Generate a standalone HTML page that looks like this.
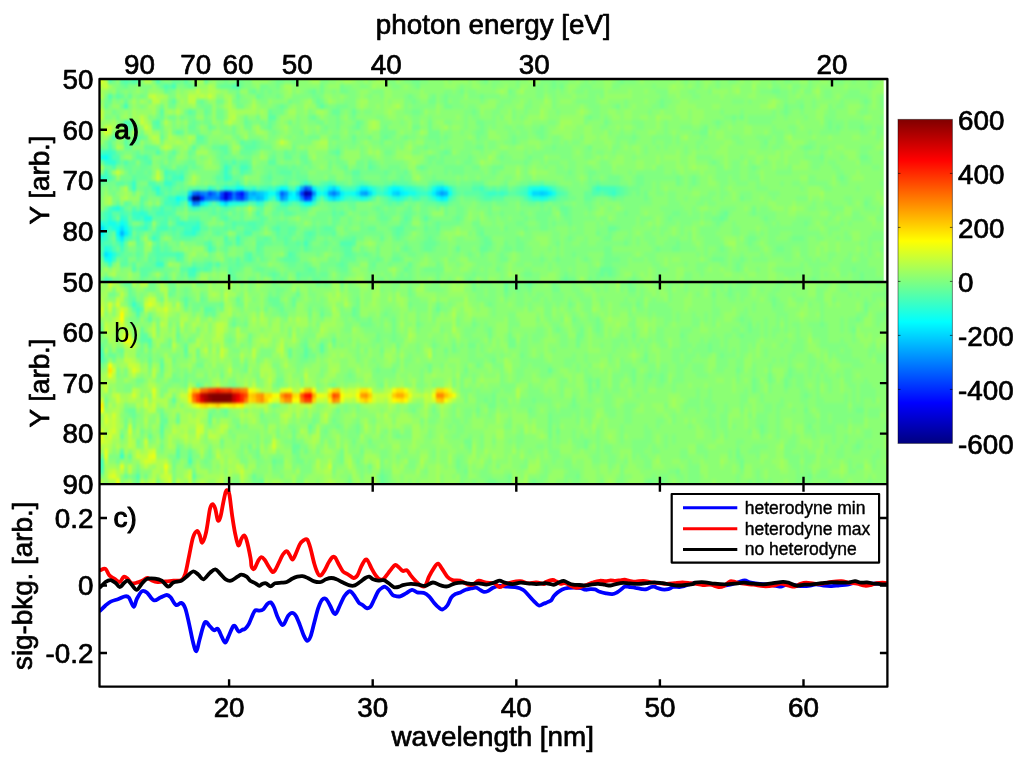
<!DOCTYPE html>
<html lang="en"><head><meta charset="utf-8"><title>figure</title>
<style>html,body{margin:0;padding:0;background:#fff}body{width:1024px;height:765px;overflow:hidden}svg{display:block;filter:blur(.45px)}</style></head>
<body>
<svg width="1024" height="765" viewBox="0 0 1024 765" font-family='"Liberation Sans", sans-serif' font-size="27.8" fill="#000">
<style>text{stroke:#000;stroke-width:.7px;stroke-linejoin:round}</style>
<defs>
<filter id="bl" x="-5%" y="-10%" width="110%" height="120%" color-interpolation-filters="sRGB"><feGaussianBlur stdDeviation="1.25 1.4"/></filter>
<clipPath id="cA"><rect x="99.5" y="79.0" width="787.9" height="203.0"/></clipPath>
<clipPath id="cB"><rect x="99.5" y="282.0" width="787.9" height="202.2"/></clipPath>
<clipPath id="cC"><rect x="99.5" y="484.2" width="787.9" height="202.5"/></clipPath>
<linearGradient id="jet" x1="0" y1="0" x2="0" y2="1"><stop offset="0" stop-color="#800000"/><stop offset="0.125" stop-color="#ff0000"/><stop offset="0.375" stop-color="#ffff00"/><stop offset="0.625" stop-color="#00ffff"/><stop offset="0.875" stop-color="#0000ff"/><stop offset="1" stop-color="#000080"/></linearGradient>
</defs>
<rect width="1024" height="765" fill="#fff" stroke="none"/>
<g clip-path="url(#cA)" stroke="none"><g filter="url(#bl)">
<rect x="87.5" y="67.0" width="811.9" height="227.0" fill="#8bff74"/>
<g transform="translate(95.50 73.925) scale(4.000 5.0750)" shape-rendering="crispEdges">
<path fill="#000080" d="M24 24h2v1h-2z"/>
<path fill="#0000a2" d="M52 23h1v1h-1z"/>
<path fill="#0000c5" d="M53 23h1v1h-1z"/>
<path fill="#0000dd" d="M32 23h1v1h-1zM32 24h1v1h-1z"/>
<path fill="#000eff" d="M36 23h1v1h-1z"/>
<path fill="#001aff" d="M33 23h1v1h-1zM26 24h1v1h-1z"/>
<path fill="#0025ff" d="M52 24h1v1h-1z"/>
<path fill="#0031ff" d="M35 23h1v1h-1zM51 23h1v1h-1zM31 24h1v1h-1zM33 24h1v1h-1zM36 24h1v1h-1z"/>
<path fill="#003dff" d="M31 23h1v1h-1zM53 24h1v1h-1z"/>
<path fill="#0049ff" d="M28 23h1v1h-1zM35 24h1v1h-1z"/>
<path fill="#0055ff" d="M52 22h1v1h-1zM25 23h1v1h-1z"/>
<path fill="#0061ff" d="M46 23h1v1h-1z"/>
<path fill="#006dff" d="M24 23h1v1h-1zM29 23h1v1h-1zM34 23h1v1h-1zM37 23h1v1h-1zM27 24h1v1h-1z"/>
<path fill="#0079ff" d="M53 22h1v1h-1zM26 23h1v1h-1zM59 23h1v1h-1zM23 24h1v1h-1zM28 24h1v1h-1zM30 24h1v1h-1zM34 24h1v1h-1zM37 24h1v1h-1zM24 25h1v1h-1z"/>
<path fill="#0085ff" d="M27 23h1v1h-1zM54 23h1v1h-1zM29 24h1v1h-1zM51 24h1v1h-1zM25 25h1v1h-1z"/>
<path fill="#0090ff" d="M47 23h1v1h-1zM46 24h1v1h-1z"/>
<path fill="#009cff" d="M30 23h1v1h-1zM58 23h1v1h-1zM67 23h1v1h-1zM86 23h1v1h-1z"/>
<path fill="#00a8ff" d="M51 22h1v1h-1zM39 23h1v1h-1zM60 23h1v1h-1zM66 23h1v1h-1z"/>
<path fill="#00b4ff" d="M38 23h1v1h-1zM50 23h1v1h-1zM87 23h1v1h-1zM40 24h1v1h-1zM47 24h1v1h-1zM6 31h1v1h-1z"/>
<path fill="#00c0ff" d="M40 23h1v1h-1zM85 23h1v1h-1zM38 24h1v1h-1zM41 24h1v1h-1z"/>
<path fill="#00ccff" d="M41 23h1v1h-1zM45 23h1v1h-1zM75 23h1v1h-1zM111 23h1v1h-1zM39 24h1v1h-1z"/>
<path fill="#00d8ff" d="M59 22h1v1h-1zM23 23h1v1h-1zM68 23h1v1h-1zM74 23h1v1h-1zM109 23h2v1h-2zM112 23h1v1h-1zM54 24h1v1h-1zM59 24h1v1h-1zM32 25h1v1h-1zM0 30h1v1h-1z"/>
<path fill="#00e4ff" d="M86 22h1v1h-1zM42 23h1v1h-1zM48 23h1v1h-1zM65 23h1v1h-1zM50 24h1v1h-1zM26 25h1v1h-1zM1 30h1v1h-1zM6 30h1v1h-1zM2 35h1v1h-1z"/>
<path fill="#00f0ff" d="M54 22h1v1h-1zM58 22h1v1h-1zM66 22h2v1h-2zM85 22h1v1h-1zM57 23h1v1h-1zM61 23h1v1h-1zM76 23h1v1h-1zM84 23h1v1h-1zM113 23h1v1h-1zM42 24h1v1h-1zM45 24h1v1h-1zM58 24h1v1h-1zM60 24h1v1h-1zM86 24h1v1h-1zM0 29h1v1h-1zM0 31h1v1h-1zM7 31h1v1h-1zM6 32h1v1h-1z"/>
<path fill="#00fcff" d="M46 22h1v1h-1zM60 22h1v1h-1zM74 22h2v1h-2zM87 22h1v1h-1zM49 23h1v1h-1zM55 23h1v1h-1zM77 23h1v1h-1zM48 24h2v1h-2zM87 24h1v1h-1zM23 25h1v1h-1zM31 25h1v1h-1zM1 31h1v1h-1zM5 31h1v1h-1zM3 35h1v1h-1z"/>
<path fill="#09fff6" d="M2 16h1v1h-1zM35 22h2v1h-2zM47 22h1v1h-1zM50 22h1v1h-1zM111 22h1v1h-1zM43 23h2v1h-2zM64 23h1v1h-1zM73 23h1v1h-1zM88 23h1v1h-1zM108 23h1v1h-1zM20 24h1v1h-1zM85 24h1v1h-1zM52 25h2v1h-2zM6 29h1v1h-1zM5 30h1v1h-1zM7 30h1v1h-1zM3 36h1v1h-1z"/>
<path fill="#14ffeb" d="M3 0h1v1h-1zM1 16h1v1h-1zM68 22h1v1h-1zM73 22h1v1h-1zM76 22h1v1h-1zM84 22h1v1h-1zM109 22h2v1h-2zM112 22h1v1h-1zM56 23h1v1h-1zM62 23h2v1h-2zM69 23h1v1h-1zM78 23h2v1h-2zM114 23h1v1h-1zM61 24h1v1h-1zM66 24h1v1h-1zM111 24h1v1h-1zM27 25h1v1h-1zM33 25h1v1h-1zM3 29h2v1h-2zM2 30h1v1h-1zM2 36h1v1h-1zM3 41h1v1h-1z"/>
<path fill="#20ffdf" d="M0 20h1v1h-1zM32 22h1v1h-1zM45 22h1v1h-1zM57 22h1v1h-1zM65 22h1v1h-1zM108 22h1v1h-1zM72 23h1v1h-1zM83 23h1v1h-1zM21 24h1v1h-1zM67 24h1v1h-1zM75 24h1v1h-1zM109 24h2v1h-2zM112 24h1v1h-1zM34 25h2v1h-2zM5 26h1v1h-1zM12 28h2v1h-2zM1 29h1v1h-1zM7 29h1v1h-1zM4 30h1v1h-1zM5 32h1v1h-1zM2 34h1v1h-1zM4 35h1v1h-1zM2 41h1v1h-1z"/>
<path fill="#2cffd3" d="M3 16h1v1h-1zM3 17h2v1h-2zM1 20h1v1h-1zM15 22h1v1h-1zM28 22h1v1h-1zM33 22h2v1h-2zM39 22h1v1h-1zM55 22h1v1h-1zM69 22h1v1h-1zM77 22h2v1h-2zM88 22h1v1h-1zM113 22h1v1h-1zM80 23h1v1h-1zM22 24h1v1h-1zM43 24h1v1h-1zM57 24h1v1h-1zM65 24h1v1h-1zM74 24h1v1h-1zM76 24h1v1h-1zM84 24h1v1h-1zM20 25h1v1h-1zM36 25h1v1h-1zM40 25h1v1h-1zM47 25h1v1h-1zM51 25h1v1h-1zM4 26h1v1h-1zM11 27h1v1h-1zM3 28h1v1h-1zM6 28h1v1h-1zM2 29h1v1h-1zM5 29h1v1h-1zM24 30h2v1h-2zM8 31h1v1h-1zM24 31h1v1h-1zM1 32h1v1h-1zM6 33h1v1h-1zM3 34h1v1h-1z"/>
<path fill="#38ffc7" d="M2 15h2v1h-2zM2 17h1v1h-1zM32 18h1v1h-1zM32 19h1v1h-1zM2 20h1v1h-1zM21 20h1v1h-1zM32 20h1v1h-1zM9 21h1v1h-1zM17 21h2v1h-2zM52 21h1v1h-1zM9 22h1v1h-1zM37 22h1v1h-1zM43 22h1v1h-1zM56 22h1v1h-1zM61 22h1v1h-1zM72 22h1v1h-1zM79 22h1v1h-1zM125 22h1v1h-1zM15 23h1v1h-1zM70 23h2v1h-2zM81 23h2v1h-2zM98 23h2v1h-2zM101 23h1v1h-1zM107 23h1v1h-1zM129 23h1v1h-1zM18 24h2v1h-2zM55 24h1v1h-1zM62 24h1v1h-1zM64 24h1v1h-1zM68 24h1v1h-1zM108 24h1v1h-1zM113 24h1v1h-1zM19 25h1v1h-1zM28 25h1v1h-1zM30 25h1v1h-1zM37 25h1v1h-1zM41 25h1v1h-1zM46 25h1v1h-1zM54 25h1v1h-1zM24 26h1v1h-1zM3 27h1v1h-1zM9 27h2v1h-2zM12 27h1v1h-1zM7 28h1v1h-1zM10 28h1v1h-1zM21 29h1v1h-1zM25 29h1v1h-1zM3 30h1v1h-1zM8 30h1v1h-1zM12 30h1v1h-1zM2 31h1v1h-1zM22 31h2v1h-2zM2 32h1v1h-1zM7 32h1v1h-1zM14 32h1v1h-1zM4 36h1v1h-1zM3 37h1v1h-1zM15 37h2v1h-2zM24 38h1v1h-1z"/>
<path fill="#44ffbb" d="M19 2h1v1h-1zM7 6h1v1h-1zM7 9h1v1h-1zM1 15h1v1h-1zM4 15h1v1h-1zM36 18h2v1h-2zM2 19h1v1h-1zM17 19h1v1h-1zM19 20h2v1h-2zM33 20h1v1h-1zM35 21h1v1h-1zM58 21h1v1h-1zM14 22h1v1h-1zM29 22h1v1h-1zM31 22h1v1h-1zM38 22h1v1h-1zM41 22h2v1h-2zM44 22h1v1h-1zM48 22h1v1h-1zM62 22h3v1h-3zM70 22h1v1h-1zM80 22h1v1h-1zM83 22h1v1h-1zM96 22h1v1h-1zM107 22h1v1h-1zM114 22h1v1h-1zM126 22h4v1h-4zM89 23h1v1h-1zM97 23h1v1h-1zM100 23h1v1h-1zM102 23h1v1h-1zM106 23h1v1h-1zM115 23h1v1h-1zM128 23h1v1h-1zM44 24h1v1h-1zM63 24h1v1h-1zM73 24h1v1h-1zM77 24h1v1h-1zM79 24h2v1h-2zM83 24h1v1h-1zM88 24h1v1h-1zM114 24h1v1h-1zM17 25h2v1h-2zM48 25h1v1h-1zM3 26h1v1h-1zM6 26h1v1h-1zM16 26h1v1h-1zM25 26h1v1h-1zM2 27h1v1h-1zM6 27h1v1h-1zM15 27h2v1h-2zM2 28h1v1h-1zM9 28h1v1h-1zM11 28h1v1h-1zM12 29h1v1h-1zM20 29h1v1h-1zM22 29h3v1h-3zM11 30h1v1h-1zM16 30h2v1h-2zM22 30h2v1h-2zM0 32h1v1h-1zM35 32h1v1h-1zM0 33h2v1h-2zM52 33h1v1h-1zM6 34h1v1h-1zM28 34h1v1h-1zM1 35h1v1h-1zM5 35h1v1h-1zM20 35h1v1h-1zM0 38h1v1h-1zM23 38h1v1h-1zM23 39h2v1h-2zM2 40h1v1h-1z"/>
<path fill="#50ffaf" d="M9 0h2v1h-2zM15 0h1v1h-1zM7 1h1v1h-1zM9 1h1v1h-1zM15 1h1v1h-1zM17 2h1v1h-1zM34 2h2v1h-2zM3 4h1v1h-1zM8 9h1v1h-1zM15 9h1v1h-1zM8 10h1v1h-1zM4 12h1v1h-1zM3 14h1v1h-1zM15 15h1v1h-1zM0 16h1v1h-1zM4 16h2v1h-2zM12 16h1v1h-1zM5 17h1v1h-1zM7 17h1v1h-1zM13 17h1v1h-1zM34 17h1v1h-1zM4 18h1v1h-1zM33 18h1v1h-1zM18 19h2v1h-2zM21 19h1v1h-1zM36 19h1v1h-1zM3 20h1v1h-1zM17 20h1v1h-1zM13 21h2v1h-2zM19 21h1v1h-1zM51 21h1v1h-1zM53 21h1v1h-1zM57 21h1v1h-1zM59 21h1v1h-1zM66 21h1v1h-1zM74 21h1v1h-1zM85 21h2v1h-2zM18 22h1v1h-1zM25 22h1v1h-1zM40 22h1v1h-1zM49 22h1v1h-1zM71 22h1v1h-1zM81 22h1v1h-1zM89 22h1v1h-1zM94 22h2v1h-2zM106 22h1v1h-1zM124 22h1v1h-1zM130 22h1v1h-1zM16 23h1v1h-1zM21 23h2v1h-2zM96 23h1v1h-1zM105 23h1v1h-1zM116 23h1v1h-1zM124 23h2v1h-2zM127 23h1v1h-1zM130 23h1v1h-1zM17 24h1v1h-1zM97 24h2v1h-2zM107 24h1v1h-1zM21 25h1v1h-1zM39 25h1v1h-1zM50 25h1v1h-1zM86 25h2v1h-2zM9 26h1v1h-1zM11 26h1v1h-1zM19 26h1v1h-1zM23 26h1v1h-1zM32 26h1v1h-1zM7 27h1v1h-1zM17 27h2v1h-2zM40 27h1v1h-1zM0 28h1v1h-1zM4 28h1v1h-1zM17 28h1v1h-1zM20 28h1v1h-1zM32 28h1v1h-1zM13 29h1v1h-1zM16 29h2v1h-2zM34 29h1v1h-1zM38 29h2v1h-2zM10 30h1v1h-1zM15 30h1v1h-1zM19 30h1v1h-1zM39 30h1v1h-1zM45 30h1v1h-1zM3 31h1v1h-1zM15 31h1v1h-1zM21 31h1v1h-1zM25 31h1v1h-1zM37 31h2v1h-2zM53 31h1v1h-1zM8 32h1v1h-1zM10 32h1v1h-1zM15 32h1v1h-1zM32 32h1v1h-1zM2 33h2v1h-2zM5 33h1v1h-1zM28 33h1v1h-1zM35 33h1v1h-1zM61 33h3v1h-3zM1 34h1v1h-1zM4 34h1v1h-1zM15 34h1v1h-1zM15 35h5v1h-5zM21 35h1v1h-1zM38 35h1v1h-1zM48 35h1v1h-1zM15 36h1v1h-1zM20 36h1v1h-1zM38 36h1v1h-1zM0 37h1v1h-1zM28 37h1v1h-1zM30 37h1v1h-1zM9 38h1v1h-1zM25 38h1v1h-1zM27 38h1v1h-1zM3 40h1v1h-1zM54 41h2v1h-2z"/>
<path fill="#5cffa3" d="M2 0h1v1h-1zM4 0h1v1h-1zM14 0h1v1h-1zM3 1h1v1h-1zM6 1h1v1h-1zM8 1h1v1h-1zM10 1h1v1h-1zM22 1h1v1h-1zM18 2h1v1h-1zM5 4h1v1h-1zM0 5h1v1h-1zM19 5h1v1h-1zM56 6h1v1h-1zM16 7h1v1h-1zM23 7h1v1h-1zM43 8h2v1h-2zM14 9h1v1h-1zM15 10h1v1h-1zM20 11h1v1h-1zM10 12h1v1h-1zM25 12h2v1h-2zM3 13h1v1h-1zM7 13h1v1h-1zM36 13h1v1h-1zM39 13h1v1h-1zM24 14h1v1h-1zM31 14h2v1h-2zM37 14h3v1h-3zM0 15h1v1h-1zM19 15h1v1h-1zM32 15h1v1h-1zM60 15h1v1h-1zM10 16h2v1h-2zM12 17h1v1h-1zM32 17h1v1h-1zM36 17h2v1h-2zM43 17h2v1h-2zM22 18h1v1h-1zM38 18h1v1h-1zM68 18h1v1h-1zM20 19h1v1h-1zM31 19h1v1h-1zM33 19h1v1h-1zM37 19h1v1h-1zM46 19h3v1h-3zM64 19h2v1h-2zM9 20h1v1h-1zM18 20h1v1h-1zM30 20h2v1h-2zM43 20h1v1h-1zM0 21h1v1h-1zM5 21h2v1h-2zM8 21h1v1h-1zM32 21h1v1h-1zM34 21h1v1h-1zM47 21h1v1h-1zM56 21h1v1h-1zM65 21h1v1h-1zM67 21h1v1h-1zM75 21h3v1h-3zM84 21h1v1h-1zM111 21h1v1h-1zM0 22h1v1h-1zM16 22h2v1h-2zM23 22h2v1h-2zM26 22h2v1h-2zM82 22h1v1h-1zM97 22h1v1h-1zM99 22h1v1h-1zM101 22h2v1h-2zM105 22h1v1h-1zM115 22h1v1h-1zM131 22h1v1h-1zM0 23h1v1h-1zM18 23h1v1h-1zM20 23h1v1h-1zM90 23h1v1h-1zM92 23h4v1h-4zM103 23h2v1h-2zM117 23h1v1h-1zM126 23h1v1h-1zM131 23h1v1h-1zM11 24h1v1h-1zM56 24h1v1h-1zM69 24h1v1h-1zM72 24h1v1h-1zM78 24h1v1h-1zM81 24h2v1h-2zM89 24h1v1h-1zM96 24h1v1h-1zM99 24h3v1h-3zM115 24h1v1h-1zM7 25h1v1h-1zM11 25h1v1h-1zM29 25h1v1h-1zM38 25h1v1h-1zM49 25h1v1h-1zM73 25h1v1h-1zM75 25h1v1h-1zM85 25h1v1h-1zM14 26h2v1h-2zM17 26h2v1h-2zM26 26h2v1h-2zM29 26h1v1h-1zM31 26h1v1h-1zM33 26h1v1h-1zM41 26h1v1h-1zM45 26h3v1h-3zM51 26h2v1h-2zM1 27h1v1h-1zM4 27h2v1h-2zM8 27h1v1h-1zM13 27h2v1h-2zM19 27h1v1h-1zM29 27h1v1h-1zM31 27h1v1h-1zM47 27h2v1h-2zM59 27h1v1h-1zM61 27h1v1h-1zM1 28h1v1h-1zM14 28h3v1h-3zM19 28h1v1h-1zM23 28h3v1h-3zM31 28h1v1h-1zM41 28h1v1h-1zM77 28h1v1h-1zM82 28h1v1h-1zM8 29h1v1h-1zM26 29h1v1h-1zM35 29h3v1h-3zM40 29h2v1h-2zM9 30h1v1h-1zM13 30h1v1h-1zM18 30h1v1h-1zM20 30h2v1h-2zM26 30h2v1h-2zM32 30h1v1h-1zM34 30h1v1h-1zM37 30h2v1h-2zM40 30h1v1h-1zM44 30h1v1h-1zM48 30h2v1h-2zM57 30h2v1h-2zM75 30h2v1h-2zM10 31h1v1h-1zM14 31h1v1h-1zM19 31h1v1h-1zM30 31h1v1h-1zM45 31h1v1h-1zM48 31h1v1h-1zM52 31h1v1h-1zM54 31h1v1h-1zM59 31h1v1h-1zM75 31h1v1h-1zM3 32h1v1h-1zM21 32h3v1h-3zM42 32h1v1h-1zM47 32h1v1h-1zM52 32h2v1h-2zM64 32h1v1h-1zM10 33h1v1h-1zM15 33h1v1h-1zM27 33h1v1h-1zM32 33h2v1h-2zM40 33h2v1h-2zM47 33h1v1h-1zM50 33h1v1h-1zM64 33h1v1h-1zM14 34h1v1h-1zM17 34h1v1h-1zM29 34h1v1h-1zM40 34h1v1h-1zM52 34h1v1h-1zM62 34h2v1h-2zM6 35h1v1h-1zM10 35h1v1h-1zM14 35h1v1h-1zM37 35h1v1h-1zM49 35h1v1h-1zM62 35h2v1h-2zM7 36h1v1h-1zM13 36h1v1h-1zM16 36h1v1h-1zM21 36h1v1h-1zM35 36h1v1h-1zM37 36h1v1h-1zM47 36h3v1h-3zM6 37h2v1h-2zM9 37h1v1h-1zM14 37h1v1h-1zM24 37h1v1h-1zM27 37h1v1h-1zM35 37h1v1h-1zM61 37h1v1h-1zM11 38h3v1h-3zM21 38h2v1h-2zM26 38h1v1h-1zM28 38h1v1h-1zM33 38h1v1h-1zM53 38h1v1h-1zM11 39h2v1h-2zM33 39h1v1h-1zM44 39h1v1h-1zM50 39h1v1h-1zM17 40h1v1h-1zM34 40h1v1h-1zM1 41h1v1h-1zM4 41h1v1h-1zM19 41h1v1h-1zM25 41h2v1h-2zM28 41h1v1h-1zM44 41h1v1h-1z"/>
<path fill="#68ff97" d="M6 0h1v1h-1zM48 0h2v1h-2zM79 0h1v1h-1zM19 1h2v1h-2zM27 1h1v1h-1zM35 1h1v1h-1zM7 2h1v1h-1zM16 2h1v1h-1zM23 2h1v1h-1zM31 2h3v1h-3zM17 3h1v1h-1zM39 3h1v1h-1zM54 3h1v1h-1zM6 4h1v1h-1zM8 4h1v1h-1zM35 4h1v1h-1zM40 4h1v1h-1zM3 5h1v1h-1zM7 5h1v1h-1zM26 5h1v1h-1zM55 5h1v1h-1zM2 6h1v1h-1zM46 6h1v1h-1zM24 7h1v1h-1zM27 7h1v1h-1zM43 7h1v1h-1zM59 7h2v1h-2zM64 7h1v1h-1zM16 8h1v1h-1zM54 8h1v1h-1zM24 9h1v1h-1zM37 9h1v1h-1zM43 9h1v1h-1zM65 9h1v1h-1zM14 10h1v1h-1zM23 10h2v1h-2zM28 10h1v1h-1zM43 10h1v1h-1zM65 10h1v1h-1zM21 11h1v1h-1zM7 12h1v1h-1zM11 12h1v1h-1zM16 12h1v1h-1zM64 12h1v1h-1zM72 12h1v1h-1zM9 13h2v1h-2zM25 13h2v1h-2zM37 13h2v1h-2zM40 13h1v1h-1zM7 14h2v1h-2zM12 14h3v1h-3zM29 14h2v1h-2zM40 14h1v1h-1zM5 15h1v1h-1zM10 15h1v1h-1zM23 15h1v1h-1zM31 15h1v1h-1zM36 15h3v1h-3zM47 15h1v1h-1zM59 15h1v1h-1zM87 15h1v1h-1zM198 15h1v1h-1zM13 16h1v1h-1zM18 16h1v1h-1zM31 16h1v1h-1zM44 16h1v1h-1zM47 16h2v1h-2zM51 16h2v1h-2zM198 16h1v1h-1zM1 17h1v1h-1zM6 17h1v1h-1zM8 17h2v1h-2zM11 17h1v1h-1zM23 17h2v1h-2zM31 17h1v1h-1zM33 17h1v1h-1zM35 17h1v1h-1zM38 17h1v1h-1zM52 17h1v1h-1zM68 17h1v1h-1zM2 18h2v1h-2zM7 18h2v1h-2zM11 18h2v1h-2zM16 18h2v1h-2zM20 18h2v1h-2zM24 18h1v1h-1zM31 18h1v1h-1zM35 18h1v1h-1zM45 18h3v1h-3zM49 18h1v1h-1zM62 18h1v1h-1zM69 18h1v1h-1zM81 18h1v1h-1zM3 19h1v1h-1zM8 19h1v1h-1zM10 19h2v1h-2zM13 19h1v1h-1zM22 19h1v1h-1zM38 19h1v1h-1zM43 19h1v1h-1zM45 19h1v1h-1zM50 19h1v1h-1zM72 19h1v1h-1zM77 19h1v1h-1zM4 20h1v1h-1zM10 20h3v1h-3zM34 20h2v1h-2zM42 20h1v1h-1zM47 20h2v1h-2zM50 20h3v1h-3zM64 20h2v1h-2zM76 20h1v1h-1zM1 21h1v1h-1zM7 21h1v1h-1zM15 21h2v1h-2zM20 21h2v1h-2zM30 21h2v1h-2zM33 21h1v1h-1zM36 21h1v1h-1zM42 21h2v1h-2zM46 21h1v1h-1zM60 21h2v1h-2zM64 21h1v1h-1zM68 21h1v1h-1zM72 21h2v1h-2zM78 21h1v1h-1zM83 21h1v1h-1zM87 21h1v1h-1zM94 21h3v1h-3zM108 21h3v1h-3zM125 21h1v1h-1zM8 22h1v1h-1zM12 22h2v1h-2zM19 22h1v1h-1zM21 22h1v1h-1zM30 22h1v1h-1zM90 22h4v1h-4zM98 22h1v1h-1zM100 22h1v1h-1zM104 22h1v1h-1zM116 22h1v1h-1zM132 22h1v1h-1zM12 23h1v1h-1zM14 23h1v1h-1zM17 23h1v1h-1zM19 23h1v1h-1zM91 23h1v1h-1zM122 23h2v1h-2zM132 23h1v1h-1zM0 24h1v1h-1zM12 24h1v1h-1zM16 24h1v1h-1zM71 24h1v1h-1zM95 24h1v1h-1zM106 24h1v1h-1zM116 24h2v1h-2zM122 24h2v1h-2zM129 24h1v1h-1zM0 25h1v1h-1zM5 25h1v1h-1zM8 25h1v1h-1zM16 25h1v1h-1zM22 25h1v1h-1zM42 25h1v1h-1zM45 25h1v1h-1zM55 25h1v1h-1zM58 25h3v1h-3zM63 25h2v1h-2zM72 25h1v1h-1zM74 25h1v1h-1zM76 25h1v1h-1zM82 25h3v1h-3zM88 25h1v1h-1zM108 25h2v1h-2zM111 25h1v1h-1zM2 26h1v1h-1zM7 26h1v1h-1zM10 26h1v1h-1zM12 26h1v1h-1zM20 26h2v1h-2zM28 26h1v1h-1zM34 26h1v1h-1zM40 26h1v1h-1zM59 26h1v1h-1zM64 26h1v1h-1zM70 26h1v1h-1zM78 26h1v1h-1zM116 26h2v1h-2zM0 27h1v1h-1zM28 27h1v1h-1zM30 27h1v1h-1zM32 27h1v1h-1zM34 27h1v1h-1zM36 27h1v1h-1zM41 27h1v1h-1zM44 27h2v1h-2zM49 27h1v1h-1zM60 27h1v1h-1zM71 27h1v1h-1zM77 27h2v1h-2zM117 27h1v1h-1zM157 27h1v1h-1zM8 28h1v1h-1zM18 28h1v1h-1zM33 28h1v1h-1zM36 28h1v1h-1zM40 28h1v1h-1zM42 28h1v1h-1zM59 28h2v1h-2zM71 28h2v1h-2zM78 28h1v1h-1zM90 28h1v1h-1zM156 28h1v1h-1zM11 29h1v1h-1zM15 29h1v1h-1zM19 29h1v1h-1zM32 29h2v1h-2zM45 29h3v1h-3zM59 29h1v1h-1zM76 29h2v1h-2zM85 29h1v1h-1zM29 30h3v1h-3zM33 30h1v1h-1zM46 30h2v1h-2zM54 30h1v1h-1zM56 30h1v1h-1zM59 30h1v1h-1zM68 30h2v1h-2zM74 30h1v1h-1zM82 30h1v1h-1zM85 30h1v1h-1zM128 30h2v1h-2zM4 31h1v1h-1zM11 31h1v1h-1zM16 31h1v1h-1zM18 31h1v1h-1zM20 31h1v1h-1zM26 31h1v1h-1zM29 31h1v1h-1zM31 31h1v1h-1zM35 31h2v1h-2zM46 31h2v1h-2zM49 31h1v1h-1zM56 31h3v1h-3zM74 31h1v1h-1zM76 31h1v1h-1zM96 31h1v1h-1zM9 32h1v1h-1zM13 32h1v1h-1zM19 32h2v1h-2zM24 32h1v1h-1zM36 32h1v1h-1zM40 32h2v1h-2zM43 32h1v1h-1zM45 32h2v1h-2zM48 32h1v1h-1zM54 32h1v1h-1zM62 32h2v1h-2zM71 32h1v1h-1zM75 32h1v1h-1zM83 32h1v1h-1zM97 32h1v1h-1zM4 33h1v1h-1zM7 33h1v1h-1zM11 33h1v1h-1zM17 33h1v1h-1zM36 33h1v1h-1zM42 33h2v1h-2zM48 33h2v1h-2zM51 33h1v1h-1zM53 33h1v1h-1zM57 33h1v1h-1zM82 33h3v1h-3zM97 33h2v1h-2zM5 34h1v1h-1zM7 34h1v1h-1zM10 34h2v1h-2zM16 34h1v1h-1zM18 34h1v1h-1zM32 34h1v1h-1zM41 34h1v1h-1zM48 34h3v1h-3zM53 34h1v1h-1zM61 34h1v1h-1zM77 34h1v1h-1zM82 34h2v1h-2zM90 34h1v1h-1zM96 34h2v1h-2zM7 35h2v1h-2zM11 35h1v1h-1zM13 35h1v1h-1zM40 35h2v1h-2zM64 35h1v1h-1zM67 35h1v1h-1zM1 36h1v1h-1zM6 36h1v1h-1zM10 36h1v1h-1zM14 36h1v1h-1zM17 36h1v1h-1zM33 36h1v1h-1zM39 36h1v1h-1zM41 36h1v1h-1zM46 36h1v1h-1zM50 36h1v1h-1zM61 36h4v1h-4zM70 36h1v1h-1zM74 36h2v1h-2zM2 37h1v1h-1zM12 37h2v1h-2zM25 37h2v1h-2zM29 37h1v1h-1zM33 37h2v1h-2zM36 37h1v1h-1zM48 37h2v1h-2zM52 37h1v1h-1zM60 37h1v1h-1zM62 37h1v1h-1zM69 37h1v1h-1zM78 37h1v1h-1zM14 38h3v1h-3zM34 38h2v1h-2zM40 38h2v1h-2zM52 38h1v1h-1zM54 38h1v1h-1zM61 38h2v1h-2zM77 38h1v1h-1zM126 38h3v1h-3zM17 39h1v1h-1zM21 39h1v1h-1zM34 39h1v1h-1zM43 39h1v1h-1zM45 39h1v1h-1zM51 39h4v1h-4zM56 39h2v1h-2zM126 39h1v1h-1zM128 39h1v1h-1zM11 40h1v1h-1zM16 40h1v1h-1zM23 40h2v1h-2zM44 40h1v1h-1zM46 40h1v1h-1zM50 40h1v1h-1zM54 40h2v1h-2zM117 40h1v1h-1zM5 41h1v1h-1zM8 41h1v1h-1zM11 41h1v1h-1zM24 41h1v1h-1zM27 41h1v1h-1zM34 41h1v1h-1zM43 41h1v1h-1zM56 41h1v1h-1zM93 41h1v1h-1zM117 41h1v1h-1z"/>
<path fill="#74ff8b" d="M27 0h1v1h-1zM41 0h1v1h-1zM45 0h1v1h-1zM78 0h1v1h-1zM81 0h1v1h-1zM102 0h1v1h-1zM111 0h2v1h-2zM185 0h2v1h-2zM192 0h2v1h-2zM4 1h1v1h-1zM16 1h1v1h-1zM21 1h1v1h-1zM23 1h1v1h-1zM32 1h1v1h-1zM36 1h1v1h-1zM45 1h2v1h-2zM49 1h1v1h-1zM79 1h2v1h-2zM97 1h1v1h-1zM114 1h1v1h-1zM131 1h1v1h-1zM6 2h1v1h-1zM22 2h1v1h-1zM24 2h1v1h-1zM30 2h1v1h-1zM36 2h1v1h-1zM41 2h2v1h-2zM45 2h1v1h-1zM56 2h1v1h-1zM61 2h1v1h-1zM80 2h1v1h-1zM114 2h1v1h-1zM116 2h1v1h-1zM5 3h1v1h-1zM18 3h1v1h-1zM35 3h1v1h-1zM38 3h1v1h-1zM41 3h1v1h-1zM43 3h1v1h-1zM53 3h1v1h-1zM56 3h1v1h-1zM61 3h2v1h-2zM91 3h1v1h-1zM103 3h1v1h-1zM169 3h2v1h-2zM4 4h1v1h-1zM11 4h1v1h-1zM41 4h1v1h-1zM45 4h1v1h-1zM54 4h2v1h-2zM78 4h1v1h-1zM84 4h1v1h-1zM87 4h1v1h-1zM96 4h1v1h-1zM2 5h1v1h-1zM18 5h1v1h-1zM25 5h1v1h-1zM30 5h2v1h-2zM35 5h1v1h-1zM48 5h1v1h-1zM56 5h1v1h-1zM79 5h1v1h-1zM83 5h2v1h-2zM87 5h1v1h-1zM141 5h1v1h-1zM192 5h1v1h-1zM197 5h1v1h-1zM6 6h1v1h-1zM16 6h1v1h-1zM18 6h2v1h-2zM26 6h3v1h-3zM35 6h2v1h-2zM45 6h1v1h-1zM47 6h1v1h-1zM55 6h1v1h-1zM57 6h1v1h-1zM60 6h3v1h-3zM87 6h2v1h-2zM130 6h1v1h-1zM141 6h1v1h-1zM172 6h1v1h-1zM176 6h1v1h-1zM197 6h1v1h-1zM4 7h1v1h-1zM22 7h1v1h-1zM28 7h1v1h-1zM30 7h2v1h-2zM44 7h3v1h-3zM79 7h2v1h-2zM94 7h1v1h-1zM172 7h1v1h-1zM5 8h1v1h-1zM15 8h1v1h-1zM18 8h2v1h-2zM21 8h1v1h-1zM23 8h2v1h-2zM27 8h1v1h-1zM30 8h2v1h-2zM37 8h1v1h-1zM40 8h1v1h-1zM53 8h1v1h-1zM60 8h1v1h-1zM64 8h1v1h-1zM123 8h1v1h-1zM159 8h1v1h-1zM161 8h1v1h-1zM6 9h1v1h-1zM23 9h1v1h-1zM25 9h1v1h-1zM27 9h2v1h-2zM38 9h1v1h-1zM41 9h1v1h-1zM44 9h1v1h-1zM48 9h1v1h-1zM55 9h2v1h-2zM60 9h1v1h-1zM66 9h1v1h-1zM83 9h1v1h-1zM95 9h2v1h-2zM127 9h1v1h-1zM155 9h1v1h-1zM183 9h1v1h-1zM7 10h1v1h-1zM9 10h2v1h-2zM16 10h1v1h-1zM29 10h1v1h-1zM34 10h1v1h-1zM37 10h2v1h-2zM42 10h1v1h-1zM57 10h1v1h-1zM60 10h1v1h-1zM64 10h1v1h-1zM72 10h1v1h-1zM79 10h2v1h-2zM83 10h1v1h-1zM96 10h1v1h-1zM111 10h1v1h-1zM152 10h1v1h-1zM183 10h1v1h-1zM185 10h1v1h-1zM191 10h1v1h-1zM7 11h2v1h-2zM11 11h1v1h-1zM16 11h1v1h-1zM19 11h1v1h-1zM23 11h3v1h-3zM34 11h1v1h-1zM44 11h1v1h-1zM51 11h1v1h-1zM71 11h4v1h-4zM83 11h3v1h-3zM95 11h2v1h-2zM110 11h2v1h-2zM151 11h2v1h-2zM12 12h1v1h-1zM27 12h1v1h-1zM35 12h1v1h-1zM53 12h3v1h-3zM59 12h2v1h-2zM68 12h1v1h-1zM71 12h1v1h-1zM73 12h1v1h-1zM77 12h1v1h-1zM83 12h3v1h-3zM87 12h1v1h-1zM95 12h1v1h-1zM104 12h1v1h-1zM111 12h1v1h-1zM134 12h1v1h-1zM2 13h1v1h-1zM8 13h1v1h-1zM27 13h1v1h-1zM41 13h1v1h-1zM64 13h1v1h-1zM71 13h1v1h-1zM85 13h1v1h-1zM104 13h1v1h-1zM167 13h1v1h-1zM0 14h3v1h-3zM4 14h1v1h-1zM15 14h1v1h-1zM36 14h1v1h-1zM41 14h3v1h-3zM49 14h1v1h-1zM60 14h1v1h-1zM82 14h1v1h-1zM95 14h2v1h-2zM114 14h1v1h-1zM123 14h1v1h-1zM177 14h2v1h-2zM6 15h1v1h-1zM9 15h1v1h-1zM12 15h3v1h-3zM16 15h1v1h-1zM18 15h1v1h-1zM24 15h1v1h-1zM30 15h1v1h-1zM33 15h1v1h-1zM39 15h1v1h-1zM44 15h1v1h-1zM48 15h2v1h-2zM51 15h2v1h-2zM58 15h1v1h-1zM72 15h2v1h-2zM86 15h1v1h-1zM88 15h1v1h-1zM9 16h1v1h-1zM19 16h1v1h-1zM23 16h1v1h-1zM30 16h1v1h-1zM32 16h3v1h-3zM37 16h2v1h-2zM43 16h1v1h-1zM60 16h1v1h-1zM83 16h2v1h-2zM86 16h1v1h-1zM93 16h1v1h-1zM101 16h1v1h-1zM108 16h1v1h-1zM181 16h1v1h-1zM191 16h2v1h-2zM0 17h1v1h-1zM16 17h1v1h-1zM18 17h1v1h-1zM22 17h1v1h-1zM51 17h1v1h-1zM53 17h1v1h-1zM58 17h1v1h-1zM60 17h2v1h-2zM65 17h2v1h-2zM69 17h1v1h-1zM83 17h1v1h-1zM85 17h2v1h-2zM92 17h2v1h-2zM107 17h1v1h-1zM154 17h1v1h-1zM198 17h1v1h-1zM9 18h2v1h-2zM13 18h1v1h-1zM18 18h1v1h-1zM23 18h1v1h-1zM25 18h1v1h-1zM34 18h1v1h-1zM42 18h3v1h-3zM48 18h1v1h-1zM50 18h2v1h-2zM53 18h1v1h-1zM58 18h1v1h-1zM61 18h1v1h-1zM65 18h2v1h-2zM70 18h1v1h-1zM73 18h3v1h-3zM80 18h1v1h-1zM82 18h1v1h-1zM87 18h5v1h-5zM94 18h2v1h-2zM99 18h3v1h-3zM164 18h1v1h-1zM9 19h1v1h-1zM12 19h1v1h-1zM30 19h1v1h-1zM35 19h1v1h-1zM42 19h1v1h-1zM44 19h1v1h-1zM49 19h1v1h-1zM51 19h2v1h-2zM62 19h2v1h-2zM66 19h6v1h-6zM73 19h1v1h-1zM75 19h2v1h-2zM87 19h1v1h-1zM89 19h3v1h-3zM99 19h1v1h-1zM118 19h1v1h-1zM123 19h2v1h-2zM6 20h3v1h-3zM13 20h1v1h-1zM22 20h1v1h-1zM29 20h1v1h-1zM36 20h1v1h-1zM41 20h1v1h-1zM44 20h3v1h-3zM49 20h1v1h-1zM58 20h2v1h-2zM66 20h1v1h-1zM71 20h2v1h-2zM75 20h1v1h-1zM77 20h2v1h-2zM84 20h1v1h-1zM123 20h1v1h-1zM128 20h3v1h-3zM135 20h2v1h-2zM145 20h1v1h-1zM149 20h1v1h-1zM186 20h1v1h-1zM2 21h3v1h-3zM10 21h1v1h-1zM38 21h1v1h-1zM41 21h1v1h-1zM45 21h1v1h-1zM48 21h1v1h-1zM50 21h1v1h-1zM54 21h2v1h-2zM62 21h1v1h-1zM69 21h3v1h-3zM79 21h1v1h-1zM88 21h2v1h-2zM91 21h3v1h-3zM102 21h1v1h-1zM106 21h2v1h-2zM112 21h3v1h-3zM123 21h2v1h-2zM126 21h5v1h-5zM135 21h2v1h-2zM145 21h1v1h-1zM149 21h1v1h-1zM3 22h1v1h-1zM5 22h1v1h-1zM10 22h2v1h-2zM20 22h1v1h-1zM22 22h1v1h-1zM103 22h1v1h-1zM117 22h1v1h-1zM123 22h1v1h-1zM133 22h3v1h-3zM4 23h1v1h-1zM9 23h1v1h-1zM13 23h1v1h-1zM118 23h1v1h-1zM133 23h1v1h-1zM135 23h1v1h-1zM137 23h1v1h-1zM90 24h1v1h-1zM92 24h3v1h-3zM102 24h4v1h-4zM118 24h2v1h-2zM124 24h1v1h-1zM128 24h1v1h-1zM130 24h2v1h-2zM137 24h1v1h-1zM161 24h1v1h-1zM44 25h1v1h-1zM57 25h1v1h-1zM61 25h2v1h-2zM71 25h1v1h-1zM78 25h2v1h-2zM81 25h1v1h-1zM89 25h2v1h-2zM96 25h3v1h-3zM100 25h3v1h-3zM106 25h2v1h-2zM110 25h1v1h-1zM112 25h1v1h-1zM114 25h3v1h-3zM122 25h2v1h-2zM192 25h1v1h-1zM8 26h1v1h-1zM13 26h1v1h-1zM30 26h1v1h-1zM36 26h1v1h-1zM44 26h1v1h-1zM48 26h3v1h-3zM53 26h1v1h-1zM58 26h1v1h-1zM60 26h2v1h-2zM63 26h1v1h-1zM69 26h1v1h-1zM71 26h1v1h-1zM73 26h2v1h-2zM77 26h1v1h-1zM81 26h2v1h-2zM85 26h1v1h-1zM87 26h1v1h-1zM90 26h2v1h-2zM98 26h1v1h-1zM111 26h1v1h-1zM113 26h1v1h-1zM118 26h1v1h-1zM123 26h1v1h-1zM164 26h1v1h-1zM23 27h5v1h-5zM35 27h1v1h-1zM39 27h1v1h-1zM46 27h1v1h-1zM50 27h3v1h-3zM55 27h4v1h-4zM62 27h1v1h-1zM66 27h2v1h-2zM70 27h1v1h-1zM72 27h3v1h-3zM76 27h1v1h-1zM79 27h1v1h-1zM81 27h2v1h-2zM87 27h1v1h-1zM90 27h2v1h-2zM98 27h1v1h-1zM101 27h1v1h-1zM106 27h1v1h-1zM110 27h4v1h-4zM116 27h1v1h-1zM118 27h1v1h-1zM132 27h1v1h-1zM144 27h2v1h-2zM156 27h1v1h-1zM164 27h1v1h-1zM5 28h1v1h-1zM21 28h1v1h-1zM26 28h3v1h-3zM30 28h1v1h-1zM34 28h2v1h-2zM39 28h1v1h-1zM44 28h2v1h-2zM47 28h1v1h-1zM54 28h4v1h-4zM63 28h1v1h-1zM70 28h1v1h-1zM73 28h1v1h-1zM76 28h1v1h-1zM81 28h1v1h-1zM83 28h1v1h-1zM89 28h1v1h-1zM91 28h1v1h-1zM107 28h1v1h-1zM110 28h3v1h-3zM117 28h2v1h-2zM143 28h1v1h-1zM154 28h2v1h-2zM157 28h1v1h-1zM167 28h1v1h-1zM198 28h1v1h-1zM27 29h1v1h-1zM42 29h3v1h-3zM48 29h2v1h-2zM54 29h1v1h-1zM56 29h2v1h-2zM60 29h1v1h-1zM63 29h1v1h-1zM66 29h1v1h-1zM71 29h2v1h-2zM78 29h1v1h-1zM82 29h1v1h-1zM84 29h1v1h-1zM86 29h5v1h-5zM94 29h2v1h-2zM105 29h2v1h-2zM111 29h2v1h-2zM114 29h1v1h-1zM118 29h1v1h-1zM155 29h1v1h-1zM177 29h1v1h-1zM28 30h1v1h-1zM35 30h2v1h-2zM41 30h1v1h-1zM43 30h1v1h-1zM50 30h1v1h-1zM52 30h2v1h-2zM55 30h1v1h-1zM62 30h1v1h-1zM66 30h2v1h-2zM73 30h1v1h-1zM77 30h3v1h-3zM83 30h2v1h-2zM95 30h2v1h-2zM102 30h1v1h-1zM107 30h1v1h-1zM111 30h2v1h-2zM130 30h1v1h-1zM9 31h1v1h-1zM13 31h1v1h-1zM17 31h1v1h-1zM27 31h1v1h-1zM32 31h1v1h-1zM39 31h2v1h-2zM44 31h1v1h-1zM51 31h1v1h-1zM55 31h1v1h-1zM63 31h9v1h-9zM77 31h1v1h-1zM82 31h4v1h-4zM95 31h1v1h-1zM125 31h1v1h-1zM128 31h1v1h-1zM4 32h1v1h-1zM25 32h2v1h-2zM28 32h1v1h-1zM33 32h2v1h-2zM37 32h1v1h-1zM50 32h2v1h-2zM57 32h1v1h-1zM59 32h3v1h-3zM65 32h2v1h-2zM74 32h1v1h-1zM76 32h1v1h-1zM82 32h1v1h-1zM84 32h1v1h-1zM96 32h1v1h-1zM98 32h1v1h-1zM105 32h1v1h-1zM118 32h1v1h-1zM127 32h2v1h-2zM163 32h2v1h-2zM174 32h3v1h-3zM14 33h1v1h-1zM16 33h1v1h-1zM20 33h1v1h-1zM25 33h2v1h-2zM29 33h1v1h-1zM34 33h1v1h-1zM44 33h3v1h-3zM56 33h1v1h-1zM58 33h1v1h-1zM60 33h1v1h-1zM77 33h1v1h-1zM81 33h1v1h-1zM85 33h1v1h-1zM96 33h1v1h-1zM102 33h1v1h-1zM105 33h2v1h-2zM115 33h1v1h-1zM132 33h1v1h-1zM145 33h1v1h-1zM163 33h1v1h-1zM27 34h1v1h-1zM31 34h1v1h-1zM37 34h1v1h-1zM47 34h1v1h-1zM51 34h1v1h-1zM54 34h4v1h-4zM59 34h2v1h-2zM66 34h1v1h-1zM70 34h1v1h-1zM76 34h1v1h-1zM78 34h1v1h-1zM81 34h1v1h-1zM84 34h1v1h-1zM98 34h1v1h-1zM102 34h2v1h-2zM105 34h2v1h-2zM127 34h2v1h-2zM140 34h1v1h-1zM144 34h2v1h-2zM156 34h1v1h-1zM170 34h2v1h-2zM197 34h1v1h-1zM9 35h1v1h-1zM28 35h1v1h-1zM32 35h1v1h-1zM39 35h1v1h-1zM47 35h1v1h-1zM50 35h1v1h-1zM55 35h1v1h-1zM61 35h1v1h-1zM65 35h2v1h-2zM68 35h1v1h-1zM70 35h1v1h-1zM74 35h2v1h-2zM78 35h2v1h-2zM93 35h1v1h-1zM96 35h1v1h-1zM101 35h1v1h-1zM119 35h1v1h-1zM127 35h2v1h-2zM5 36h1v1h-1zM11 36h1v1h-1zM18 36h2v1h-2zM27 36h2v1h-2zM32 36h1v1h-1zM34 36h1v1h-1zM36 36h1v1h-1zM42 36h1v1h-1zM45 36h1v1h-1zM58 36h2v1h-2zM68 36h2v1h-2zM71 36h1v1h-1zM76 36h1v1h-1zM101 36h2v1h-2zM111 36h1v1h-1zM115 36h1v1h-1zM122 36h1v1h-1zM127 36h4v1h-4zM154 36h3v1h-3zM161 36h1v1h-1zM8 37h1v1h-1zM11 37h1v1h-1zM17 37h1v1h-1zM21 37h2v1h-2zM31 37h2v1h-2zM37 37h4v1h-4zM47 37h1v1h-1zM50 37h2v1h-2zM53 37h1v1h-1zM56 37h4v1h-4zM68 37h1v1h-1zM73 37h1v1h-1zM85 37h1v1h-1zM127 37h2v1h-2zM160 37h1v1h-1zM10 38h1v1h-1zM17 38h2v1h-2zM30 38h1v1h-1zM36 38h1v1h-1zM39 38h1v1h-1zM42 38h3v1h-3zM48 38h4v1h-4zM56 38h2v1h-2zM60 38h1v1h-1zM68 38h2v1h-2zM78 38h1v1h-1zM82 38h5v1h-5zM100 38h1v1h-1zM129 38h1v1h-1zM160 38h1v1h-1zM189 38h1v1h-1zM198 38h1v1h-1zM13 39h1v1h-1zM22 39h1v1h-1zM25 39h1v1h-1zM41 39h2v1h-2zM47 39h1v1h-1zM55 39h1v1h-1zM61 39h2v1h-2zM76 39h1v1h-1zM78 39h1v1h-1zM85 39h1v1h-1zM94 39h1v1h-1zM107 39h2v1h-2zM117 39h1v1h-1zM125 39h1v1h-1zM127 39h1v1h-1zM129 39h1v1h-1zM191 39h1v1h-1zM0 40h2v1h-2zM4 40h2v1h-2zM12 40h1v1h-1zM14 40h1v1h-1zM18 40h1v1h-1zM20 40h2v1h-2zM35 40h1v1h-1zM38 40h2v1h-2zM45 40h1v1h-1zM47 40h1v1h-1zM51 40h2v1h-2zM56 40h2v1h-2zM61 40h1v1h-1zM71 40h1v1h-1zM75 40h4v1h-4zM85 40h1v1h-1zM93 40h1v1h-1zM116 40h1v1h-1zM118 40h2v1h-2zM123 40h1v1h-1zM125 40h1v1h-1zM134 40h1v1h-1zM179 40h1v1h-1zM191 40h1v1h-1zM0 41h1v1h-1zM7 41h1v1h-1zM9 41h1v1h-1zM13 41h2v1h-2zM16 41h1v1h-1zM18 41h1v1h-1zM30 41h1v1h-1zM38 41h1v1h-1zM47 41h1v1h-1zM53 41h1v1h-1zM74 41h2v1h-2zM84 41h1v1h-1zM88 41h1v1h-1zM116 41h1v1h-1zM118 41h2v1h-2zM132 41h3v1h-3zM190 41h2v1h-2z"/>
<path fill="#80ff80" d="M5 0h1v1h-1zM7 0h2v1h-2zM11 0h1v1h-1zM19 0h1v1h-1zM28 0h6v1h-6zM38 0h1v1h-1zM46 0h2v1h-2zM57 0h2v1h-2zM60 0h1v1h-1zM68 0h2v1h-2zM77 0h1v1h-1zM80 0h1v1h-1zM84 0h2v1h-2zM88 0h2v1h-2zM93 0h1v1h-1zM97 0h1v1h-1zM103 0h1v1h-1zM120 0h1v1h-1zM124 0h1v1h-1zM133 0h1v1h-1zM139 0h2v1h-2zM144 0h2v1h-2zM152 0h3v1h-3zM158 0h2v1h-2zM172 0h3v1h-3zM178 0h3v1h-3zM184 0h1v1h-1zM189 0h3v1h-3zM194 0h1v1h-1zM14 1h1v1h-1zM17 1h2v1h-2zM30 1h2v1h-2zM33 1h2v1h-2zM37 1h2v1h-2zM44 1h1v1h-1zM47 1h2v1h-2zM56 1h2v1h-2zM73 1h2v1h-2zM77 1h2v1h-2zM81 1h2v1h-2zM96 1h1v1h-1zM99 1h2v1h-2zM105 1h1v1h-1zM111 1h3v1h-3zM115 1h3v1h-3zM122 1h1v1h-1zM124 1h1v1h-1zM130 1h1v1h-1zM132 1h3v1h-3zM147 1h1v1h-1zM150 1h1v1h-1zM155 1h1v1h-1zM158 1h2v1h-2zM169 1h1v1h-1zM172 1h2v1h-2zM178 1h1v1h-1zM184 1h3v1h-3zM189 1h1v1h-1zM193 1h1v1h-1zM5 2h1v1h-1zM8 2h2v1h-2zM11 2h3v1h-3zM15 2h1v1h-1zM20 2h2v1h-2zM37 2h2v1h-2zM43 2h2v1h-2zM62 2h2v1h-2zM66 2h2v1h-2zM74 2h2v1h-2zM79 2h1v1h-1zM91 2h1v1h-1zM99 2h1v1h-1zM105 2h1v1h-1zM110 2h2v1h-2zM113 2h1v1h-1zM115 2h1v1h-1zM121 2h3v1h-3zM129 2h2v1h-2zM139 2h1v1h-1zM150 2h1v1h-1zM155 2h1v1h-1zM169 2h2v1h-2zM174 2h2v1h-2zM178 2h1v1h-1zM193 2h1v1h-1zM6 3h1v1h-1zM8 3h1v1h-1zM12 3h1v1h-1zM19 3h1v1h-1zM33 3h2v1h-2zM40 3h1v1h-1zM42 3h1v1h-1zM44 3h2v1h-2zM52 3h1v1h-1zM55 3h1v1h-1zM59 3h1v1h-1zM63 3h2v1h-2zM69 3h3v1h-3zM87 3h2v1h-2zM90 3h1v1h-1zM93 3h2v1h-2zM104 3h1v1h-1zM110 3h2v1h-2zM113 3h2v1h-2zM116 3h1v1h-1zM120 3h2v1h-2zM123 3h4v1h-4zM140 3h3v1h-3zM148 3h2v1h-2zM153 3h1v1h-1zM166 3h3v1h-3zM171 3h2v1h-2zM174 3h1v1h-1zM177 3h2v1h-2zM182 3h2v1h-2zM188 3h3v1h-3zM2 4h1v1h-1zM7 4h1v1h-1zM10 4h1v1h-1zM12 4h1v1h-1zM18 4h2v1h-2zM36 4h1v1h-1zM42 4h3v1h-3zM46 4h1v1h-1zM49 4h5v1h-5zM56 4h1v1h-1zM63 4h2v1h-2zM68 4h1v1h-1zM71 4h1v1h-1zM77 4h1v1h-1zM79 4h1v1h-1zM83 4h1v1h-1zM86 4h1v1h-1zM88 4h4v1h-4zM93 4h3v1h-3zM97 4h4v1h-4zM103 4h2v1h-2zM110 4h2v1h-2zM114 4h1v1h-1zM123 4h2v1h-2zM126 4h1v1h-1zM141 4h2v1h-2zM149 4h2v1h-2zM170 4h3v1h-3zM182 4h2v1h-2zM187 4h6v1h-6zM196 4h2v1h-2zM5 5h1v1h-1zM13 5h1v1h-1zM27 5h1v1h-1zM34 5h1v1h-1zM36 5h2v1h-2zM41 5h2v1h-2zM49 5h2v1h-2zM54 5h1v1h-1zM62 5h3v1h-3zM77 5h2v1h-2zM80 5h1v1h-1zM86 5h1v1h-1zM89 5h2v1h-2zM96 5h1v1h-1zM101 5h3v1h-3zM108 5h1v1h-1zM114 5h1v1h-1zM120 5h5v1h-5zM132 5h1v1h-1zM140 5h1v1h-1zM142 5h2v1h-2zM159 5h3v1h-3zM163 5h1v1h-1zM172 5h1v1h-1zM175 5h2v1h-2zM179 5h1v1h-1zM186 5h1v1h-1zM191 5h1v1h-1zM193 5h1v1h-1zM196 5h1v1h-1zM198 5h1v1h-1zM3 6h1v1h-1zM8 6h1v1h-1zM11 6h1v1h-1zM25 6h1v1h-1zM30 6h1v1h-1zM44 6h1v1h-1zM58 6h2v1h-2zM63 6h2v1h-2zM77 6h1v1h-1zM79 6h6v1h-6zM89 6h3v1h-3zM93 6h2v1h-2zM100 6h2v1h-2zM107 6h2v1h-2zM114 6h1v1h-1zM123 6h3v1h-3zM129 6h1v1h-1zM132 6h1v1h-1zM139 6h2v1h-2zM142 6h1v1h-1zM173 6h3v1h-3zM179 6h1v1h-1zM183 6h1v1h-1zM185 6h2v1h-2zM192 6h1v1h-1zM196 6h1v1h-1zM198 6h1v1h-1zM5 7h1v1h-1zM15 7h1v1h-1zM53 7h1v1h-1zM58 7h1v1h-1zM61 7h1v1h-1zM63 7h1v1h-1zM65 7h1v1h-1zM67 7h2v1h-2zM77 7h2v1h-2zM81 7h1v1h-1zM92 7h2v1h-2zM95 7h1v1h-1zM99 7h2v1h-2zM104 7h1v1h-1zM107 7h1v1h-1zM115 7h1v1h-1zM124 7h2v1h-2zM138 7h1v1h-1zM156 7h1v1h-1zM161 7h1v1h-1zM169 7h1v1h-1zM171 7h1v1h-1zM173 7h1v1h-1zM176 7h1v1h-1zM183 7h2v1h-2zM191 7h2v1h-2zM2 8h2v1h-2zM13 8h1v1h-1zM22 8h1v1h-1zM28 8h1v1h-1zM45 8h1v1h-1zM50 8h1v1h-1zM55 8h1v1h-1zM58 8h2v1h-2zM63 8h1v1h-1zM70 8h2v1h-2zM79 8h2v1h-2zM83 8h1v1h-1zM92 8h1v1h-1zM94 8h2v1h-2zM99 8h1v1h-1zM101 8h1v1h-1zM104 8h1v1h-1zM106 8h1v1h-1zM122 8h1v1h-1zM124 8h2v1h-2zM127 8h1v1h-1zM157 8h2v1h-2zM160 8h1v1h-1zM163 8h7v1h-7zM172 8h1v1h-1zM177 8h1v1h-1zM182 8h3v1h-3zM196 8h1v1h-1zM9 9h1v1h-1zM16 9h1v1h-1zM19 9h1v1h-1zM26 9h1v1h-1zM31 9h1v1h-1zM39 9h2v1h-2zM42 9h1v1h-1zM50 9h1v1h-1zM53 9h2v1h-2zM58 9h2v1h-2zM61 9h1v1h-1zM64 9h1v1h-1zM71 9h3v1h-3zM76 9h1v1h-1zM79 9h2v1h-2zM87 9h2v1h-2zM92 9h1v1h-1zM97 9h3v1h-3zM113 9h2v1h-2zM122 9h1v1h-1zM128 9h1v1h-1zM134 9h3v1h-3zM142 9h1v1h-1zM154 9h1v1h-1zM156 9h1v1h-1zM159 9h1v1h-1zM163 9h6v1h-6zM182 9h1v1h-1zM184 9h3v1h-3zM188 9h4v1h-4zM19 10h1v1h-1zM21 10h1v1h-1zM25 10h1v1h-1zM31 10h2v1h-2zM41 10h1v1h-1zM44 10h1v1h-1zM49 10h2v1h-2zM56 10h1v1h-1zM58 10h2v1h-2zM63 10h1v1h-1zM66 10h1v1h-1zM71 10h1v1h-1zM92 10h1v1h-1zM95 10h1v1h-1zM97 10h1v1h-1zM99 10h1v1h-1zM102 10h2v1h-2zM105 10h2v1h-2zM109 10h2v1h-2zM112 10h1v1h-1zM126 10h2v1h-2zM135 10h2v1h-2zM142 10h1v1h-1zM146 10h3v1h-3zM151 10h1v1h-1zM155 10h1v1h-1zM169 10h1v1h-1zM173 10h2v1h-2zM182 10h1v1h-1zM184 10h1v1h-1zM186 10h1v1h-1zM188 10h3v1h-3zM192 10h2v1h-2zM195 10h2v1h-2zM4 11h1v1h-1zM28 11h1v1h-1zM32 11h2v1h-2zM38 11h1v1h-1zM43 11h1v1h-1zM45 11h1v1h-1zM49 11h2v1h-2zM54 11h1v1h-1zM56 11h2v1h-2zM59 11h2v1h-2zM63 11h2v1h-2zM66 11h1v1h-1zM79 11h1v1h-1zM87 11h2v1h-2zM91 11h1v1h-1zM94 11h1v1h-1zM97 11h1v1h-1zM103 11h2v1h-2zM106 11h2v1h-2zM109 11h1v1h-1zM112 11h1v1h-1zM128 11h1v1h-1zM131 11h1v1h-1zM134 11h1v1h-1zM142 11h1v1h-1zM149 11h2v1h-2zM169 11h3v1h-3zM174 11h1v1h-1zM178 11h1v1h-1zM181 11h5v1h-5zM191 11h2v1h-2zM195 11h2v1h-2zM0 12h1v1h-1zM3 12h1v1h-1zM9 12h1v1h-1zM34 12h1v1h-1zM38 12h3v1h-3zM43 12h2v1h-2zM48 12h1v1h-1zM50 12h3v1h-3zM58 12h1v1h-1zM63 12h1v1h-1zM65 12h3v1h-3zM74 12h1v1h-1zM76 12h1v1h-1zM78 12h2v1h-2zM82 12h1v1h-1zM86 12h1v1h-1zM88 12h1v1h-1zM96 12h2v1h-2zM103 12h1v1h-1zM105 12h3v1h-3zM110 12h1v1h-1zM112 12h1v1h-1zM114 12h2v1h-2zM121 12h1v1h-1zM130 12h4v1h-4zM135 12h1v1h-1zM139 12h5v1h-5zM145 12h1v1h-1zM151 12h2v1h-2zM159 12h2v1h-2zM165 12h4v1h-4zM170 12h2v1h-2zM195 12h1v1h-1zM4 13h1v1h-1zM12 13h1v1h-1zM16 13h1v1h-1zM29 13h2v1h-2zM32 13h1v1h-1zM35 13h1v1h-1zM42 13h2v1h-2zM49 13h5v1h-5zM58 13h1v1h-1zM60 13h4v1h-4zM65 13h1v1h-1zM69 13h2v1h-2zM74 13h3v1h-3zM82 13h3v1h-3zM86 13h2v1h-2zM92 13h2v1h-2zM95 13h2v1h-2zM98 13h2v1h-2zM102 13h2v1h-2zM105 13h1v1h-1zM114 13h2v1h-2zM117 13h1v1h-1zM119 13h2v1h-2zM130 13h1v1h-1zM133 13h2v1h-2zM139 13h1v1h-1zM142 13h2v1h-2zM145 13h1v1h-1zM150 13h2v1h-2zM160 13h2v1h-2zM166 13h1v1h-1zM170 13h2v1h-2zM178 13h2v1h-2zM23 14h1v1h-1zM25 14h1v1h-1zM28 14h1v1h-1zM33 14h1v1h-1zM58 14h2v1h-2zM61 14h1v1h-1zM63 14h2v1h-2zM66 14h1v1h-1zM71 14h4v1h-4zM76 14h1v1h-1zM80 14h2v1h-2zM83 14h3v1h-3zM87 14h2v1h-2zM92 14h3v1h-3zM98 14h2v1h-2zM112 14h2v1h-2zM115 14h4v1h-4zM122 14h1v1h-1zM129 14h2v1h-2zM137 14h1v1h-1zM140 14h1v1h-1zM142 14h1v1h-1zM147 14h1v1h-1zM150 14h1v1h-1zM152 14h1v1h-1zM166 14h2v1h-2zM169 14h2v1h-2zM176 14h1v1h-1zM179 14h1v1h-1zM181 14h2v1h-2zM191 14h3v1h-3zM198 14h1v1h-1zM7 15h2v1h-2zM11 15h1v1h-1zM20 15h1v1h-1zM29 15h1v1h-1zM40 15h1v1h-1zM43 15h1v1h-1zM45 15h2v1h-2zM50 15h1v1h-1zM61 15h1v1h-1zM66 15h1v1h-1zM74 15h1v1h-1zM79 15h2v1h-2zM85 15h1v1h-1zM91 15h3v1h-3zM96 15h1v1h-1zM101 15h2v1h-2zM107 15h1v1h-1zM109 15h10v1h-10zM122 15h2v1h-2zM125 15h2v1h-2zM129 15h1v1h-1zM137 15h1v1h-1zM147 15h1v1h-1zM177 15h1v1h-1zM181 15h1v1h-1zM191 15h2v1h-2zM196 15h2v1h-2zM6 16h1v1h-1zM16 16h2v1h-2zM24 16h1v1h-1zM26 16h1v1h-1zM35 16h2v1h-2zM45 16h2v1h-2zM49 16h2v1h-2zM57 16h3v1h-3zM66 16h3v1h-3zM72 16h2v1h-2zM82 16h1v1h-1zM85 16h1v1h-1zM87 16h6v1h-6zM94 16h1v1h-1zM100 16h1v1h-1zM102 16h2v1h-2zM107 16h1v1h-1zM109 16h3v1h-3zM116 16h3v1h-3zM122 16h2v1h-2zM134 16h1v1h-1zM150 16h4v1h-4zM161 16h1v1h-1zM177 16h4v1h-4zM186 16h1v1h-1zM193 16h1v1h-1zM197 16h1v1h-1zM15 17h1v1h-1zM19 17h1v1h-1zM21 17h1v1h-1zM30 17h1v1h-1zM41 17h2v1h-2zM45 17h1v1h-1zM47 17h3v1h-3zM59 17h1v1h-1zM62 17h1v1h-1zM67 17h1v1h-1zM70 17h1v1h-1zM72 17h5v1h-5zM82 17h1v1h-1zM84 17h1v1h-1zM87 17h3v1h-3zM91 17h1v1h-1zM94 17h1v1h-1zM101 17h6v1h-6zM108 17h1v1h-1zM111 17h1v1h-1zM113 17h3v1h-3zM118 17h2v1h-2zM126 17h2v1h-2zM153 17h1v1h-1zM155 17h1v1h-1zM159 17h2v1h-2zM163 17h1v1h-1zM167 17h1v1h-1zM179 17h3v1h-3zM183 17h2v1h-2zM191 17h3v1h-3zM197 17h1v1h-1zM5 18h2v1h-2zM26 18h1v1h-1zM40 18h2v1h-2zM52 18h1v1h-1zM54 18h1v1h-1zM60 18h1v1h-1zM64 18h1v1h-1zM67 18h1v1h-1zM71 18h2v1h-2zM76 18h2v1h-2zM83 18h4v1h-4zM92 18h2v1h-2zM98 18h1v1h-1zM107 18h1v1h-1zM112 18h1v1h-1zM115 18h2v1h-2zM118 18h2v1h-2zM122 18h2v1h-2zM126 18h3v1h-3zM140 18h2v1h-2zM155 18h2v1h-2zM159 18h2v1h-2zM163 18h1v1h-1zM165 18h1v1h-1zM173 18h1v1h-1zM179 18h2v1h-2zM184 18h2v1h-2zM194 18h2v1h-2zM197 18h2v1h-2zM1 19h1v1h-1zM7 19h1v1h-1zM23 19h1v1h-1zM25 19h5v1h-5zM34 19h1v1h-1zM39 19h1v1h-1zM41 19h1v1h-1zM55 19h4v1h-4zM74 19h1v1h-1zM78 19h1v1h-1zM81 19h2v1h-2zM84 19h3v1h-3zM88 19h1v1h-1zM92 19h5v1h-5zM98 19h1v1h-1zM100 19h1v1h-1zM107 19h1v1h-1zM115 19h3v1h-3zM119 19h1v1h-1zM122 19h1v1h-1zM125 19h4v1h-4zM133 19h1v1h-1zM135 19h7v1h-7zM144 19h1v1h-1zM155 19h6v1h-6zM163 19h2v1h-2zM170 19h4v1h-4zM185 19h2v1h-2zM198 19h1v1h-1zM26 20h3v1h-3zM53 20h4v1h-4zM62 20h2v1h-2zM67 20h4v1h-4zM73 20h2v1h-2zM82 20h2v1h-2zM85 20h5v1h-5zM91 20h1v1h-1zM93 20h2v1h-2zM96 20h4v1h-4zM102 20h2v1h-2zM107 20h2v1h-2zM117 20h3v1h-3zM124 20h2v1h-2zM127 20h1v1h-1zM131 20h1v1h-1zM134 20h1v1h-1zM137 20h8v1h-8zM146 20h1v1h-1zM148 20h1v1h-1zM150 20h1v1h-1zM155 20h3v1h-3zM159 20h2v1h-2zM163 20h3v1h-3zM178 20h2v1h-2zM185 20h1v1h-1zM187 20h1v1h-1zM198 20h1v1h-1zM11 21h2v1h-2zM22 21h1v1h-1zM26 21h1v1h-1zM28 21h2v1h-2zM39 21h2v1h-2zM44 21h1v1h-1zM49 21h1v1h-1zM63 21h1v1h-1zM80 21h3v1h-3zM90 21h1v1h-1zM97 21h1v1h-1zM101 21h1v1h-1zM105 21h1v1h-1zM115 21h1v1h-1zM119 21h2v1h-2zM122 21h1v1h-1zM131 21h2v1h-2zM134 21h1v1h-1zM137 21h2v1h-2zM140 21h1v1h-1zM146 21h1v1h-1zM148 21h1v1h-1zM150 21h1v1h-1zM156 21h2v1h-2zM160 21h3v1h-3zM165 21h1v1h-1zM171 21h1v1h-1zM174 21h2v1h-2zM178 21h5v1h-5zM186 21h2v1h-2zM196 21h2v1h-2zM1 22h1v1h-1zM4 22h1v1h-1zM118 22h5v1h-5zM136 22h3v1h-3zM140 22h1v1h-1zM148 22h1v1h-1zM156 22h1v1h-1zM165 22h3v1h-3zM176 22h1v1h-1zM182 22h2v1h-2zM190 22h1v1h-1zM197 22h1v1h-1zM1 23h1v1h-1zM3 23h1v1h-1zM11 23h1v1h-1zM119 23h3v1h-3zM134 23h1v1h-1zM136 23h1v1h-1zM140 23h2v1h-2zM143 23h2v1h-2zM153 23h2v1h-2zM156 23h2v1h-2zM161 23h3v1h-3zM168 23h3v1h-3zM4 24h2v1h-2zM13 24h3v1h-3zM70 24h1v1h-1zM91 24h1v1h-1zM120 24h2v1h-2zM125 24h3v1h-3zM132 24h5v1h-5zM138 24h1v1h-1zM143 24h2v1h-2zM147 24h1v1h-1zM151 24h3v1h-3zM156 24h1v1h-1zM162 24h2v1h-2zM169 24h1v1h-1zM175 24h3v1h-3zM187 24h2v1h-2zM192 24h2v1h-2zM4 25h1v1h-1zM10 25h1v1h-1zM12 25h1v1h-1zM14 25h1v1h-1zM43 25h1v1h-1zM56 25h1v1h-1zM65 25h3v1h-3zM69 25h2v1h-2zM77 25h1v1h-1zM80 25h1v1h-1zM91 25h3v1h-3zM95 25h1v1h-1zM99 25h1v1h-1zM103 25h2v1h-2zM113 25h1v1h-1zM117 25h2v1h-2zM120 25h2v1h-2zM124 25h1v1h-1zM126 25h1v1h-1zM131 25h8v1h-8zM143 25h3v1h-3zM150 25h2v1h-2zM153 25h2v1h-2zM179 25h1v1h-1zM182 25h2v1h-2zM188 25h1v1h-1zM193 25h1v1h-1zM0 26h1v1h-1zM22 26h1v1h-1zM35 26h1v1h-1zM56 26h2v1h-2zM62 26h1v1h-1zM65 26h4v1h-4zM72 26h1v1h-1zM75 26h2v1h-2zM79 26h1v1h-1zM83 26h2v1h-2zM88 26h2v1h-2zM92 26h1v1h-1zM95 26h3v1h-3zM101 26h4v1h-4zM106 26h5v1h-5zM112 26h1v1h-1zM115 26h1v1h-1zM119 26h4v1h-4zM124 26h1v1h-1zM128 26h1v1h-1zM132 26h4v1h-4zM141 26h6v1h-6zM149 26h1v1h-1zM156 26h4v1h-4zM166 26h2v1h-2zM178 26h2v1h-2zM183 26h4v1h-4zM192 26h3v1h-3zM196 26h1v1h-1zM20 27h2v1h-2zM33 27h1v1h-1zM37 27h1v1h-1zM43 27h1v1h-1zM64 27h2v1h-2zM68 27h2v1h-2zM75 27h1v1h-1zM80 27h1v1h-1zM83 27h1v1h-1zM88 27h2v1h-2zM92 27h1v1h-1zM97 27h1v1h-1zM99 27h2v1h-2zM102 27h4v1h-4zM107 27h1v1h-1zM109 27h1v1h-1zM119 27h3v1h-3zM123 27h1v1h-1zM130 27h2v1h-2zM133 27h3v1h-3zM142 27h2v1h-2zM146 27h2v1h-2zM149 27h2v1h-2zM152 27h2v1h-2zM155 27h1v1h-1zM158 27h1v1h-1zM163 27h1v1h-1zM165 27h5v1h-5zM184 27h1v1h-1zM189 27h2v1h-2zM196 27h1v1h-1zM198 27h1v1h-1zM22 28h1v1h-1zM37 28h2v1h-2zM43 28h1v1h-1zM46 28h1v1h-1zM48 28h1v1h-1zM51 28h3v1h-3zM58 28h1v1h-1zM61 28h2v1h-2zM64 28h1v1h-1zM66 28h2v1h-2zM84 28h5v1h-5zM95 28h1v1h-1zM98 28h2v1h-2zM101 28h2v1h-2zM104 28h3v1h-3zM108 28h2v1h-2zM113 28h2v1h-2zM116 28h1v1h-1zM119 28h6v1h-6zM126 28h2v1h-2zM130 28h5v1h-5zM136 28h3v1h-3zM142 28h1v1h-1zM144 28h7v1h-7zM152 28h2v1h-2zM166 28h1v1h-1zM168 28h2v1h-2zM175 28h4v1h-4zM183 28h1v1h-1zM189 28h3v1h-3zM195 28h2v1h-2zM9 29h2v1h-2zM18 29h1v1h-1zM30 29h1v1h-1zM50 29h2v1h-2zM55 29h1v1h-1zM58 29h1v1h-1zM61 29h2v1h-2zM64 29h2v1h-2zM67 29h4v1h-4zM73 29h3v1h-3zM81 29h1v1h-1zM83 29h1v1h-1zM91 29h1v1h-1zM99 29h1v1h-1zM102 29h3v1h-3zM107 29h1v1h-1zM110 29h1v1h-1zM113 29h1v1h-1zM115 29h3v1h-3zM119 29h3v1h-3zM125 29h1v1h-1zM127 29h8v1h-8zM136 29h1v1h-1zM142 29h3v1h-3zM146 29h3v1h-3zM154 29h1v1h-1zM156 29h1v1h-1zM159 29h1v1h-1zM167 29h2v1h-2zM170 29h1v1h-1zM174 29h3v1h-3zM178 29h1v1h-1zM182 29h1v1h-1zM186 29h1v1h-1zM188 29h1v1h-1zM14 30h1v1h-1zM51 30h1v1h-1zM63 30h1v1h-1zM70 30h3v1h-3zM80 30h2v1h-2zM86 30h3v1h-3zM94 30h1v1h-1zM97 30h4v1h-4zM103 30h4v1h-4zM108 30h3v1h-3zM113 30h2v1h-2zM118 30h1v1h-1zM120 30h2v1h-2zM125 30h3v1h-3zM131 30h3v1h-3zM139 30h1v1h-1zM141 30h2v1h-2zM146 30h1v1h-1zM151 30h5v1h-5zM159 30h2v1h-2zM168 30h10v1h-10zM183 30h3v1h-3zM12 31h1v1h-1zM28 31h1v1h-1zM41 31h1v1h-1zM50 31h1v1h-1zM60 31h1v1h-1zM62 31h1v1h-1zM72 31h2v1h-2zM78 31h1v1h-1zM81 31h1v1h-1zM93 31h1v1h-1zM97 31h8v1h-8zM107 31h2v1h-2zM114 31h2v1h-2zM118 31h4v1h-4zM126 31h2v1h-2zM129 31h1v1h-1zM133 31h1v1h-1zM137 31h2v1h-2zM141 31h1v1h-1zM146 31h1v1h-1zM148 31h1v1h-1zM151 31h4v1h-4zM159 31h2v1h-2zM163 31h2v1h-2zM166 31h1v1h-1zM168 31h3v1h-3zM174 31h7v1h-7zM183 31h1v1h-1zM187 31h1v1h-1zM194 31h3v1h-3zM11 32h1v1h-1zM16 32h1v1h-1zM27 32h1v1h-1zM29 32h3v1h-3zM38 32h2v1h-2zM44 32h1v1h-1zM49 32h1v1h-1zM55 32h2v1h-2zM58 32h1v1h-1zM69 32h2v1h-2zM72 32h1v1h-1zM77 32h1v1h-1zM80 32h2v1h-2zM85 32h1v1h-1zM90 32h2v1h-2zM95 32h1v1h-1zM102 32h3v1h-3zM106 32h3v1h-3zM114 32h2v1h-2zM117 32h1v1h-1zM119 32h1v1h-1zM122 32h1v1h-1zM126 32h1v1h-1zM132 32h2v1h-2zM135 32h1v1h-1zM137 32h3v1h-3zM143 32h3v1h-3zM148 32h1v1h-1zM152 32h4v1h-4zM162 32h1v1h-1zM165 32h1v1h-1zM168 32h2v1h-2zM173 32h1v1h-1zM177 32h1v1h-1zM180 32h2v1h-2zM185 32h1v1h-1zM187 32h2v1h-2zM193 32h6v1h-6zM18 33h2v1h-2zM22 33h3v1h-3zM31 33h1v1h-1zM37 33h2v1h-2zM54 33h2v1h-2zM59 33h1v1h-1zM70 33h2v1h-2zM74 33h3v1h-3zM78 33h3v1h-3zM86 33h2v1h-2zM90 33h6v1h-6zM99 33h1v1h-1zM103 33h2v1h-2zM107 33h1v1h-1zM114 33h1v1h-1zM117 33h2v1h-2zM121 33h2v1h-2zM125 33h7v1h-7zM133 33h1v1h-1zM135 33h1v1h-1zM138 33h2v1h-2zM142 33h3v1h-3zM146 33h3v1h-3zM152 33h5v1h-5zM162 33h1v1h-1zM164 33h1v1h-1zM168 33h10v1h-10zM191 33h1v1h-1zM193 33h1v1h-1zM197 33h2v1h-2zM0 34h1v1h-1zM8 34h2v1h-2zM19 34h2v1h-2zM30 34h1v1h-1zM33 34h1v1h-1zM35 34h2v1h-2zM38 34h2v1h-2zM42 34h5v1h-5zM58 34h1v1h-1zM64 34h1v1h-1zM67 34h1v1h-1zM74 34h1v1h-1zM79 34h2v1h-2zM85 34h3v1h-3zM89 34h1v1h-1zM91 34h3v1h-3zM95 34h1v1h-1zM99 34h1v1h-1zM101 34h1v1h-1zM104 34h1v1h-1zM107 34h2v1h-2zM113 34h1v1h-1zM115 34h1v1h-1zM117 34h10v1h-10zM139 34h1v1h-1zM141 34h3v1h-3zM146 34h4v1h-4zM152 34h1v1h-1zM155 34h1v1h-1zM157 34h1v1h-1zM163 34h3v1h-3zM169 34h1v1h-1zM172 34h2v1h-2zM176 34h2v1h-2zM193 34h1v1h-1zM196 34h1v1h-1zM198 34h1v1h-1zM22 35h1v1h-1zM29 35h1v1h-1zM35 35h2v1h-2zM42 35h2v1h-2zM51 35h4v1h-4zM56 35h1v1h-1zM59 35h2v1h-2zM69 35h1v1h-1zM76 35h2v1h-2zM80 35h2v1h-2zM83 35h5v1h-5zM89 35h2v1h-2zM92 35h1v1h-1zM94 35h1v1h-1zM97 35h1v1h-1zM100 35h1v1h-1zM102 35h1v1h-1zM106 35h3v1h-3zM111 35h1v1h-1zM115 35h1v1h-1zM117 35h2v1h-2zM120 35h3v1h-3zM129 35h5v1h-5zM137 35h3v1h-3zM150 35h1v1h-1zM152 35h1v1h-1zM154 35h4v1h-4zM161 35h1v1h-1zM166 35h1v1h-1zM169 35h5v1h-5zM176 35h2v1h-2zM183 35h2v1h-2zM188 35h1v1h-1zM191 35h1v1h-1zM193 35h1v1h-1zM197 35h2v1h-2zM0 36h1v1h-1zM8 36h2v1h-2zM12 36h1v1h-1zM22 36h1v1h-1zM24 36h3v1h-3zM29 36h1v1h-1zM40 36h1v1h-1zM43 36h1v1h-1zM51 36h2v1h-2zM60 36h1v1h-1zM65 36h3v1h-3zM73 36h1v1h-1zM79 36h2v1h-2zM84 36h2v1h-2zM88 36h2v1h-2zM93 36h5v1h-5zM100 36h1v1h-1zM106 36h5v1h-5zM112 36h1v1h-1zM114 36h1v1h-1zM116 36h4v1h-4zM121 36h1v1h-1zM123 36h1v1h-1zM126 36h1v1h-1zM131 36h2v1h-2zM134 36h3v1h-3zM138 36h2v1h-2zM153 36h1v1h-1zM157 36h1v1h-1zM159 36h2v1h-2zM162 36h1v1h-1zM164 36h4v1h-4zM172 36h2v1h-2zM177 36h2v1h-2zM180 36h1v1h-1zM183 36h1v1h-1zM187 36h2v1h-2zM191 36h2v1h-2zM197 36h2v1h-2zM1 37h1v1h-1zM4 37h1v1h-1zM10 37h1v1h-1zM23 37h1v1h-1zM41 37h2v1h-2zM46 37h1v1h-1zM63 37h3v1h-3zM70 37h3v1h-3zM74 37h4v1h-4zM79 37h1v1h-1zM86 37h1v1h-1zM90 37h1v1h-1zM95 37h4v1h-4zM100 37h2v1h-2zM105 37h2v1h-2zM109 37h3v1h-3zM113 37h1v1h-1zM115 37h5v1h-5zM123 37h1v1h-1zM126 37h1v1h-1zM129 37h4v1h-4zM139 37h2v1h-2zM147 37h1v1h-1zM150 37h3v1h-3zM156 37h2v1h-2zM159 37h1v1h-1zM161 37h1v1h-1zM176 37h1v1h-1zM178 37h5v1h-5zM186 37h7v1h-7zM197 37h2v1h-2zM6 38h1v1h-1zM19 38h1v1h-1zM29 38h1v1h-1zM31 38h2v1h-2zM45 38h1v1h-1zM47 38h1v1h-1zM55 38h1v1h-1zM58 38h2v1h-2zM63 38h1v1h-1zM70 38h3v1h-3zM76 38h1v1h-1zM79 38h1v1h-1zM81 38h1v1h-1zM94 38h2v1h-2zM97 38h1v1h-1zM101 38h1v1h-1zM107 38h2v1h-2zM113 38h1v1h-1zM116 38h2v1h-2zM119 38h1v1h-1zM123 38h3v1h-3zM130 38h1v1h-1zM140 38h3v1h-3zM150 38h2v1h-2zM159 38h1v1h-1zM161 38h1v1h-1zM165 38h1v1h-1zM170 38h7v1h-7zM179 38h2v1h-2zM186 38h3v1h-3zM190 38h5v1h-5zM197 38h1v1h-1zM2 39h1v1h-1zM16 39h1v1h-1zM18 39h1v1h-1zM20 39h1v1h-1zM35 39h2v1h-2zM39 39h1v1h-1zM46 39h1v1h-1zM49 39h1v1h-1zM58 39h1v1h-1zM60 39h1v1h-1zM63 39h1v1h-1zM68 39h1v1h-1zM70 39h1v1h-1zM72 39h2v1h-2zM75 39h1v1h-1zM77 39h1v1h-1zM79 39h1v1h-1zM81 39h4v1h-4zM86 39h1v1h-1zM92 39h2v1h-2zM95 39h3v1h-3zM101 39h1v1h-1zM106 39h1v1h-1zM109 39h2v1h-2zM116 39h1v1h-1zM118 39h2v1h-2zM123 39h2v1h-2zM130 39h1v1h-1zM134 39h1v1h-1zM140 39h1v1h-1zM147 39h2v1h-2zM151 39h1v1h-1zM172 39h3v1h-3zM176 39h1v1h-1zM179 39h2v1h-2zM182 39h1v1h-1zM186 39h2v1h-2zM189 39h2v1h-2zM192 39h3v1h-3zM197 39h2v1h-2zM6 40h1v1h-1zM10 40h1v1h-1zM13 40h1v1h-1zM15 40h1v1h-1zM22 40h1v1h-1zM28 40h1v1h-1zM33 40h1v1h-1zM36 40h1v1h-1zM41 40h1v1h-1zM53 40h1v1h-1zM58 40h1v1h-1zM60 40h1v1h-1zM68 40h1v1h-1zM70 40h1v1h-1zM73 40h2v1h-2zM79 40h1v1h-1zM88 40h1v1h-1zM92 40h1v1h-1zM94 40h1v1h-1zM97 40h1v1h-1zM101 40h1v1h-1zM107 40h4v1h-4zM124 40h1v1h-1zM126 40h4v1h-4zM133 40h1v1h-1zM135 40h1v1h-1zM140 40h1v1h-1zM147 40h2v1h-2zM178 40h1v1h-1zM180 40h1v1h-1zM189 40h2v1h-2zM192 40h7v1h-7zM10 41h1v1h-1zM12 41h1v1h-1zM15 41h1v1h-1zM17 41h1v1h-1zM20 41h2v1h-2zM23 41h1v1h-1zM29 41h1v1h-1zM31 41h1v1h-1zM33 41h1v1h-1zM35 41h1v1h-1zM39 41h1v1h-1zM45 41h1v1h-1zM50 41h1v1h-1zM52 41h1v1h-1zM57 41h1v1h-1zM60 41h2v1h-2zM68 41h4v1h-4zM73 41h1v1h-1zM76 41h1v1h-1zM83 41h1v1h-1zM85 41h1v1h-1zM87 41h1v1h-1zM94 41h1v1h-1zM96 41h2v1h-2zM103 41h3v1h-3zM108 41h1v1h-1zM115 41h1v1h-1zM126 41h1v1h-1zM128 41h2v1h-2zM131 41h1v1h-1zM135 41h2v1h-2zM139 41h3v1h-3zM146 41h2v1h-2zM157 41h1v1h-1zM160 41h1v1h-1zM163 41h1v1h-1zM174 41h2v1h-2zM179 41h2v1h-2zM184 41h1v1h-1zM186 41h4v1h-4zM192 41h4v1h-4z"/>
<path fill="#97ff68" d="M18 0h1v1h-1zM20 0h1v1h-1zM22 0h1v1h-1zM26 0h1v1h-1zM36 0h2v1h-2zM39 0h1v1h-1zM43 0h2v1h-2zM56 0h1v1h-1zM61 0h1v1h-1zM63 0h1v1h-1zM67 0h1v1h-1zM70 0h4v1h-4zM76 0h1v1h-1zM82 0h1v1h-1zM92 0h1v1h-1zM95 0h1v1h-1zM98 0h3v1h-3zM106 0h1v1h-1zM109 0h2v1h-2zM123 0h1v1h-1zM129 0h1v1h-1zM135 0h2v1h-2zM164 0h1v1h-1zM168 0h1v1h-1zM171 0h1v1h-1zM176 0h1v1h-1zM181 0h1v1h-1zM188 0h1v1h-1zM197 0h1v1h-1zM29 1h1v1h-1zM39 1h4v1h-4zM53 1h1v1h-1zM60 1h2v1h-2zM64 1h1v1h-1zM67 1h1v1h-1zM69 1h1v1h-1zM72 1h1v1h-1zM75 1h1v1h-1zM87 1h1v1h-1zM89 1h4v1h-4zM94 1h1v1h-1zM108 1h3v1h-3zM120 1h1v1h-1zM127 1h2v1h-2zM136 1h1v1h-1zM145 1h1v1h-1zM152 1h2v1h-2zM161 1h1v1h-1zM164 1h2v1h-2zM176 1h2v1h-2zM181 1h2v1h-2zM196 1h2v1h-2zM14 2h1v1h-1zM25 2h3v1h-3zM40 2h1v1h-1zM58 2h3v1h-3zM70 2h3v1h-3zM77 2h1v1h-1zM87 2h3v1h-3zM94 2h2v1h-2zM102 2h1v1h-1zM106 2h2v1h-2zM118 2h2v1h-2zM127 2h2v1h-2zM143 2h1v1h-1zM145 2h2v1h-2zM148 2h1v1h-1zM152 2h1v1h-1zM159 2h2v1h-2zM168 2h1v1h-1zM173 2h1v1h-1zM180 2h1v1h-1zM187 2h1v1h-1zM195 2h2v1h-2zM198 2h1v1h-1zM2 3h1v1h-1zM4 3h1v1h-1zM10 3h1v1h-1zM13 3h3v1h-3zM20 3h1v1h-1zM22 3h1v1h-1zM31 3h2v1h-2zM36 3h2v1h-2zM47 3h1v1h-1zM50 3h1v1h-1zM66 3h2v1h-2zM72 3h2v1h-2zM81 3h1v1h-1zM100 3h1v1h-1zM102 3h1v1h-1zM105 3h1v1h-1zM118 3h1v1h-1zM127 3h1v1h-1zM133 3h1v1h-1zM137 3h1v1h-1zM143 3h3v1h-3zM154 3h4v1h-4zM159 3h1v1h-1zM164 3h1v1h-1zM176 3h1v1h-1zM179 3h1v1h-1zM194 3h5v1h-5zM21 4h2v1h-2zM47 4h2v1h-2zM57 4h2v1h-2zM61 4h1v1h-1zM66 4h1v1h-1zM72 4h2v1h-2zM81 4h2v1h-2zM92 4h1v1h-1zM112 4h1v1h-1zM119 4h1v1h-1zM127 4h7v1h-7zM145 4h1v1h-1zM156 4h1v1h-1zM163 4h2v1h-2zM175 4h1v1h-1zM180 4h1v1h-1zM185 4h1v1h-1zM194 4h1v1h-1zM198 4h1v1h-1zM1 5h1v1h-1zM12 5h1v1h-1zM16 5h2v1h-2zM22 5h1v1h-1zM28 5h2v1h-2zM32 5h1v1h-1zM43 5h1v1h-1zM52 5h1v1h-1zM59 5h1v1h-1zM65 5h1v1h-1zM72 5h1v1h-1zM74 5h3v1h-3zM98 5h2v1h-2zM106 5h1v1h-1zM113 5h1v1h-1zM116 5h3v1h-3zM126 5h2v1h-2zM137 5h1v1h-1zM146 5h2v1h-2zM168 5h1v1h-1zM170 5h1v1h-1zM194 5h1v1h-1zM4 6h2v1h-2zM9 6h1v1h-1zM17 6h1v1h-1zM20 6h4v1h-4zM29 6h1v1h-1zM34 6h1v1h-1zM38 6h1v1h-1zM40 6h1v1h-1zM49 6h1v1h-1zM53 6h2v1h-2zM65 6h1v1h-1zM67 6h1v1h-1zM70 6h1v1h-1zM72 6h2v1h-2zM76 6h1v1h-1zM85 6h1v1h-1zM96 6h4v1h-4zM105 6h2v1h-2zM111 6h3v1h-3zM121 6h1v1h-1zM134 6h1v1h-1zM145 6h5v1h-5zM154 6h2v1h-2zM166 6h2v1h-2zM181 6h2v1h-2zM188 6h3v1h-3zM194 6h1v1h-1zM7 7h1v1h-1zM10 7h4v1h-4zM17 7h1v1h-1zM19 7h1v1h-1zM21 7h1v1h-1zM29 7h1v1h-1zM40 7h1v1h-1zM42 7h1v1h-1zM52 7h1v1h-1zM57 7h1v1h-1zM72 7h1v1h-1zM74 7h1v1h-1zM82 7h1v1h-1zM85 7h1v1h-1zM96 7h1v1h-1zM103 7h1v1h-1zM112 7h1v1h-1zM120 7h1v1h-1zM122 7h1v1h-1zM128 7h2v1h-2zM132 7h2v1h-2zM141 7h1v1h-1zM145 7h3v1h-3zM149 7h3v1h-3zM180 7h2v1h-2zM188 7h2v1h-2zM6 8h1v1h-1zM25 8h2v1h-2zM29 8h1v1h-1zM35 8h1v1h-1zM41 8h2v1h-2zM46 8h4v1h-4zM56 8h1v1h-1zM62 8h1v1h-1zM73 8h2v1h-2zM77 8h1v1h-1zM90 8h1v1h-1zM102 8h2v1h-2zM108 8h3v1h-3zM112 8h1v1h-1zM116 8h6v1h-6zM129 8h2v1h-2zM132 8h2v1h-2zM136 8h2v1h-2zM141 8h3v1h-3zM146 8h2v1h-2zM149 8h3v1h-3zM180 8h2v1h-2zM192 8h2v1h-2zM1 9h3v1h-3zM10 9h1v1h-1zM13 9h1v1h-1zM18 9h1v1h-1zM20 9h1v1h-1zM22 9h1v1h-1zM29 9h1v1h-1zM35 9h1v1h-1zM46 9h1v1h-1zM78 9h1v1h-1zM81 9h1v1h-1zM85 9h2v1h-2zM103 9h1v1h-1zM107 9h2v1h-2zM119 9h3v1h-3zM140 9h1v1h-1zM149 9h2v1h-2zM175 9h1v1h-1zM181 9h1v1h-1zM1 10h1v1h-1zM6 10h1v1h-1zM11 10h1v1h-1zM17 10h2v1h-2zM26 10h1v1h-1zM36 10h1v1h-1zM39 10h1v1h-1zM46 10h1v1h-1zM52 10h1v1h-1zM55 10h1v1h-1zM78 10h1v1h-1zM86 10h1v1h-1zM89 10h2v1h-2zM115 10h1v1h-1zM117 10h3v1h-3zM122 10h2v1h-2zM130 10h1v1h-1zM132 10h2v1h-2zM140 10h1v1h-1zM158 10h1v1h-1zM162 10h2v1h-2zM176 10h1v1h-1zM5 11h1v1h-1zM14 11h2v1h-2zM29 11h2v1h-2zM36 11h2v1h-2zM42 11h1v1h-1zM47 11h1v1h-1zM52 11h1v1h-1zM62 11h1v1h-1zM68 11h1v1h-1zM76 11h1v1h-1zM82 11h1v1h-1zM98 11h2v1h-2zM114 11h5v1h-5zM122 11h2v1h-2zM127 11h1v1h-1zM138 11h2v1h-2zM144 11h1v1h-1zM153 11h1v1h-1zM155 11h2v1h-2zM162 11h2v1h-2zM167 11h1v1h-1zM194 11h1v1h-1zM198 11h1v1h-1zM1 12h1v1h-1zM6 12h1v1h-1zM20 12h1v1h-1zM22 12h1v1h-1zM32 12h2v1h-2zM42 12h1v1h-1zM46 12h1v1h-1zM56 12h2v1h-2zM93 12h1v1h-1zM98 12h3v1h-3zM117 12h2v1h-2zM122 12h3v1h-3zM126 12h2v1h-2zM146 12h1v1h-1zM155 12h2v1h-2zM172 12h1v1h-1zM179 12h1v1h-1zM183 12h1v1h-1zM189 12h2v1h-2zM1 13h1v1h-1zM5 13h1v1h-1zM11 13h1v1h-1zM22 13h1v1h-1zM34 13h1v1h-1zM48 13h1v1h-1zM54 13h1v1h-1zM67 13h1v1h-1zM78 13h1v1h-1zM80 13h2v1h-2zM108 13h3v1h-3zM122 13h2v1h-2zM127 13h2v1h-2zM157 13h2v1h-2zM173 13h4v1h-4zM196 13h1v1h-1zM21 14h1v1h-1zM26 14h1v1h-1zM45 14h4v1h-4zM51 14h1v1h-1zM53 14h2v1h-2zM68 14h1v1h-1zM77 14h1v1h-1zM101 14h2v1h-2zM105 14h2v1h-2zM110 14h1v1h-1zM128 14h1v1h-1zM132 14h1v1h-1zM134 14h2v1h-2zM156 14h2v1h-2zM174 14h1v1h-1zM185 14h2v1h-2zM195 14h2v1h-2zM21 15h1v1h-1zM34 15h1v1h-1zM41 15h1v1h-1zM53 15h2v1h-2zM62 15h4v1h-4zM69 15h1v1h-1zM75 15h4v1h-4zM83 15h1v1h-1zM89 15h1v1h-1zM99 15h1v1h-1zM120 15h1v1h-1zM135 15h1v1h-1zM145 15h1v1h-1zM149 15h1v1h-1zM155 15h3v1h-3zM163 15h2v1h-2zM170 15h1v1h-1zM172 15h2v1h-2zM183 15h1v1h-1zM187 15h3v1h-3zM7 16h2v1h-2zM20 16h2v1h-2zM28 16h1v1h-1zM42 16h1v1h-1zM62 16h4v1h-4zM70 16h1v1h-1zM75 16h2v1h-2zM79 16h3v1h-3zM99 16h1v1h-1zM112 16h1v1h-1zM125 16h1v1h-1zM127 16h1v1h-1zM130 16h2v1h-2zM140 16h1v1h-1zM142 16h4v1h-4zM148 16h2v1h-2zM157 16h1v1h-1zM165 16h2v1h-2zM168 16h3v1h-3zM172 16h1v1h-1zM188 16h2v1h-2zM27 17h1v1h-1zM39 17h1v1h-1zM63 17h2v1h-2zM78 17h1v1h-1zM80 17h1v1h-1zM97 17h2v1h-2zM123 17h2v1h-2zM129 17h3v1h-3zM135 17h2v1h-2zM140 17h1v1h-1zM145 17h1v1h-1zM148 17h2v1h-2zM157 17h1v1h-1zM162 17h1v1h-1zM165 17h1v1h-1zM169 17h1v1h-1zM172 17h1v1h-1zM176 17h2v1h-2zM190 17h1v1h-1zM27 18h3v1h-3zM56 18h1v1h-1zM78 18h2v1h-2zM105 18h1v1h-1zM109 18h1v1h-1zM129 18h1v1h-1zM135 18h2v1h-2zM139 18h1v1h-1zM145 18h2v1h-2zM148 18h1v1h-1zM150 18h3v1h-3zM157 18h1v1h-1zM169 18h1v1h-1zM174 18h4v1h-4zM79 19h1v1h-1zM108 19h1v1h-1zM110 19h3v1h-3zM146 19h1v1h-1zM151 19h1v1h-1zM166 19h1v1h-1zM190 19h1v1h-1zM5 20h1v1h-1zM14 20h1v1h-1zM16 20h1v1h-1zM25 20h1v1h-1zM37 20h1v1h-1zM79 20h1v1h-1zM105 20h1v1h-1zM109 20h1v1h-1zM121 20h1v1h-1zM153 20h1v1h-1zM166 20h1v1h-1zM176 20h2v1h-2zM184 20h1v1h-1zM189 20h3v1h-3zM23 21h1v1h-1zM153 21h2v1h-2zM184 21h1v1h-1zM6 22h1v1h-1zM142 22h1v1h-1zM158 22h1v1h-1zM178 22h3v1h-3zM2 23h1v1h-1zM6 23h1v1h-1zM8 23h1v1h-1zM10 23h1v1h-1zM149 23h2v1h-2zM159 23h1v1h-1zM178 23h3v1h-3zM195 23h1v1h-1zM8 24h3v1h-3zM159 24h1v1h-1zM166 24h1v1h-1zM178 24h1v1h-1zM181 24h1v1h-1zM195 24h2v1h-2zM13 25h1v1h-1zM15 25h1v1h-1zM168 25h2v1h-2zM174 25h1v1h-1zM190 25h1v1h-1zM196 25h2v1h-2zM126 26h1v1h-1zM130 26h1v1h-1zM151 26h2v1h-2zM162 26h1v1h-1zM169 26h3v1h-3zM173 26h1v1h-1zM175 26h2v1h-2zM187 26h2v1h-2zM38 27h1v1h-1zM84 27h3v1h-3zM93 27h1v1h-1zM96 27h1v1h-1zM115 27h1v1h-1zM125 27h2v1h-2zM137 27h1v1h-1zM173 27h2v1h-2zM181 27h2v1h-2zM187 27h2v1h-2zM50 28h1v1h-1zM93 28h1v1h-1zM96 28h1v1h-1zM128 28h1v1h-1zM140 28h1v1h-1zM185 28h1v1h-1zM193 28h2v1h-2zM14 29h1v1h-1zM52 29h1v1h-1zM79 29h2v1h-2zM138 29h1v1h-1zM140 29h1v1h-1zM151 29h1v1h-1zM180 29h1v1h-1zM194 29h1v1h-1zM197 29h1v1h-1zM90 30h1v1h-1zM144 30h1v1h-1zM149 30h1v1h-1zM165 30h1v1h-1zM181 30h1v1h-1zM197 30h2v1h-2zM33 31h1v1h-1zM42 31h1v1h-1zM79 31h1v1h-1zM87 31h3v1h-3zM91 31h2v1h-2zM106 31h1v1h-1zM135 31h1v1h-1zM144 31h1v1h-1zM149 31h1v1h-1zM189 31h2v1h-2zM17 32h1v1h-1zM88 32h1v1h-1zM110 32h3v1h-3zM149 32h1v1h-1zM157 32h3v1h-3zM161 32h1v1h-1zM189 32h2v1h-2zM9 33h1v1h-1zM12 33h1v1h-1zM21 33h1v1h-1zM67 33h1v1h-1zM69 33h1v1h-1zM111 33h2v1h-2zM150 33h1v1h-1zM157 33h1v1h-1zM166 33h1v1h-1zM181 33h2v1h-2zM185 33h1v1h-1zM12 34h2v1h-2zM22 34h1v1h-1zM24 34h3v1h-3zM159 34h1v1h-1zM167 34h1v1h-1zM180 34h1v1h-1zM182 34h1v1h-1zM185 34h1v1h-1zM190 34h1v1h-1zM23 35h1v1h-1zM27 35h1v1h-1zM30 35h1v1h-1zM46 35h1v1h-1zM57 35h1v1h-1zM104 35h1v1h-1zM135 35h1v1h-1zM175 35h1v1h-1zM180 35h1v1h-1zM195 35h1v1h-1zM23 36h1v1h-1zM31 36h1v1h-1zM54 36h1v1h-1zM82 36h1v1h-1zM87 36h1v1h-1zM91 36h2v1h-2zM104 36h1v1h-1zM142 36h1v1h-1zM144 36h2v1h-2zM151 36h1v1h-1zM189 36h1v1h-1zM5 37h1v1h-1zM19 37h2v1h-2zM43 37h1v1h-1zM66 37h2v1h-2zM81 37h2v1h-2zM87 37h1v1h-1zM92 37h2v1h-2zM103 37h1v1h-1zM125 37h1v1h-1zM142 37h1v1h-1zM168 37h2v1h-2zM5 38h1v1h-1zM64 38h2v1h-2zM73 38h1v1h-1zM87 38h2v1h-2zM91 38h2v1h-2zM103 38h1v1h-1zM138 38h1v1h-1zM145 38h2v1h-2zM153 38h1v1h-1zM156 38h1v1h-1zM162 38h1v1h-1zM168 38h1v1h-1zM184 38h1v1h-1zM1 39h1v1h-1zM19 39h1v1h-1zM26 39h2v1h-2zM29 39h1v1h-1zM31 39h2v1h-2zM59 39h1v1h-1zM65 39h2v1h-2zM74 39h1v1h-1zM104 39h2v1h-2zM113 39h2v1h-2zM132 39h2v1h-2zM136 39h1v1h-1zM138 39h1v1h-1zM145 39h2v1h-2zM157 39h2v1h-2zM163 39h2v1h-2zM168 39h2v1h-2zM185 39h1v1h-1zM8 40h1v1h-1zM19 40h1v1h-1zM31 40h1v1h-1zM42 40h1v1h-1zM48 40h1v1h-1zM63 40h2v1h-2zM83 40h1v1h-1zM91 40h1v1h-1zM95 40h1v1h-1zM98 40h2v1h-2zM111 40h4v1h-4zM137 40h2v1h-2zM145 40h1v1h-1zM161 40h1v1h-1zM168 40h2v1h-2zM172 40h1v1h-1zM32 41h1v1h-1zM36 41h2v1h-2zM40 41h2v1h-2zM59 41h1v1h-1zM62 41h1v1h-1zM64 41h1v1h-1zM77 41h1v1h-1zM80 41h1v1h-1zM82 41h1v1h-1zM91 41h1v1h-1zM99 41h4v1h-4zM106 41h1v1h-1zM111 41h1v1h-1zM137 41h1v1h-1zM143 41h2v1h-2zM151 41h3v1h-3zM161 41h1v1h-1zM165 41h1v1h-1zM168 41h3v1h-3zM176 41h2v1h-2z"/>
<path fill="#a3ff5c" d="M1 0h1v1h-1zM13 0h1v1h-1zM16 0h1v1h-1zM25 0h1v1h-1zM51 0h5v1h-5zM64 0h1v1h-1zM74 0h2v1h-2zM83 0h1v1h-1zM107 0h1v1h-1zM128 0h1v1h-1zM165 0h3v1h-3zM25 1h2v1h-2zM54 1h2v1h-2zM62 1h2v1h-2zM70 1h2v1h-2zM3 2h1v1h-1zM29 2h1v1h-1zM47 2h2v1h-2zM69 2h1v1h-1zM144 2h1v1h-1zM164 2h1v1h-1zM197 2h1v1h-1zM0 3h2v1h-2zM23 3h2v1h-2zM26 3h2v1h-2zM30 3h1v1h-1zM48 3h1v1h-1zM101 3h1v1h-1zM106 3h1v1h-1zM160 3h1v1h-1zM180 3h1v1h-1zM0 4h1v1h-1zM17 4h1v1h-1zM20 4h1v1h-1zM32 4h2v1h-2zM9 5h1v1h-1zM11 5h1v1h-1zM21 5h1v1h-1zM39 5h1v1h-1zM53 5h1v1h-1zM58 5h1v1h-1zM66 5h2v1h-2zM112 5h1v1h-1zM169 5h1v1h-1zM1 6h1v1h-1zM13 6h2v1h-2zM24 6h1v1h-1zM32 6h1v1h-1zM52 6h1v1h-1zM66 6h1v1h-1zM74 6h1v1h-1zM168 6h2v1h-2zM9 7h1v1h-1zM14 7h1v1h-1zM18 7h1v1h-1zM35 7h5v1h-5zM41 7h1v1h-1zM48 7h2v1h-2zM55 7h2v1h-2zM73 7h1v1h-1zM111 7h1v1h-1zM121 7h1v1h-1zM7 8h1v1h-1zM9 8h2v1h-2zM12 8h1v1h-1zM111 8h1v1h-1zM140 8h1v1h-1zM4 9h1v1h-1zM32 9h1v1h-1zM34 9h1v1h-1zM68 9h1v1h-1zM70 9h1v1h-1zM116 9h3v1h-3zM4 10h1v1h-1zM40 10h1v1h-1zM47 10h1v1h-1zM68 10h1v1h-1zM70 10h1v1h-1zM87 10h1v1h-1zM116 10h1v1h-1zM1 11h1v1h-1zM6 11h1v1h-1zM12 11h1v1h-1zM18 11h1v1h-1zM40 11h2v1h-2zM81 11h1v1h-1zM2 12h1v1h-1zM13 12h1v1h-1zM19 12h1v1h-1zM24 12h1v1h-1zM37 12h1v1h-1zM147 12h1v1h-1zM173 12h1v1h-1zM14 13h1v1h-1zM17 13h3v1h-3zM21 13h1v1h-1zM23 13h1v1h-1zM45 13h1v1h-1zM55 13h1v1h-1zM6 14h1v1h-1zM16 14h1v1h-1zM22 14h1v1h-1zM34 14h2v1h-2zM55 14h3v1h-3zM78 14h1v1h-1zM25 15h3v1h-3zM68 15h1v1h-1zM70 15h1v1h-1zM41 16h1v1h-1zM54 16h1v1h-1zM77 16h2v1h-2zM98 16h1v1h-1zM28 17h1v1h-1zM79 17h1v1h-1zM96 17h1v1h-1zM1 18h1v1h-1zM149 18h1v1h-1zM4 19h1v1h-1zM6 19h1v1h-1zM105 19h1v1h-1zM109 19h1v1h-1zM80 20h1v1h-1zM24 21h1v1h-1zM7 23h1v1h-1zM181 23h1v1h-1zM2 24h1v1h-1zM6 24h1v1h-1zM2 25h1v1h-1zM174 26h1v1h-1zM90 31h1v1h-1zM12 32h1v1h-1zM8 33h1v1h-1zM68 33h1v1h-1zM158 33h2v1h-2zM24 35h1v1h-1zM18 37h1v1h-1zM2 38h1v1h-1zM4 38h1v1h-1zM74 38h1v1h-1zM0 39h1v1h-1zM3 39h1v1h-1zM8 39h1v1h-1zM15 39h1v1h-1zM103 39h1v1h-1zM26 40h2v1h-2zM65 40h2v1h-2zM90 40h1v1h-1zM121 40h1v1h-1zM63 41h1v1h-1zM65 41h2v1h-2zM90 41h1v1h-1z"/>
<path fill="#afff50" d="M12 0h1v1h-1zM24 0h1v1h-1zM108 0h1v1h-1zM12 1h2v1h-2zM0 2h1v1h-1zM28 2h1v1h-1zM28 3h2v1h-2zM1 4h1v1h-1zM15 4h2v1h-2zM25 4h1v1h-1zM27 4h1v1h-1zM29 4h1v1h-1zM33 5h1v1h-1zM33 6h1v1h-1zM39 6h1v1h-1zM75 6h1v1h-1zM20 7h1v1h-1zM33 7h2v1h-2zM33 8h1v1h-1zM12 9h1v1h-1zM17 9h1v1h-1zM69 9h1v1h-1zM13 10h1v1h-1zM69 10h1v1h-1zM9 11h1v1h-1zM13 11h1v1h-1zM15 12h1v1h-1zM18 12h1v1h-1zM23 12h1v1h-1zM15 13h1v1h-1zM20 13h1v1h-1zM47 13h1v1h-1zM56 13h2v1h-2zM5 14h1v1h-1zM18 14h1v1h-1zM24 20h1v1h-1zM7 22h1v1h-1zM3 24h1v1h-1zM7 24h1v1h-1zM3 25h1v1h-1zM38 26h1v1h-1zM13 33h1v1h-1zM4 39h1v1h-1zM81 41h1v1h-1z"/>
<path fill="#bbff44" d="M17 0h1v1h-1zM23 0h1v1h-1zM2 1h1v1h-1zM1 2h1v1h-1zM25 3h1v1h-1zM13 4h1v1h-1zM23 4h2v1h-2zM26 4h1v1h-1zM14 5h2v1h-2zM23 5h2v1h-2zM1 7h1v1h-1zM1 8h1v1h-1zM11 8h1v1h-1zM34 8h1v1h-1zM33 9h1v1h-1zM0 10h1v1h-1zM2 10h1v1h-1zM14 12h1v1h-1zM0 13h1v1h-1zM17 14h1v1h-1zM0 18h1v1h-1zM15 19h1v1h-1z"/>
<path fill="#c7ff38" d="M0 1h1v1h-1zM2 2h1v1h-1zM14 4h1v1h-1zM28 4h1v1h-1zM11 9h1v1h-1zM3 10h1v1h-1zM12 10h1v1h-1zM3 11h1v1h-1zM46 13h1v1h-1zM5 19h1v1h-1zM15 20h1v1h-1z"/>
<path fill="#d3ff2c" d="M1 1h1v1h-1zM2 11h1v1h-1z"/>
<path fill="#dfff20" d="M0 9h1v1h-1z"/>
<path fill="#ebff14" d="M0 0h1v1h-1z"/>
<path fill="#f7ff08" d="M0 7h1v1h-1z"/>
<path fill="#fffc00" d="M0 8h1v1h-1z"/>
</g></g></g>
<g clip-path="url(#cB)" stroke="none"><g filter="url(#bl)">
<rect x="87.5" y="270.0" width="811.9" height="226.2" fill="#8bff74"/>
<g transform="translate(95.50 276.945) scale(4.000 5.0550)" shape-rendering="crispEdges">
<path fill="#14ffeb" d="M0 14h1v1h-1z"/>
<path fill="#20ffdf" d="M0 15h1v1h-1z"/>
<path fill="#38ffc7" d="M9 5h1v1h-1zM6 35h1v1h-1z"/>
<path fill="#44ffbb" d="M10 6h1v1h-1zM0 10h1v1h-1zM0 13h1v1h-1zM1 15h1v1h-1zM1 36h1v1h-1zM23 36h1v1h-1zM1 37h1v1h-1z"/>
<path fill="#50ffaf" d="M7 0h1v1h-1zM10 7h1v1h-1zM13 12h1v1h-1zM1 14h1v1h-1zM1 16h1v1h-1zM0 37h1v1h-1zM1 38h1v1h-1zM10 39h1v1h-1z"/>
<path fill="#5cffa3" d="M8 0h1v1h-1zM18 0h1v1h-1zM36 0h1v1h-1zM108 0h1v1h-1zM9 4h1v1h-1zM22 4h1v1h-1zM10 5h1v1h-1zM22 5h1v1h-1zM9 6h1v1h-1zM11 6h1v1h-1zM27 6h2v1h-2zM13 8h1v1h-1zM0 11h1v1h-1zM11 11h2v1h-2zM11 12h2v1h-2zM13 13h1v1h-1zM56 13h1v1h-1zM22 14h1v1h-1zM52 14h1v1h-1zM56 14h1v1h-1zM52 15h1v1h-1zM0 16h1v1h-1zM16 17h1v1h-1zM25 21h1v1h-1zM19 24h1v1h-1zM16 29h1v1h-1zM16 30h1v1h-1zM6 34h1v1h-1zM20 34h1v1h-1zM20 35h1v1h-1zM23 35h1v1h-1zM24 39h1v1h-1z"/>
<path fill="#68ff97" d="M14 0h1v1h-1zM19 0h1v1h-1zM55 0h1v1h-1zM7 1h2v1h-2zM102 1h1v1h-1zM108 1h1v1h-1zM8 2h1v1h-1zM19 2h1v1h-1zM102 2h1v1h-1zM8 3h1v1h-1zM18 3h1v1h-1zM50 3h1v1h-1zM8 4h1v1h-1zM26 4h1v1h-1zM35 4h1v1h-1zM43 4h3v1h-3zM49 4h1v1h-1zM8 5h1v1h-1zM31 5h1v1h-1zM44 5h2v1h-2zM49 5h1v1h-1zM29 6h1v1h-1zM46 6h1v1h-1zM64 6h1v1h-1zM85 6h1v1h-1zM27 7h1v1h-1zM29 7h1v1h-1zM56 7h1v1h-1zM64 7h1v1h-1zM0 9h1v1h-1zM34 9h1v1h-1zM11 10h1v1h-1zM20 11h1v1h-1zM59 12h1v1h-1zM1 13h1v1h-1zM22 13h1v1h-1zM52 13h1v1h-1zM6 14h1v1h-1zM48 14h1v1h-1zM3 15h2v1h-2zM22 15h1v1h-1zM48 15h1v1h-1zM2 16h1v1h-1zM13 16h1v1h-1zM16 16h1v1h-1zM16 18h1v1h-1zM113 18h1v1h-1zM8 26h2v1h-2zM32 26h1v1h-1zM9 27h1v1h-1zM16 27h1v1h-1zM28 27h1v1h-1zM16 28h2v1h-2zM20 28h1v1h-1zM28 28h1v1h-1zM53 29h1v1h-1zM6 31h1v1h-1zM13 31h1v1h-1zM16 31h1v1h-1zM49 33h2v1h-2zM23 34h1v1h-1zM49 34h1v1h-1zM1 35h1v1h-1zM8 35h1v1h-1zM44 36h1v1h-1zM0 38h1v1h-1zM7 39h1v1h-1zM39 39h1v1h-1zM71 39h1v1h-1zM10 40h1v1h-1zM41 40h1v1h-1zM71 40h1v1h-1zM1 41h1v1h-1zM16 41h1v1h-1zM19 41h1v1h-1zM35 41h1v1h-1zM41 41h1v1h-1zM71 41h1v1h-1zM99 41h2v1h-2z"/>
<path fill="#74ff8b" d="M5 0h2v1h-2zM25 0h1v1h-1zM29 0h1v1h-1zM57 0h1v1h-1zM61 0h1v1h-1zM96 0h1v1h-1zM102 0h2v1h-2zM107 0h1v1h-1zM111 0h1v1h-1zM114 0h1v1h-1zM124 0h1v1h-1zM133 0h1v1h-1zM170 0h2v1h-2zM192 0h1v1h-1zM13 1h2v1h-2zM18 1h2v1h-2zM44 1h1v1h-1zM55 1h1v1h-1zM57 1h1v1h-1zM61 1h1v1h-1zM94 1h1v1h-1zM104 1h2v1h-2zM107 1h1v1h-1zM114 1h1v1h-1zM133 1h1v1h-1zM13 2h2v1h-2zM18 2h1v1h-1zM22 2h1v1h-1zM45 2h2v1h-2zM78 2h1v1h-1zM94 2h1v1h-1zM105 2h1v1h-1zM108 2h1v1h-1zM114 2h2v1h-2zM133 2h2v1h-2zM158 2h1v1h-1zM3 3h2v1h-2zM9 3h1v1h-1zM19 3h1v1h-1zM22 3h1v1h-1zM26 3h1v1h-1zM43 3h1v1h-1zM45 3h1v1h-1zM78 3h1v1h-1zM102 3h1v1h-1zM154 3h1v1h-1zM158 3h1v1h-1zM16 4h1v1h-1zM21 4h1v1h-1zM23 4h1v1h-1zM27 4h1v1h-1zM65 4h1v1h-1zM169 4h1v1h-1zM11 5h1v1h-1zM24 5h7v1h-7zM35 5h2v1h-2zM43 5h1v1h-1zM46 5h1v1h-1zM65 5h1v1h-1zM78 5h1v1h-1zM85 5h1v1h-1zM98 5h1v1h-1zM118 5h1v1h-1zM135 5h1v1h-1zM169 5h1v1h-1zM192 5h1v1h-1zM22 6h1v1h-1zM24 6h2v1h-2zM31 6h1v1h-1zM42 6h1v1h-1zM45 6h1v1h-1zM53 6h1v1h-1zM56 6h1v1h-1zM65 6h1v1h-1zM192 6h1v1h-1zM13 7h1v1h-1zM28 7h1v1h-1zM46 7h2v1h-2zM53 7h1v1h-1zM65 7h1v1h-1zM72 7h1v1h-1zM10 8h1v1h-1zM34 8h1v1h-1zM65 8h1v1h-1zM68 8h1v1h-1zM74 8h1v1h-1zM119 8h1v1h-1zM125 8h1v1h-1zM161 8h1v1h-1zM190 8h1v1h-1zM37 9h1v1h-1zM66 9h3v1h-3zM74 9h1v1h-1zM80 9h1v1h-1zM94 9h1v1h-1zM125 9h1v1h-1zM163 9h1v1h-1zM181 9h1v1h-1zM1 10h1v1h-1zM20 10h1v1h-1zM74 10h1v1h-1zM98 10h1v1h-1zM115 10h1v1h-1zM121 10h1v1h-1zM125 10h1v1h-1zM163 10h1v1h-1zM189 10h1v1h-1zM38 11h1v1h-1zM70 11h1v1h-1zM74 11h1v1h-1zM98 11h1v1h-1zM103 11h1v1h-1zM120 11h2v1h-2zM134 11h1v1h-1zM146 11h1v1h-1zM161 11h1v1h-1zM0 12h1v1h-1zM2 12h1v1h-1zM18 12h1v1h-1zM20 12h1v1h-1zM23 12h1v1h-1zM33 12h1v1h-1zM38 12h1v1h-1zM52 12h1v1h-1zM70 12h1v1h-1zM74 12h1v1h-1zM103 12h2v1h-2zM120 12h1v1h-1zM11 13h1v1h-1zM18 13h1v1h-1zM51 13h1v1h-1zM59 13h1v1h-1zM75 13h1v1h-1zM84 13h1v1h-1zM89 13h1v1h-1zM93 13h2v1h-2zM103 13h2v1h-2zM120 13h1v1h-1zM153 13h1v1h-1zM3 14h1v1h-1zM5 14h1v1h-1zM11 14h1v1h-1zM13 14h1v1h-1zM25 14h1v1h-1zM53 14h1v1h-1zM71 14h1v1h-1zM87 14h1v1h-1zM89 14h1v1h-1zM153 14h1v1h-1zM6 15h1v1h-1zM10 15h1v1h-1zM13 15h1v1h-1zM25 15h1v1h-1zM51 15h1v1h-1zM53 15h2v1h-2zM106 15h1v1h-1zM137 15h1v1h-1zM156 15h1v1h-1zM4 16h1v1h-1zM19 16h1v1h-1zM51 16h2v1h-2zM99 16h1v1h-1zM137 16h1v1h-1zM1 17h1v1h-1zM13 17h1v1h-1zM25 17h2v1h-2zM37 17h1v1h-1zM83 17h1v1h-1zM95 17h1v1h-1zM37 18h1v1h-1zM70 18h1v1h-1zM74 18h1v1h-1zM83 18h1v1h-1zM92 18h1v1h-1zM134 18h1v1h-1zM160 18h1v1h-1zM173 18h1v1h-1zM16 19h1v1h-1zM19 19h1v1h-1zM22 19h1v1h-1zM31 19h1v1h-1zM63 19h1v1h-1zM134 19h1v1h-1zM138 19h1v1h-1zM141 19h1v1h-1zM168 19h1v1h-1zM173 19h1v1h-1zM10 20h2v1h-2zM19 20h2v1h-2zM22 20h1v1h-1zM45 20h2v1h-2zM123 20h1v1h-1zM125 20h1v1h-1zM134 20h1v1h-1zM141 20h1v1h-1zM164 20h1v1h-1zM168 20h1v1h-1zM172 20h1v1h-1zM22 21h1v1h-1zM26 21h1v1h-1zM34 21h1v1h-1zM45 21h1v1h-1zM59 21h1v1h-1zM71 21h1v1h-1zM123 21h1v1h-1zM125 21h1v1h-1zM164 21h1v1h-1zM172 21h1v1h-1zM123 22h1v1h-1zM164 22h1v1h-1zM99 23h1v1h-1zM177 23h1v1h-1zM2 24h1v1h-1zM97 24h1v1h-1zM99 24h1v1h-1zM109 24h1v1h-1zM119 24h1v1h-1zM44 25h1v1h-1zM98 25h2v1h-2zM119 25h1v1h-1zM7 26h1v1h-1zM16 26h1v1h-1zM29 26h1v1h-1zM31 26h1v1h-1zM60 26h1v1h-1zM79 26h1v1h-1zM84 26h1v1h-1zM95 26h1v1h-1zM108 26h1v1h-1zM177 26h1v1h-1zM190 26h2v1h-2zM8 27h1v1h-1zM20 27h1v1h-1zM32 27h1v1h-1zM41 27h1v1h-1zM113 27h1v1h-1zM7 28h1v1h-1zM9 28h1v1h-1zM54 28h1v1h-1zM59 28h1v1h-1zM113 28h1v1h-1zM7 29h1v1h-1zM9 29h1v1h-1zM35 29h1v1h-1zM60 29h1v1h-1zM65 29h1v1h-1zM113 29h1v1h-1zM166 29h1v1h-1zM178 29h1v1h-1zM11 30h1v1h-1zM49 30h1v1h-1zM53 30h1v1h-1zM57 30h1v1h-1zM65 30h1v1h-1zM113 30h1v1h-1zM115 30h1v1h-1zM166 30h1v1h-1zM49 31h1v1h-1zM75 31h1v1h-1zM113 31h1v1h-1zM10 32h1v1h-1zM31 32h1v1h-1zM49 32h1v1h-1zM64 32h1v1h-1zM68 32h1v1h-1zM92 32h2v1h-2zM122 32h1v1h-1zM16 33h1v1h-1zM20 33h1v1h-1zM38 33h1v1h-1zM93 33h1v1h-1zM122 33h1v1h-1zM190 33h1v1h-1zM28 34h1v1h-1zM40 34h1v1h-1zM50 34h1v1h-1zM52 34h1v1h-1zM61 34h1v1h-1zM66 34h1v1h-1zM160 34h1v1h-1zM28 35h1v1h-1zM40 35h1v1h-1zM50 35h1v1h-1zM61 35h1v1h-1zM160 35h1v1h-1zM0 36h1v1h-1zM5 36h1v1h-1zM19 36h1v1h-1zM27 36h1v1h-1zM45 36h2v1h-2zM50 36h2v1h-2zM61 36h1v1h-1zM65 36h1v1h-1zM90 36h1v1h-1zM161 36h1v1h-1zM19 37h1v1h-1zM23 37h1v1h-1zM44 37h1v1h-1zM68 37h1v1h-1zM90 37h1v1h-1zM161 37h1v1h-1zM10 38h1v1h-1zM24 38h1v1h-1zM71 38h1v1h-1zM92 38h1v1h-1zM145 38h1v1h-1zM9 39h1v1h-1zM12 39h1v1h-1zM72 39h1v1h-1zM103 39h1v1h-1zM120 39h1v1h-1zM178 39h1v1h-1zM39 40h2v1h-2zM63 40h1v1h-1zM72 40h1v1h-1zM98 40h2v1h-2zM103 40h1v1h-1zM109 40h1v1h-1zM138 40h1v1h-1zM141 40h1v1h-1zM2 41h1v1h-1zM9 41h1v1h-1zM63 41h1v1h-1zM91 41h1v1h-1zM98 41h1v1h-1zM109 41h1v1h-1zM138 41h1v1h-1zM141 41h1v1h-1zM149 41h1v1h-1zM174 41h1v1h-1zM185 41h1v1h-1z"/>
<path fill="#80ff80" d="M2 0h1v1h-1zM13 0h1v1h-1zM15 0h1v1h-1zM26 0h1v1h-1zM35 0h1v1h-1zM44 0h1v1h-1zM48 0h1v1h-1zM54 0h1v1h-1zM58 0h1v1h-1zM68 0h1v1h-1zM75 0h1v1h-1zM79 0h1v1h-1zM84 0h2v1h-2zM94 0h1v1h-1zM97 0h2v1h-2zM100 0h1v1h-1zM104 0h3v1h-3zM109 0h1v1h-1zM119 0h1v1h-1zM123 0h1v1h-1zM131 0h1v1h-1zM135 0h1v1h-1zM139 0h2v1h-2zM143 0h2v1h-2zM154 0h1v1h-1zM160 0h1v1h-1zM163 0h1v1h-1zM166 0h1v1h-1zM169 0h1v1h-1zM174 0h2v1h-2zM182 0h1v1h-1zM187 0h1v1h-1zM193 0h1v1h-1zM198 0h1v1h-1zM6 1h1v1h-1zM25 1h2v1h-2zM36 1h1v1h-1zM38 1h1v1h-1zM45 1h1v1h-1zM47 1h2v1h-2zM56 1h1v1h-1zM58 1h1v1h-1zM63 1h1v1h-1zM74 1h2v1h-2zM78 1h1v1h-1zM84 1h2v1h-2zM96 1h3v1h-3zM103 1h1v1h-1zM106 1h1v1h-1zM109 1h1v1h-1zM115 1h1v1h-1zM119 1h1v1h-1zM124 1h1v1h-1zM127 1h1v1h-1zM131 1h2v1h-2zM134 1h1v1h-1zM140 1h1v1h-1zM143 1h1v1h-1zM147 1h1v1h-1zM151 1h1v1h-1zM154 1h3v1h-3zM158 1h1v1h-1zM160 1h4v1h-4zM170 1h2v1h-2zM174 1h1v1h-1zM182 1h1v1h-1zM186 1h2v1h-2zM192 1h1v1h-1zM195 1h1v1h-1zM198 1h1v1h-1zM4 2h1v1h-1zM9 2h1v1h-1zM12 2h1v1h-1zM21 2h1v1h-1zM23 2h1v1h-1zM38 2h1v1h-1zM43 2h2v1h-2zM47 2h1v1h-1zM50 2h1v1h-1zM53 2h1v1h-1zM61 2h1v1h-1zM63 2h3v1h-3zM71 2h1v1h-1zM74 2h1v1h-1zM83 2h4v1h-4zM95 2h2v1h-2zM98 2h2v1h-2zM103 2h2v1h-2zM106 2h2v1h-2zM119 2h2v1h-2zM125 2h1v1h-1zM127 2h1v1h-1zM131 2h1v1h-1zM136 2h1v1h-1zM143 2h1v1h-1zM147 2h1v1h-1zM154 2h1v1h-1zM156 2h1v1h-1zM159 2h4v1h-4zM166 2h1v1h-1zM169 2h2v1h-2zM180 2h2v1h-2zM186 2h2v1h-2zM197 2h2v1h-2zM11 3h1v1h-1zM15 3h1v1h-1zM21 3h1v1h-1zM23 3h1v1h-1zM27 3h1v1h-1zM36 3h1v1h-1zM44 3h1v1h-1zM46 3h1v1h-1zM49 3h1v1h-1zM53 3h2v1h-2zM64 3h2v1h-2zM79 3h1v1h-1zM95 3h2v1h-2zM98 3h2v1h-2zM103 3h1v1h-1zM105 3h2v1h-2zM108 3h1v1h-1zM110 3h2v1h-2zM114 3h3v1h-3zM120 3h2v1h-2zM133 3h2v1h-2zM136 3h1v1h-1zM143 3h1v1h-1zM150 3h1v1h-1zM157 3h1v1h-1zM159 3h1v1h-1zM161 3h2v1h-2zM168 3h2v1h-2zM174 3h1v1h-1zM180 3h2v1h-2zM188 3h1v1h-1zM190 3h1v1h-1zM194 3h5v1h-5zM7 4h1v1h-1zM10 4h2v1h-2zM24 4h1v1h-1zM36 4h1v1h-1zM39 4h1v1h-1zM42 4h1v1h-1zM48 4h1v1h-1zM50 4h1v1h-1zM54 4h1v1h-1zM56 4h1v1h-1zM64 4h1v1h-1zM78 4h3v1h-3zM95 4h5v1h-5zM102 4h1v1h-1zM105 4h2v1h-2zM109 4h2v1h-2zM112 4h1v1h-1zM114 4h3v1h-3zM118 4h1v1h-1zM121 4h3v1h-3zM126 4h1v1h-1zM132 4h1v1h-1zM135 4h2v1h-2zM139 4h1v1h-1zM143 4h1v1h-1zM154 4h1v1h-1zM158 4h2v1h-2zM161 4h1v1h-1zM168 4h1v1h-1zM170 4h1v1h-1zM175 4h2v1h-2zM180 4h2v1h-2zM184 4h1v1h-1zM192 4h1v1h-1zM194 4h1v1h-1zM197 4h2v1h-2zM23 5h1v1h-1zM42 5h1v1h-1zM48 5h1v1h-1zM53 5h4v1h-4zM64 5h1v1h-1zM79 5h4v1h-4zM86 5h1v1h-1zM88 5h1v1h-1zM97 5h1v1h-1zM99 5h1v1h-1zM105 5h2v1h-2zM108 5h1v1h-1zM112 5h2v1h-2zM115 5h1v1h-1zM119 5h1v1h-1zM122 5h2v1h-2zM126 5h1v1h-1zM131 5h3v1h-3zM136 5h1v1h-1zM138 5h5v1h-5zM154 5h1v1h-1zM164 5h1v1h-1zM170 5h2v1h-2zM178 5h1v1h-1zM181 5h1v1h-1zM193 5h1v1h-1zM198 5h1v1h-1zM30 6h1v1h-1zM36 6h1v1h-1zM40 6h1v1h-1zM44 6h1v1h-1zM47 6h3v1h-3zM55 6h1v1h-1zM57 6h1v1h-1zM61 6h1v1h-1zM72 6h2v1h-2zM78 6h1v1h-1zM80 6h3v1h-3zM84 6h1v1h-1zM86 6h2v1h-2zM99 6h1v1h-1zM108 6h1v1h-1zM112 6h2v1h-2zM118 6h1v1h-1zM122 6h2v1h-2zM133 6h1v1h-1zM135 6h2v1h-2zM138 6h6v1h-6zM154 6h2v1h-2zM162 6h1v1h-1zM164 6h1v1h-1zM169 6h3v1h-3zM181 6h1v1h-1zM197 6h1v1h-1zM9 7h1v1h-1zM11 7h1v1h-1zM24 7h1v1h-1zM44 7h2v1h-2zM57 7h2v1h-2zM61 7h3v1h-3zM71 7h1v1h-1zM73 7h2v1h-2zM80 7h1v1h-1zM84 7h2v1h-2zM99 7h1v1h-1zM103 7h2v1h-2zM112 7h2v1h-2zM119 7h1v1h-1zM123 7h1v1h-1zM133 7h1v1h-1zM138 7h1v1h-1zM140 7h4v1h-4zM145 7h1v1h-1zM149 7h1v1h-1zM152 7h1v1h-1zM154 7h2v1h-2zM161 7h2v1h-2zM170 7h3v1h-3zM181 7h1v1h-1zM190 7h3v1h-3zM195 7h3v1h-3zM8 8h2v1h-2zM12 8h1v1h-1zM15 8h1v1h-1zM35 8h1v1h-1zM37 8h1v1h-1zM47 8h1v1h-1zM53 8h1v1h-1zM56 8h1v1h-1zM62 8h1v1h-1zM64 8h1v1h-1zM66 8h2v1h-2zM71 8h1v1h-1zM73 8h1v1h-1zM80 8h1v1h-1zM84 8h1v1h-1zM90 8h1v1h-1zM94 8h1v1h-1zM103 8h2v1h-2zM110 8h1v1h-1zM113 8h1v1h-1zM116 8h1v1h-1zM120 8h1v1h-1zM123 8h2v1h-2zM134 8h1v1h-1zM142 8h2v1h-2zM145 8h1v1h-1zM149 8h2v1h-2zM152 8h1v1h-1zM154 8h1v1h-1zM160 8h1v1h-1zM162 8h2v1h-2zM167 8h1v1h-1zM170 8h1v1h-1zM172 8h1v1h-1zM181 8h1v1h-1zM186 8h1v1h-1zM188 8h2v1h-2zM191 8h1v1h-1zM195 8h2v1h-2zM1 9h1v1h-1zM9 9h1v1h-1zM15 9h1v1h-1zM18 9h1v1h-1zM20 9h1v1h-1zM33 9h1v1h-1zM35 9h2v1h-2zM55 9h1v1h-1zM62 9h2v1h-2zM69 9h1v1h-1zM71 9h1v1h-1zM81 9h1v1h-1zM90 9h1v1h-1zM95 9h1v1h-1zM97 9h1v1h-1zM103 9h3v1h-3zM114 9h2v1h-2zM119 9h3v1h-3zM124 9h1v1h-1zM126 9h1v1h-1zM133 9h2v1h-2zM142 9h1v1h-1zM149 9h2v1h-2zM154 9h1v1h-1zM161 9h2v1h-2zM165 9h1v1h-1zM167 9h1v1h-1zM170 9h1v1h-1zM172 9h1v1h-1zM174 9h2v1h-2zM178 9h3v1h-3zM182 9h1v1h-1zM186 9h1v1h-1zM188 9h2v1h-2zM195 9h1v1h-1zM15 10h1v1h-1zM25 10h1v1h-1zM48 10h1v1h-1zM53 10h1v1h-1zM62 10h2v1h-2zM67 10h5v1h-5zM80 10h1v1h-1zM86 10h1v1h-1zM92 10h3v1h-3zM97 10h1v1h-1zM103 10h1v1h-1zM110 10h2v1h-2zM114 10h1v1h-1zM116 10h1v1h-1zM120 10h1v1h-1zM124 10h1v1h-1zM126 10h1v1h-1zM134 10h1v1h-1zM140 10h2v1h-2zM146 10h3v1h-3zM159 10h2v1h-2zM162 10h1v1h-1zM164 10h2v1h-2zM167 10h1v1h-1zM169 10h2v1h-2zM172 10h1v1h-1zM175 10h1v1h-1zM179 10h4v1h-4zM186 10h1v1h-1zM188 10h1v1h-1zM1 11h1v1h-1zM9 11h1v1h-1zM24 11h1v1h-1zM33 11h1v1h-1zM48 11h1v1h-1zM52 11h3v1h-3zM59 11h1v1h-1zM71 11h3v1h-3zM75 11h1v1h-1zM92 11h2v1h-2zM107 11h1v1h-1zM109 11h3v1h-3zM116 11h2v1h-2zM125 11h2v1h-2zM131 11h1v1h-1zM140 11h2v1h-2zM147 11h1v1h-1zM154 11h1v1h-1zM157 11h2v1h-2zM160 11h1v1h-1zM162 11h4v1h-4zM167 11h1v1h-1zM169 11h1v1h-1zM175 11h1v1h-1zM179 11h4v1h-4zM189 11h1v1h-1zM1 12h1v1h-1zM10 12h1v1h-1zM21 12h1v1h-1zM24 12h1v1h-1zM32 12h1v1h-1zM34 12h1v1h-1zM51 12h1v1h-1zM56 12h2v1h-2zM63 12h1v1h-1zM69 12h1v1h-1zM71 12h1v1h-1zM73 12h1v1h-1zM75 12h2v1h-2zM84 12h1v1h-1zM89 12h1v1h-1zM93 12h3v1h-3zM98 12h1v1h-1zM106 12h2v1h-2zM109 12h2v1h-2zM116 12h2v1h-2zM121 12h1v1h-1zM129 12h4v1h-4zM134 12h1v1h-1zM136 12h1v1h-1zM138 12h1v1h-1zM140 12h2v1h-2zM146 12h2v1h-2zM151 12h1v1h-1zM153 12h3v1h-3zM157 12h1v1h-1zM161 12h4v1h-4zM172 12h1v1h-1zM175 12h2v1h-2zM181 12h2v1h-2zM186 12h1v1h-1zM189 12h1v1h-1zM2 13h1v1h-1zM16 13h2v1h-2zM21 13h1v1h-1zM33 13h1v1h-1zM36 13h1v1h-1zM38 13h1v1h-1zM55 13h1v1h-1zM57 13h1v1h-1zM61 13h1v1h-1zM65 13h1v1h-1zM69 13h1v1h-1zM71 13h1v1h-1zM80 13h1v1h-1zM85 13h1v1h-1zM91 13h1v1h-1zM96 13h1v1h-1zM106 13h2v1h-2zM116 13h2v1h-2zM126 13h1v1h-1zM129 13h2v1h-2zM132 13h1v1h-1zM135 13h1v1h-1zM137 13h1v1h-1zM141 13h2v1h-2zM146 13h3v1h-3zM150 13h3v1h-3zM154 13h2v1h-2zM157 13h1v1h-1zM161 13h2v1h-2zM164 13h1v1h-1zM171 13h1v1h-1zM174 13h3v1h-3zM181 13h7v1h-7zM194 13h1v1h-1zM10 14h1v1h-1zM34 14h2v1h-2zM41 14h3v1h-3zM50 14h2v1h-2zM55 14h1v1h-1zM57 14h1v1h-1zM65 14h1v1h-1zM67 14h1v1h-1zM75 14h1v1h-1zM80 14h1v1h-1zM84 14h1v1h-1zM90 14h1v1h-1zM93 14h2v1h-2zM96 14h1v1h-1zM106 14h2v1h-2zM114 14h1v1h-1zM129 14h1v1h-1zM137 14h1v1h-1zM144 14h4v1h-4zM149 14h4v1h-4zM154 14h4v1h-4zM159 14h1v1h-1zM161 14h2v1h-2zM167 14h1v1h-1zM174 14h3v1h-3zM183 14h3v1h-3zM187 14h2v1h-2zM193 14h2v1h-2zM197 14h2v1h-2zM2 15h1v1h-1zM5 15h1v1h-1zM11 15h2v1h-2zM15 15h1v1h-1zM19 15h2v1h-2zM41 15h3v1h-3zM50 15h1v1h-1zM56 15h1v1h-1zM65 15h1v1h-1zM71 15h1v1h-1zM78 15h1v1h-1zM84 15h1v1h-1zM87 15h1v1h-1zM93 15h2v1h-2zM97 15h3v1h-3zM101 15h1v1h-1zM107 15h1v1h-1zM111 15h1v1h-1zM119 15h1v1h-1zM122 15h1v1h-1zM128 15h1v1h-1zM144 15h2v1h-2zM147 15h3v1h-3zM151 15h2v1h-2zM155 15h1v1h-1zM157 15h3v1h-3zM161 15h1v1h-1zM167 15h1v1h-1zM173 15h2v1h-2zM178 15h1v1h-1zM183 15h1v1h-1zM185 15h4v1h-4zM193 15h1v1h-1zM195 15h4v1h-4zM11 16h1v1h-1zM15 16h1v1h-1zM25 16h2v1h-2zM34 16h2v1h-2zM37 16h1v1h-1zM40 16h1v1h-1zM50 16h1v1h-1zM53 16h2v1h-2zM65 16h1v1h-1zM69 16h1v1h-1zM75 16h1v1h-1zM77 16h2v1h-2zM93 16h4v1h-4zM98 16h1v1h-1zM106 16h6v1h-6zM117 16h3v1h-3zM122 16h1v1h-1zM128 16h1v1h-1zM131 16h1v1h-1zM136 16h1v1h-1zM144 16h2v1h-2zM147 16h2v1h-2zM155 16h3v1h-3zM160 16h2v1h-2zM169 16h1v1h-1zM171 16h1v1h-1zM173 16h1v1h-1zM178 16h2v1h-2zM186 16h5v1h-5zM195 16h4v1h-4zM19 17h1v1h-1zM34 17h2v1h-2zM44 17h2v1h-2zM50 17h2v1h-2zM70 17h1v1h-1zM74 17h2v1h-2zM77 17h1v1h-1zM82 17h1v1h-1zM86 17h1v1h-1zM92 17h1v1h-1zM96 17h1v1h-1zM99 17h3v1h-3zM106 17h2v1h-2zM109 17h5v1h-5zM117 17h2v1h-2zM120 17h1v1h-1zM123 17h1v1h-1zM131 17h3v1h-3zM138 17h2v1h-2zM141 17h2v1h-2zM145 17h3v1h-3zM149 17h3v1h-3zM155 17h3v1h-3zM160 17h2v1h-2zM164 17h1v1h-1zM168 17h1v1h-1zM173 17h1v1h-1zM178 17h2v1h-2zM181 17h1v1h-1zM189 17h3v1h-3zM197 17h2v1h-2zM5 18h1v1h-1zM7 18h1v1h-1zM13 18h1v1h-1zM20 18h1v1h-1zM22 18h1v1h-1zM24 18h1v1h-1zM31 18h1v1h-1zM36 18h1v1h-1zM45 18h1v1h-1zM50 18h1v1h-1zM56 18h1v1h-1zM63 18h1v1h-1zM69 18h1v1h-1zM71 18h3v1h-3zM81 18h1v1h-1zM101 18h1v1h-1zM105 18h2v1h-2zM111 18h2v1h-2zM114 18h1v1h-1zM120 18h1v1h-1zM122 18h1v1h-1zM131 18h3v1h-3zM138 18h2v1h-2zM141 18h2v1h-2zM145 18h2v1h-2zM149 18h3v1h-3zM155 18h2v1h-2zM161 18h1v1h-1zM164 18h1v1h-1zM168 18h1v1h-1zM174 18h1v1h-1zM178 18h1v1h-1zM181 18h1v1h-1zM187 18h2v1h-2zM197 18h2v1h-2zM5 19h1v1h-1zM7 19h1v1h-1zM15 19h1v1h-1zM20 19h1v1h-1zM23 19h2v1h-2zM27 19h1v1h-1zM40 19h1v1h-1zM45 19h2v1h-2zM56 19h1v1h-1zM62 19h1v1h-1zM64 19h1v1h-1zM69 19h6v1h-6zM81 19h1v1h-1zM91 19h2v1h-2zM94 19h1v1h-1zM101 19h1v1h-1zM105 19h2v1h-2zM111 19h3v1h-3zM122 19h2v1h-2zM129 19h3v1h-3zM133 19h1v1h-1zM137 19h1v1h-1zM139 19h2v1h-2zM142 19h1v1h-1zM145 19h2v1h-2zM150 19h3v1h-3zM160 19h1v1h-1zM164 19h1v1h-1zM172 19h1v1h-1zM174 19h3v1h-3zM178 19h1v1h-1zM180 19h1v1h-1zM182 19h1v1h-1zM185 19h1v1h-1zM187 19h2v1h-2zM197 19h1v1h-1zM15 20h1v1h-1zM18 20h1v1h-1zM21 20h1v1h-1zM24 20h4v1h-4zM33 20h2v1h-2zM40 20h1v1h-1zM51 20h1v1h-1zM62 20h3v1h-3zM70 20h2v1h-2zM81 20h1v1h-1zM89 20h1v1h-1zM91 20h1v1h-1zM94 20h1v1h-1zM101 20h1v1h-1zM105 20h1v1h-1zM116 20h2v1h-2zM122 20h1v1h-1zM124 20h1v1h-1zM129 20h2v1h-2zM137 20h2v1h-2zM140 20h1v1h-1zM142 20h1v1h-1zM144 20h3v1h-3zM160 20h1v1h-1zM165 20h1v1h-1zM169 20h1v1h-1zM173 20h1v1h-1zM175 20h2v1h-2zM180 20h1v1h-1zM182 20h2v1h-2zM187 20h2v1h-2zM192 20h1v1h-1zM197 20h1v1h-1zM7 21h2v1h-2zM10 21h1v1h-1zM17 21h2v1h-2zM21 21h1v1h-1zM33 21h1v1h-1zM44 21h1v1h-1zM46 21h1v1h-1zM55 21h1v1h-1zM58 21h1v1h-1zM70 21h1v1h-1zM80 21h2v1h-2zM84 21h1v1h-1zM89 21h1v1h-1zM91 21h1v1h-1zM101 21h4v1h-4zM108 21h1v1h-1zM116 21h1v1h-1zM129 21h2v1h-2zM134 21h1v1h-1zM137 21h1v1h-1zM140 21h2v1h-2zM144 21h1v1h-1zM165 21h1v1h-1zM168 21h1v1h-1zM173 21h1v1h-1zM175 21h2v1h-2zM180 21h1v1h-1zM183 21h1v1h-1zM188 21h2v1h-2zM191 21h3v1h-3zM196 21h1v1h-1zM198 21h1v1h-1zM0 22h1v1h-1zM7 22h2v1h-2zM16 22h2v1h-2zM91 22h3v1h-3zM95 22h1v1h-1zM99 22h2v1h-2zM102 22h2v1h-2zM108 22h3v1h-3zM116 22h1v1h-1zM124 22h2v1h-2zM127 22h1v1h-1zM129 22h2v1h-2zM137 22h1v1h-1zM144 22h1v1h-1zM150 22h1v1h-1zM153 22h1v1h-1zM162 22h1v1h-1zM165 22h1v1h-1zM168 22h1v1h-1zM172 22h1v1h-1zM176 22h2v1h-2zM180 22h1v1h-1zM183 22h1v1h-1zM189 22h1v1h-1zM191 22h4v1h-4zM198 22h1v1h-1zM16 23h1v1h-1zM19 23h1v1h-1zM92 23h1v1h-1zM95 23h4v1h-4zM108 23h4v1h-4zM116 23h1v1h-1zM119 23h1v1h-1zM123 23h1v1h-1zM127 23h2v1h-2zM135 23h1v1h-1zM150 23h1v1h-1zM153 23h1v1h-1zM161 23h2v1h-2zM166 23h1v1h-1zM176 23h1v1h-1zM178 23h1v1h-1zM180 23h1v1h-1zM187 23h1v1h-1zM189 23h1v1h-1zM191 23h4v1h-4zM0 24h1v1h-1zM92 24h1v1h-1zM95 24h2v1h-2zM98 24h1v1h-1zM101 24h2v1h-2zM106 24h3v1h-3zM110 24h4v1h-4zM123 24h1v1h-1zM127 24h2v1h-2zM148 24h3v1h-3zM152 24h2v1h-2zM161 24h2v1h-2zM166 24h1v1h-1zM171 24h1v1h-1zM176 24h2v1h-2zM180 24h2v1h-2zM187 24h1v1h-1zM189 24h1v1h-1zM191 24h1v1h-1zM194 24h1v1h-1zM2 25h1v1h-1zM7 25h1v1h-1zM19 25h1v1h-1zM45 25h1v1h-1zM62 25h1v1h-1zM65 25h1v1h-1zM78 25h3v1h-3zM84 25h1v1h-1zM89 25h1v1h-1zM95 25h1v1h-1zM102 25h1v1h-1zM106 25h4v1h-4zM113 25h1v1h-1zM118 25h1v1h-1zM120 25h1v1h-1zM127 25h2v1h-2zM132 25h3v1h-3zM142 25h1v1h-1zM147 25h4v1h-4zM152 25h3v1h-3zM157 25h1v1h-1zM161 25h1v1h-1zM167 25h2v1h-2zM170 25h2v1h-2zM177 25h1v1h-1zM180 25h8v1h-8zM189 25h3v1h-3zM15 26h1v1h-1zM28 26h1v1h-1zM62 26h1v1h-1zM65 26h1v1h-1zM78 26h1v1h-1zM89 26h1v1h-1zM92 26h2v1h-2zM98 26h2v1h-2zM109 26h1v1h-1zM113 26h2v1h-2zM116 26h5v1h-5zM122 26h2v1h-2zM127 26h3v1h-3zM132 26h2v1h-2zM147 26h1v1h-1zM150 26h1v1h-1zM153 26h2v1h-2zM157 26h1v1h-1zM161 26h1v1h-1zM167 26h2v1h-2zM170 26h1v1h-1zM174 26h1v1h-1zM181 26h7v1h-7zM189 26h1v1h-1zM193 26h3v1h-3zM7 27h1v1h-1zM10 27h1v1h-1zM17 27h1v1h-1zM29 27h3v1h-3zM44 27h1v1h-1zM54 27h2v1h-2zM59 27h2v1h-2zM84 27h2v1h-2zM89 27h1v1h-1zM92 27h2v1h-2zM95 27h1v1h-1zM98 27h1v1h-1zM108 27h2v1h-2zM114 27h5v1h-5zM120 27h1v1h-1zM122 27h2v1h-2zM128 27h2v1h-2zM132 27h2v1h-2zM144 27h1v1h-1zM153 27h1v1h-1zM156 27h2v1h-2zM163 27h1v1h-1zM165 27h3v1h-3zM170 27h1v1h-1zM177 27h2v1h-2zM181 27h2v1h-2zM184 27h8v1h-8zM193 27h3v1h-3zM0 28h1v1h-1zM34 28h2v1h-2zM41 28h2v1h-2zM55 28h1v1h-1zM60 28h1v1h-1zM65 28h1v1h-1zM69 28h1v1h-1zM81 28h1v1h-1zM83 28h2v1h-2zM89 28h2v1h-2zM92 28h1v1h-1zM103 28h1v1h-1zM114 28h2v1h-2zM120 28h1v1h-1zM123 28h1v1h-1zM132 28h2v1h-2zM140 28h2v1h-2zM144 28h1v1h-1zM152 28h3v1h-3zM156 28h2v1h-2zM165 28h3v1h-3zM170 28h1v1h-1zM177 28h3v1h-3zM181 28h2v1h-2zM184 28h4v1h-4zM189 28h3v1h-3zM198 28h1v1h-1zM17 29h1v1h-1zM28 29h1v1h-1zM37 29h1v1h-1zM42 29h1v1h-1zM48 29h2v1h-2zM54 29h1v1h-1zM57 29h3v1h-3zM61 29h1v1h-1zM64 29h1v1h-1zM88 29h1v1h-1zM90 29h2v1h-2zM102 29h2v1h-2zM115 29h1v1h-1zM131 29h1v1h-1zM137 29h1v1h-1zM140 29h1v1h-1zM148 29h1v1h-1zM153 29h2v1h-2zM156 29h2v1h-2zM159 29h1v1h-1zM165 29h1v1h-1zM167 29h1v1h-1zM170 29h1v1h-1zM177 29h1v1h-1zM181 29h4v1h-4zM187 29h1v1h-1zM197 29h2v1h-2zM6 30h1v1h-1zM13 30h1v1h-1zM33 30h1v1h-1zM45 30h1v1h-1zM56 30h1v1h-1zM61 30h1v1h-1zM63 30h2v1h-2zM72 30h1v1h-1zM74 30h2v1h-2zM77 30h2v1h-2zM83 30h1v1h-1zM90 30h2v1h-2zM106 30h1v1h-1zM119 30h1v1h-1zM125 30h1v1h-1zM131 30h1v1h-1zM137 30h2v1h-2zM154 30h1v1h-1zM157 30h1v1h-1zM163 30h1v1h-1zM167 30h1v1h-1zM170 30h1v1h-1zM177 30h3v1h-3zM181 30h4v1h-4zM192 30h2v1h-2zM11 31h1v1h-1zM34 31h1v1h-1zM40 31h1v1h-1zM45 31h1v1h-1zM56 31h2v1h-2zM63 31h3v1h-3zM71 31h1v1h-1zM74 31h1v1h-1zM76 31h3v1h-3zM83 31h1v1h-1zM89 31h2v1h-2zM93 31h1v1h-1zM96 31h1v1h-1zM105 31h2v1h-2zM115 31h1v1h-1zM119 31h1v1h-1zM121 31h1v1h-1zM125 31h1v1h-1zM131 31h1v1h-1zM137 31h2v1h-2zM142 31h1v1h-1zM144 31h1v1h-1zM154 31h1v1h-1zM157 31h1v1h-1zM166 31h1v1h-1zM170 31h1v1h-1zM174 31h1v1h-1zM179 31h1v1h-1zM184 31h1v1h-1zM187 31h1v1h-1zM192 31h2v1h-2zM13 32h1v1h-1zM16 32h1v1h-1zM40 32h1v1h-1zM42 32h1v1h-1zM47 32h2v1h-2zM50 32h2v1h-2zM56 32h1v1h-1zM58 32h1v1h-1zM96 32h1v1h-1zM99 32h1v1h-1zM103 32h1v1h-1zM105 32h2v1h-2zM113 32h1v1h-1zM115 32h1v1h-1zM119 32h3v1h-3zM123 32h1v1h-1zM125 32h1v1h-1zM131 32h1v1h-1zM134 32h5v1h-5zM142 32h1v1h-1zM144 32h1v1h-1zM160 32h2v1h-2zM173 32h2v1h-2zM184 32h1v1h-1zM187 32h1v1h-1zM190 32h2v1h-2zM198 32h1v1h-1zM10 33h1v1h-1zM21 33h1v1h-1zM28 33h1v1h-1zM31 33h1v1h-1zM36 33h1v1h-1zM40 33h1v1h-1zM51 33h2v1h-2zM64 33h1v1h-1zM66 33h1v1h-1zM68 33h2v1h-2zM92 33h1v1h-1zM96 33h1v1h-1zM105 33h1v1h-1zM110 33h2v1h-2zM113 33h1v1h-1zM120 33h2v1h-2zM125 33h1v1h-1zM127 33h2v1h-2zM134 33h4v1h-4zM139 33h1v1h-1zM142 33h1v1h-1zM150 33h2v1h-2zM160 33h1v1h-1zM164 33h4v1h-4zM172 33h3v1h-3zM182 33h1v1h-1zM186 33h1v1h-1zM189 33h1v1h-1zM191 33h1v1h-1zM193 33h1v1h-1zM198 33h1v1h-1zM16 34h1v1h-1zM21 34h2v1h-2zM24 34h1v1h-1zM36 34h1v1h-1zM38 34h2v1h-2zM55 34h1v1h-1zM71 34h2v1h-2zM77 34h1v1h-1zM84 34h1v1h-1zM93 34h1v1h-1zM108 34h1v1h-1zM113 34h3v1h-3zM125 34h1v1h-1zM127 34h2v1h-2zM134 34h3v1h-3zM139 34h2v1h-2zM146 34h2v1h-2zM150 34h3v1h-3zM158 34h1v1h-1zM163 34h3v1h-3zM172 34h2v1h-2zM177 34h1v1h-1zM182 34h1v1h-1zM185 34h2v1h-2zM189 34h2v1h-2zM195 34h1v1h-1zM198 34h1v1h-1zM3 35h3v1h-3zM18 35h2v1h-2zM21 35h2v1h-2zM24 35h2v1h-2zM27 35h1v1h-1zM36 35h1v1h-1zM39 35h1v1h-1zM44 35h3v1h-3zM49 35h1v1h-1zM60 35h1v1h-1zM64 35h3v1h-3zM71 35h2v1h-2zM75 35h1v1h-1zM84 35h1v1h-1zM90 35h2v1h-2zM114 35h2v1h-2zM124 35h2v1h-2zM128 35h2v1h-2zM134 35h1v1h-1zM136 35h2v1h-2zM146 35h2v1h-2zM152 35h1v1h-1zM158 35h1v1h-1zM161 35h1v1h-1zM165 35h1v1h-1zM172 35h4v1h-4zM177 35h3v1h-3zM185 35h2v1h-2zM194 35h2v1h-2zM8 36h1v1h-1zM20 36h1v1h-1zM24 36h1v1h-1zM26 36h1v1h-1zM28 36h1v1h-1zM36 36h2v1h-2zM40 36h2v1h-2zM49 36h1v1h-1zM53 36h1v1h-1zM60 36h1v1h-1zM71 36h1v1h-1zM78 36h2v1h-2zM91 36h1v1h-1zM98 36h1v1h-1zM107 36h1v1h-1zM114 36h1v1h-1zM117 36h2v1h-2zM124 36h2v1h-2zM128 36h2v1h-2zM132 36h1v1h-1zM137 36h2v1h-2zM148 36h1v1h-1zM160 36h1v1h-1zM173 36h3v1h-3zM177 36h2v1h-2zM188 36h1v1h-1zM194 36h1v1h-1zM10 37h1v1h-1zM22 37h1v1h-1zM27 37h2v1h-2zM40 37h1v1h-1zM45 37h2v1h-2zM49 37h1v1h-1zM51 37h3v1h-3zM59 37h1v1h-1zM65 37h2v1h-2zM71 37h1v1h-1zM78 37h2v1h-2zM91 37h2v1h-2zM97 37h1v1h-1zM100 37h1v1h-1zM106 37h2v1h-2zM112 37h1v1h-1zM117 37h2v1h-2zM128 37h1v1h-1zM131 37h1v1h-1zM137 37h2v1h-2zM148 37h3v1h-3zM174 37h2v1h-2zM177 37h1v1h-1zM188 37h1v1h-1zM190 37h2v1h-2zM194 37h1v1h-1zM19 38h1v1h-1zM44 38h2v1h-2zM51 38h3v1h-3zM59 38h1v1h-1zM66 38h1v1h-1zM68 38h1v1h-1zM72 38h2v1h-2zM82 38h1v1h-1zM90 38h2v1h-2zM96 38h2v1h-2zM112 38h1v1h-1zM118 38h3v1h-3zM131 38h1v1h-1zM143 38h2v1h-2zM148 38h3v1h-3zM161 38h1v1h-1zM165 38h1v1h-1zM175 38h1v1h-1zM177 38h2v1h-2zM181 38h2v1h-2zM188 38h2v1h-2zM1 39h1v1h-1zM8 39h1v1h-1zM19 39h1v1h-1zM40 39h2v1h-2zM46 39h1v1h-1zM51 39h1v1h-1zM63 39h1v1h-1zM66 39h1v1h-1zM70 39h1v1h-1zM73 39h1v1h-1zM91 39h2v1h-2zM96 39h3v1h-3zM102 39h1v1h-1zM111 39h2v1h-2zM117 39h3v1h-3zM131 39h1v1h-1zM139 39h1v1h-1zM141 39h2v1h-2zM145 39h2v1h-2zM148 39h3v1h-3zM160 39h1v1h-1zM165 39h1v1h-1zM175 39h3v1h-3zM180 39h3v1h-3zM9 40h1v1h-1zM15 40h1v1h-1zM19 40h1v1h-1zM24 40h1v1h-1zM34 40h2v1h-2zM50 40h2v1h-2zM73 40h1v1h-1zM91 40h1v1h-1zM94 40h1v1h-1zM97 40h1v1h-1zM100 40h3v1h-3zM108 40h1v1h-1zM110 40h2v1h-2zM117 40h1v1h-1zM119 40h2v1h-2zM126 40h1v1h-1zM130 40h2v1h-2zM137 40h1v1h-1zM139 40h2v1h-2zM142 40h1v1h-1zM146 40h1v1h-1zM148 40h3v1h-3zM160 40h1v1h-1zM163 40h1v1h-1zM165 40h2v1h-2zM168 40h1v1h-1zM175 40h4v1h-4zM183 40h4v1h-4zM193 40h1v1h-1zM3 41h1v1h-1zM10 41h1v1h-1zM15 41h1v1h-1zM22 41h1v1h-1zM28 41h1v1h-1zM34 41h1v1h-1zM47 41h1v1h-1zM51 41h1v1h-1zM72 41h1v1h-1zM74 41h1v1h-1zM78 41h1v1h-1zM90 41h1v1h-1zM101 41h3v1h-3zM108 41h1v1h-1zM110 41h1v1h-1zM119 41h2v1h-2zM126 41h1v1h-1zM137 41h1v1h-1zM139 41h1v1h-1zM143 41h1v1h-1zM148 41h1v1h-1zM150 41h1v1h-1zM156 41h2v1h-2zM163 41h3v1h-3zM168 41h1v1h-1zM175 41h3v1h-3zM183 41h2v1h-2zM186 41h1v1h-1zM190 41h2v1h-2zM195 41h1v1h-1zM198 41h1v1h-1z"/>
<path fill="#97ff68" d="M10 0h1v1h-1zM20 0h1v1h-1zM24 0h1v1h-1zM38 0h1v1h-1zM40 0h1v1h-1zM42 0h2v1h-2zM50 0h4v1h-4zM60 0h1v1h-1zM62 0h1v1h-1zM71 0h1v1h-1zM82 0h1v1h-1zM87 0h1v1h-1zM90 0h4v1h-4zM99 0h1v1h-1zM101 0h1v1h-1zM113 0h1v1h-1zM116 0h1v1h-1zM121 0h1v1h-1zM125 0h1v1h-1zM136 0h2v1h-2zM141 0h2v1h-2zM173 0h1v1h-1zM176 0h3v1h-3zM196 0h2v1h-2zM10 1h1v1h-1zM15 1h1v1h-1zM17 1h1v1h-1zM20 1h1v1h-1zM30 1h2v1h-2zM35 1h1v1h-1zM37 1h1v1h-1zM41 1h1v1h-1zM49 1h3v1h-3zM62 1h1v1h-1zM65 1h1v1h-1zM69 1h1v1h-1zM76 1h1v1h-1zM86 1h1v1h-1zM88 1h1v1h-1zM90 1h1v1h-1zM92 1h1v1h-1zM112 1h1v1h-1zM137 1h2v1h-2zM141 1h1v1h-1zM146 1h1v1h-1zM177 1h3v1h-3zM184 1h1v1h-1zM1 2h1v1h-1zM10 2h2v1h-2zM24 2h2v1h-2zM29 2h2v1h-2zM35 2h1v1h-1zM37 2h1v1h-1zM40 2h1v1h-1zM51 2h2v1h-2zM59 2h1v1h-1zM62 2h1v1h-1zM66 2h2v1h-2zM69 2h1v1h-1zM88 2h1v1h-1zM122 2h2v1h-2zM130 2h1v1h-1zM138 2h2v1h-2zM141 2h1v1h-1zM144 2h1v1h-1zM152 2h1v1h-1zM164 2h1v1h-1zM178 2h2v1h-2zM183 2h2v1h-2zM0 3h1v1h-1zM7 3h1v1h-1zM14 3h1v1h-1zM25 3h1v1h-1zM41 3h1v1h-1zM52 3h1v1h-1zM57 3h1v1h-1zM59 3h1v1h-1zM61 3h2v1h-2zM66 3h1v1h-1zM73 3h1v1h-1zM80 3h5v1h-5zM88 3h5v1h-5zM124 3h1v1h-1zM139 3h1v1h-1zM141 3h2v1h-2zM148 3h1v1h-1zM152 3h1v1h-1zM164 3h1v1h-1zM178 3h2v1h-2zM182 3h2v1h-2zM2 4h1v1h-1zM25 4h1v1h-1zM28 4h3v1h-3zM33 4h1v1h-1zM38 4h1v1h-1zM41 4h1v1h-1zM47 4h1v1h-1zM52 4h1v1h-1zM61 4h1v1h-1zM66 4h1v1h-1zM70 4h1v1h-1zM77 4h1v1h-1zM83 4h1v1h-1zM86 4h2v1h-2zM101 4h1v1h-1zM124 4h1v1h-1zM137 4h1v1h-1zM142 4h1v1h-1zM147 4h2v1h-2zM166 4h1v1h-1zM173 4h1v1h-1zM182 4h2v1h-2zM0 5h1v1h-1zM6 5h1v1h-1zM16 5h1v1h-1zM41 5h1v1h-1zM50 5h2v1h-2zM58 5h1v1h-1zM63 5h1v1h-1zM66 5h1v1h-1zM68 5h1v1h-1zM70 5h1v1h-1zM75 5h1v1h-1zM77 5h1v1h-1zM83 5h1v1h-1zM90 5h2v1h-2zM93 5h1v1h-1zM96 5h1v1h-1zM103 5h1v1h-1zM120 5h1v1h-1zM124 5h2v1h-2zM128 5h1v1h-1zM137 5h1v1h-1zM147 5h2v1h-2zM173 5h2v1h-2zM177 5h1v1h-1zM183 5h1v1h-1zM185 5h1v1h-1zM190 5h1v1h-1zM196 5h1v1h-1zM2 6h1v1h-1zM21 6h1v1h-1zM34 6h1v1h-1zM37 6h1v1h-1zM41 6h1v1h-1zM50 6h2v1h-2zM60 6h1v1h-1zM66 6h5v1h-5zM76 6h2v1h-2zM83 6h1v1h-1zM90 6h1v1h-1zM94 6h1v1h-1zM96 6h2v1h-2zM107 6h1v1h-1zM110 6h2v1h-2zM114 6h1v1h-1zM116 6h1v1h-1zM120 6h1v1h-1zM125 6h1v1h-1zM128 6h1v1h-1zM134 6h1v1h-1zM147 6h1v1h-1zM159 6h1v1h-1zM176 6h2v1h-2zM190 6h1v1h-1zM8 7h1v1h-1zM12 7h1v1h-1zM19 7h1v1h-1zM23 7h1v1h-1zM25 7h1v1h-1zM35 7h1v1h-1zM38 7h1v1h-1zM50 7h3v1h-3zM54 7h1v1h-1zM66 7h2v1h-2zM70 7h1v1h-1zM76 7h1v1h-1zM78 7h2v1h-2zM83 7h1v1h-1zM86 7h1v1h-1zM88 7h1v1h-1zM92 7h1v1h-1zM94 7h4v1h-4zM105 7h5v1h-5zM111 7h1v1h-1zM114 7h1v1h-1zM117 7h1v1h-1zM121 7h1v1h-1zM126 7h1v1h-1zM128 7h1v1h-1zM131 7h2v1h-2zM157 7h3v1h-3zM175 7h1v1h-1zM177 7h1v1h-1zM180 7h1v1h-1zM193 7h1v1h-1zM198 7h1v1h-1zM0 8h2v1h-2zM3 8h1v1h-1zM7 8h1v1h-1zM11 8h1v1h-1zM23 8h2v1h-2zM30 8h1v1h-1zM38 8h1v1h-1zM40 8h1v1h-1zM44 8h1v1h-1zM49 8h1v1h-1zM54 8h1v1h-1zM57 8h2v1h-2zM60 8h1v1h-1zM76 8h1v1h-1zM78 8h2v1h-2zM83 8h1v1h-1zM85 8h4v1h-4zM92 8h2v1h-2zM102 8h1v1h-1zM106 8h4v1h-4zM111 8h1v1h-1zM118 8h1v1h-1zM127 8h1v1h-1zM129 8h4v1h-4zM135 8h3v1h-3zM139 8h1v1h-1zM157 8h2v1h-2zM176 8h1v1h-1zM192 8h2v1h-2zM198 8h1v1h-1zM19 9h1v1h-1zM23 9h1v1h-1zM26 9h1v1h-1zM38 9h1v1h-1zM40 9h1v1h-1zM47 9h3v1h-3zM54 9h1v1h-1zM60 9h2v1h-2zM72 9h1v1h-1zM79 9h1v1h-1zM85 9h1v1h-1zM100 9h3v1h-3zM106 9h4v1h-4zM112 9h1v1h-1zM117 9h2v1h-2zM127 9h3v1h-3zM131 9h2v1h-2zM135 9h2v1h-2zM138 9h2v1h-2zM144 9h1v1h-1zM151 9h1v1h-1zM155 9h1v1h-1zM171 9h1v1h-1zM192 9h2v1h-2zM5 10h1v1h-1zM23 10h1v1h-1zM26 10h1v1h-1zM38 10h3v1h-3zM42 10h2v1h-2zM47 10h1v1h-1zM51 10h1v1h-1zM58 10h3v1h-3zM65 10h1v1h-1zM76 10h1v1h-1zM79 10h1v1h-1zM84 10h2v1h-2zM90 10h1v1h-1zM100 10h3v1h-3zM113 10h1v1h-1zM118 10h1v1h-1zM123 10h1v1h-1zM127 10h1v1h-1zM129 10h2v1h-2zM136 10h1v1h-1zM139 10h1v1h-1zM151 10h2v1h-2zM190 10h1v1h-1zM5 11h1v1h-1zM10 11h1v1h-1zM17 11h2v1h-2zM22 11h1v1h-1zM27 11h2v1h-2zM37 11h1v1h-1zM40 11h1v1h-1zM42 11h1v1h-1zM44 11h4v1h-4zM57 11h1v1h-1zM60 11h1v1h-1zM64 11h3v1h-3zM83 11h1v1h-1zM87 11h1v1h-1zM89 11h1v1h-1zM100 11h2v1h-2zM105 11h1v1h-1zM113 11h1v1h-1zM118 11h2v1h-2zM123 11h1v1h-1zM127 11h1v1h-1zM129 11h1v1h-1zM136 11h2v1h-2zM173 11h1v1h-1zM178 11h1v1h-1zM190 11h2v1h-2zM193 11h1v1h-1zM196 11h3v1h-3zM5 12h1v1h-1zM14 12h1v1h-1zM27 12h2v1h-2zM36 12h1v1h-1zM39 12h1v1h-1zM45 12h1v1h-1zM47 12h2v1h-2zM50 12h1v1h-1zM55 12h1v1h-1zM64 12h1v1h-1zM66 12h2v1h-2zM77 12h1v1h-1zM79 12h1v1h-1zM87 12h1v1h-1zM90 12h1v1h-1zM97 12h1v1h-1zM99 12h1v1h-1zM101 12h1v1h-1zM105 12h1v1h-1zM112 12h3v1h-3zM123 12h1v1h-1zM143 12h1v1h-1zM166 12h1v1h-1zM191 12h3v1h-3zM195 12h3v1h-3zM6 13h1v1h-1zM10 13h1v1h-1zM20 13h1v1h-1zM23 13h1v1h-1zM26 13h1v1h-1zM30 13h1v1h-1zM35 13h1v1h-1zM39 13h1v1h-1zM41 13h1v1h-1zM43 13h1v1h-1zM48 13h2v1h-2zM54 13h1v1h-1zM64 13h1v1h-1zM74 13h1v1h-1zM77 13h1v1h-1zM82 13h1v1h-1zM99 13h1v1h-1zM101 13h2v1h-2zM112 13h1v1h-1zM123 13h1v1h-1zM139 13h1v1h-1zM143 13h1v1h-1zM165 13h1v1h-1zM169 13h1v1h-1zM178 13h2v1h-2zM192 13h1v1h-1zM195 13h1v1h-1zM4 14h1v1h-1zM12 14h1v1h-1zM14 14h1v1h-1zM36 14h2v1h-2zM40 14h1v1h-1zM58 14h5v1h-5zM66 14h1v1h-1zM68 14h1v1h-1zM72 14h2v1h-2zM76 14h1v1h-1zM98 14h1v1h-1zM102 14h1v1h-1zM109 14h1v1h-1zM112 14h1v1h-1zM123 14h3v1h-3zM134 14h1v1h-1zM139 14h2v1h-2zM165 14h1v1h-1zM178 14h3v1h-3zM26 15h1v1h-1zM28 15h1v1h-1zM30 15h1v1h-1zM37 15h2v1h-2zM44 15h2v1h-2zM47 15h1v1h-1zM58 15h1v1h-1zM60 15h1v1h-1zM62 15h2v1h-2zM68 15h1v1h-1zM74 15h1v1h-1zM82 15h1v1h-1zM104 15h1v1h-1zM109 15h1v1h-1zM112 15h2v1h-2zM133 15h1v1h-1zM135 15h1v1h-1zM140 15h1v1h-1zM154 15h1v1h-1zM163 15h1v1h-1zM165 15h1v1h-1zM180 15h1v1h-1zM182 15h1v1h-1zM3 16h1v1h-1zM5 16h2v1h-2zM10 16h1v1h-1zM23 16h1v1h-1zM28 16h1v1h-1zM30 16h1v1h-1zM32 16h2v1h-2zM38 16h1v1h-1zM43 16h1v1h-1zM46 16h1v1h-1zM55 16h1v1h-1zM57 16h1v1h-1zM59 16h2v1h-2zM63 16h2v1h-2zM67 16h1v1h-1zM72 16h1v1h-1zM74 16h1v1h-1zM76 16h1v1h-1zM80 16h1v1h-1zM83 16h1v1h-1zM88 16h3v1h-3zM103 16h1v1h-1zM113 16h1v1h-1zM126 16h2v1h-2zM130 16h1v1h-1zM134 16h1v1h-1zM140 16h1v1h-1zM153 16h2v1h-2zM162 16h2v1h-2zM182 16h1v1h-1zM184 16h1v1h-1zM194 16h1v1h-1zM5 17h1v1h-1zM11 17h1v1h-1zM15 17h1v1h-1zM17 17h1v1h-1zM21 17h2v1h-2zM27 17h1v1h-1zM32 17h1v1h-1zM38 17h2v1h-2zM46 17h1v1h-1zM48 17h1v1h-1zM54 17h2v1h-2zM63 17h3v1h-3zM67 17h1v1h-1zM72 17h2v1h-2zM76 17h1v1h-1zM87 17h1v1h-1zM90 17h1v1h-1zM93 17h1v1h-1zM97 17h2v1h-2zM124 17h2v1h-2zM127 17h1v1h-1zM130 17h1v1h-1zM140 17h1v1h-1zM153 17h2v1h-2zM162 17h2v1h-2zM175 17h2v1h-2zM183 17h3v1h-3zM2 18h1v1h-1zM6 18h1v1h-1zM15 18h1v1h-1zM17 18h1v1h-1zM23 18h1v1h-1zM28 18h1v1h-1zM32 18h1v1h-1zM44 18h1v1h-1zM47 18h3v1h-3zM53 18h3v1h-3zM66 18h3v1h-3zM76 18h1v1h-1zM84 18h2v1h-2zM87 18h2v1h-2zM90 18h1v1h-1zM98 18h1v1h-1zM102 18h1v1h-1zM116 18h2v1h-2zM126 18h1v1h-1zM128 18h1v1h-1zM136 18h1v1h-1zM153 18h1v1h-1zM162 18h1v1h-1zM167 18h1v1h-1zM169 18h3v1h-3zM184 18h1v1h-1zM0 19h1v1h-1zM10 19h1v1h-1zM12 19h1v1h-1zM25 19h2v1h-2zM28 19h1v1h-1zM30 19h1v1h-1zM32 19h1v1h-1zM35 19h1v1h-1zM37 19h2v1h-2zM47 19h1v1h-1zM53 19h2v1h-2zM57 19h1v1h-1zM65 19h2v1h-2zM75 19h1v1h-1zM78 19h1v1h-1zM82 19h2v1h-2zM85 19h4v1h-4zM96 19h1v1h-1zM100 19h1v1h-1zM103 19h1v1h-1zM109 19h1v1h-1zM117 19h2v1h-2zM120 19h2v1h-2zM128 19h1v1h-1zM143 19h1v1h-1zM170 19h2v1h-2zM190 19h1v1h-1zM8 20h1v1h-1zM14 20h1v1h-1zM17 20h1v1h-1zM32 20h1v1h-1zM35 20h2v1h-2zM38 20h1v1h-1zM44 20h1v1h-1zM47 20h1v1h-1zM49 20h2v1h-2zM54 20h1v1h-1zM56 20h1v1h-1zM58 20h1v1h-1zM68 20h1v1h-1zM72 20h1v1h-1zM75 20h2v1h-2zM78 20h1v1h-1zM82 20h2v1h-2zM87 20h1v1h-1zM90 20h1v1h-1zM92 20h2v1h-2zM95 20h1v1h-1zM97 20h4v1h-4zM103 20h1v1h-1zM109 20h2v1h-2zM113 20h2v1h-2zM118 20h1v1h-1zM120 20h2v1h-2zM128 20h1v1h-1zM132 20h1v1h-1zM143 20h1v1h-1zM155 20h2v1h-2zM159 20h1v1h-1zM162 20h1v1h-1zM166 20h1v1h-1zM170 20h1v1h-1zM186 20h1v1h-1zM3 21h2v1h-2zM12 21h1v1h-1zM15 21h1v1h-1zM24 21h1v1h-1zM27 21h1v1h-1zM31 21h1v1h-1zM36 21h1v1h-1zM38 21h1v1h-1zM49 21h1v1h-1zM57 21h1v1h-1zM61 21h1v1h-1zM63 21h2v1h-2zM66 21h4v1h-4zM74 21h2v1h-2zM83 21h1v1h-1zM90 21h1v1h-1zM92 21h1v1h-1zM95 21h1v1h-1zM97 21h1v1h-1zM105 21h3v1h-3zM112 21h3v1h-3zM120 21h2v1h-2zM128 21h1v1h-1zM131 21h1v1h-1zM148 21h1v1h-1zM152 21h1v1h-1zM159 21h1v1h-1zM167 21h1v1h-1zM178 21h1v1h-1zM181 21h1v1h-1zM186 21h1v1h-1zM11 22h2v1h-2zM20 22h1v1h-1zM22 22h1v1h-1zM44 22h2v1h-2zM55 22h2v1h-2zM70 22h2v1h-2zM80 22h1v1h-1zM90 22h1v1h-1zM106 22h1v1h-1zM112 22h1v1h-1zM114 22h1v1h-1zM117 22h2v1h-2zM121 22h1v1h-1zM133 22h1v1h-1zM138 22h2v1h-2zM159 22h1v1h-1zM167 22h1v1h-1zM181 22h1v1h-1zM186 22h1v1h-1zM3 23h1v1h-1zM93 23h1v1h-1zM117 23h2v1h-2zM121 23h1v1h-1zM133 23h1v1h-1zM143 23h3v1h-3zM3 24h1v1h-1zM13 24h1v1h-1zM20 24h1v1h-1zM80 24h2v1h-2zM90 24h2v1h-2zM93 24h2v1h-2zM103 24h1v1h-1zM105 24h1v1h-1zM125 24h1v1h-1zM130 24h2v1h-2zM143 24h1v1h-1zM145 24h2v1h-2zM163 24h2v1h-2zM195 24h1v1h-1zM4 25h1v1h-1zM15 25h1v1h-1zM43 25h1v1h-1zM46 25h2v1h-2zM57 25h1v1h-1zM60 25h1v1h-1zM66 25h1v1h-1zM70 25h3v1h-3zM76 25h2v1h-2zM83 25h1v1h-1zM85 25h1v1h-1zM88 25h1v1h-1zM115 25h1v1h-1zM130 25h1v1h-1zM136 25h1v1h-1zM139 25h3v1h-3zM143 25h1v1h-1zM145 25h1v1h-1zM164 25h1v1h-1zM173 25h1v1h-1zM188 25h1v1h-1zM2 26h1v1h-1zM6 26h1v1h-1zM10 26h1v1h-1zM17 26h2v1h-2zM22 26h3v1h-3zM34 26h2v1h-2zM39 26h2v1h-2zM43 26h1v1h-1zM45 26h2v1h-2zM54 26h1v1h-1zM56 26h1v1h-1zM64 26h1v1h-1zM68 26h3v1h-3zM72 26h1v1h-1zM74 26h1v1h-1zM76 26h1v1h-1zM81 26h1v1h-1zM87 26h1v1h-1zM90 26h1v1h-1zM97 26h1v1h-1zM100 26h1v1h-1zM104 26h1v1h-1zM111 26h1v1h-1zM125 26h2v1h-2zM135 26h2v1h-2zM140 26h2v1h-2zM145 26h1v1h-1zM159 26h2v1h-2zM162 26h1v1h-1zM164 26h1v1h-1zM179 26h1v1h-1zM198 26h1v1h-1zM0 27h1v1h-1zM13 27h1v1h-1zM15 27h1v1h-1zM18 27h1v1h-1zM24 27h1v1h-1zM35 27h1v1h-1zM40 27h1v1h-1zM51 27h1v1h-1zM58 27h1v1h-1zM62 27h2v1h-2zM71 27h1v1h-1zM73 27h1v1h-1zM75 27h1v1h-1zM78 27h1v1h-1zM81 27h1v1h-1zM87 27h1v1h-1zM90 27h1v1h-1zM94 27h1v1h-1zM101 27h2v1h-2zM104 27h4v1h-4zM126 27h1v1h-1zM142 27h1v1h-1zM158 27h3v1h-3zM162 27h1v1h-1zM164 27h1v1h-1zM180 27h1v1h-1zM196 27h1v1h-1zM6 28h1v1h-1zM8 28h1v1h-1zM18 28h2v1h-2zM27 28h1v1h-1zM33 28h1v1h-1zM37 28h1v1h-1zM40 28h1v1h-1zM48 28h1v1h-1zM50 28h1v1h-1zM62 28h2v1h-2zM66 28h1v1h-1zM70 28h2v1h-2zM79 28h2v1h-2zM82 28h1v1h-1zM86 28h1v1h-1zM94 28h3v1h-3zM101 28h1v1h-1zM104 28h4v1h-4zM109 28h1v1h-1zM121 28h1v1h-1zM124 28h2v1h-2zM127 28h1v1h-1zM143 28h1v1h-1zM147 28h1v1h-1zM149 28h1v1h-1zM158 28h1v1h-1zM162 28h1v1h-1zM172 28h2v1h-2zM192 28h1v1h-1zM0 29h1v1h-1zM10 29h1v1h-1zM15 29h1v1h-1zM18 29h1v1h-1zM27 29h1v1h-1zM29 29h1v1h-1zM33 29h1v1h-1zM38 29h4v1h-4zM46 29h2v1h-2zM51 29h2v1h-2zM62 29h1v1h-1zM68 29h1v1h-1zM71 29h2v1h-2zM74 29h1v1h-1zM76 29h1v1h-1zM82 29h1v1h-1zM85 29h2v1h-2zM94 29h3v1h-3zM98 29h4v1h-4zM104 29h1v1h-1zM108 29h1v1h-1zM116 29h1v1h-1zM121 29h1v1h-1zM127 29h1v1h-1zM150 29h1v1h-1zM158 29h1v1h-1zM162 29h1v1h-1zM172 29h2v1h-2zM175 29h2v1h-2zM188 29h1v1h-1zM192 29h1v1h-1zM14 30h1v1h-1zM17 30h2v1h-2zM23 30h2v1h-2zM27 30h1v1h-1zM41 30h1v1h-1zM44 30h1v1h-1zM46 30h1v1h-1zM59 30h1v1h-1zM68 30h1v1h-1zM73 30h1v1h-1zM76 30h1v1h-1zM81 30h2v1h-2zM85 30h3v1h-3zM97 30h3v1h-3zM104 30h1v1h-1zM108 30h1v1h-1zM110 30h2v1h-2zM122 30h1v1h-1zM124 30h1v1h-1zM127 30h3v1h-3zM150 30h2v1h-2zM164 30h1v1h-1zM173 30h1v1h-1zM175 30h2v1h-2zM188 30h1v1h-1zM190 30h1v1h-1zM7 31h1v1h-1zM9 31h2v1h-2zM12 31h1v1h-1zM15 31h1v1h-1zM17 31h1v1h-1zM31 31h2v1h-2zM35 31h3v1h-3zM41 31h1v1h-1zM48 31h1v1h-1zM50 31h2v1h-2zM53 31h1v1h-1zM59 31h1v1h-1zM69 31h2v1h-2zM73 31h1v1h-1zM81 31h1v1h-1zM85 31h1v1h-1zM97 31h2v1h-2zM110 31h1v1h-1zM112 31h1v1h-1zM127 31h1v1h-1zM129 31h1v1h-1zM132 31h1v1h-1zM140 31h1v1h-1zM150 31h2v1h-2zM156 31h1v1h-1zM164 31h2v1h-2zM168 31h1v1h-1zM176 31h1v1h-1zM197 31h1v1h-1zM7 32h1v1h-1zM17 32h1v1h-1zM19 32h1v1h-1zM21 32h1v1h-1zM26 32h1v1h-1zM28 32h1v1h-1zM32 32h2v1h-2zM35 32h1v1h-1zM41 32h1v1h-1zM52 32h1v1h-1zM57 32h1v1h-1zM62 32h1v1h-1zM66 32h1v1h-1zM73 32h3v1h-3zM80 32h2v1h-2zM84 32h2v1h-2zM87 32h1v1h-1zM94 32h1v1h-1zM97 32h2v1h-2zM100 32h2v1h-2zM118 32h1v1h-1zM128 32h2v1h-2zM140 32h1v1h-1zM155 32h2v1h-2zM171 32h1v1h-1zM176 32h3v1h-3zM181 32h1v1h-1zM197 32h1v1h-1zM4 33h1v1h-1zM6 33h1v1h-1zM13 33h1v1h-1zM15 33h1v1h-1zM17 33h1v1h-1zM22 33h1v1h-1zM27 33h1v1h-1zM29 33h2v1h-2zM32 33h4v1h-4zM39 33h1v1h-1zM46 33h1v1h-1zM53 33h1v1h-1zM71 33h1v1h-1zM78 33h1v1h-1zM80 33h1v1h-1zM85 33h4v1h-4zM91 33h1v1h-1zM97 33h2v1h-2zM100 33h2v1h-2zM104 33h1v1h-1zM116 33h3v1h-3zM124 33h1v1h-1zM148 33h2v1h-2zM153 33h2v1h-2zM170 33h1v1h-1zM178 33h1v1h-1zM181 33h1v1h-1zM197 33h1v1h-1zM1 34h1v1h-1zM5 34h1v1h-1zM17 34h3v1h-3zM25 34h1v1h-1zM29 34h1v1h-1zM31 34h1v1h-1zM34 34h1v1h-1zM37 34h1v1h-1zM42 34h1v1h-1zM46 34h3v1h-3zM54 34h1v1h-1zM56 34h1v1h-1zM59 34h1v1h-1zM67 34h2v1h-2zM74 34h2v1h-2zM78 34h2v1h-2zM81 34h2v1h-2zM85 34h1v1h-1zM88 34h2v1h-2zM98 34h4v1h-4zM106 34h1v1h-1zM112 34h1v1h-1zM116 34h3v1h-3zM121 34h1v1h-1zM131 34h3v1h-3zM148 34h2v1h-2zM170 34h2v1h-2zM180 34h2v1h-2zM15 35h3v1h-3zM32 35h1v1h-1zM38 35h1v1h-1zM42 35h1v1h-1zM47 35h2v1h-2zM57 35h3v1h-3zM70 35h1v1h-1zM74 35h1v1h-1zM85 35h1v1h-1zM93 35h1v1h-1zM96 35h2v1h-2zM100 35h2v1h-2zM103 35h1v1h-1zM110 35h1v1h-1zM112 35h1v1h-1zM119 35h4v1h-4zM131 35h1v1h-1zM133 35h1v1h-1zM140 35h1v1h-1zM156 35h2v1h-2zM166 35h2v1h-2zM170 35h2v1h-2zM180 35h1v1h-1zM6 36h1v1h-1zM9 36h2v1h-2zM18 36h1v1h-1zM21 36h1v1h-1zM25 36h1v1h-1zM29 36h2v1h-2zM32 36h1v1h-1zM38 36h2v1h-2zM48 36h1v1h-1zM56 36h2v1h-2zM68 36h1v1h-1zM72 36h1v1h-1zM74 36h1v1h-1zM76 36h1v1h-1zM82 36h1v1h-1zM85 36h1v1h-1zM94 36h2v1h-2zM99 36h1v1h-1zM103 36h1v1h-1zM108 36h2v1h-2zM119 36h1v1h-1zM122 36h2v1h-2zM133 36h1v1h-1zM139 36h1v1h-1zM144 36h2v1h-2zM151 36h1v1h-1zM157 36h1v1h-1zM166 36h1v1h-1zM169 36h2v1h-2zM172 36h1v1h-1zM176 36h1v1h-1zM180 36h1v1h-1zM183 36h1v1h-1zM186 36h1v1h-1zM192 36h1v1h-1zM197 36h2v1h-2zM5 37h1v1h-1zM7 37h1v1h-1zM9 37h1v1h-1zM14 37h1v1h-1zM20 37h2v1h-2zM29 37h1v1h-1zM32 37h1v1h-1zM43 37h1v1h-1zM54 37h1v1h-1zM56 37h1v1h-1zM62 37h1v1h-1zM64 37h1v1h-1zM69 37h1v1h-1zM75 37h1v1h-1zM80 37h1v1h-1zM83 37h2v1h-2zM86 37h1v1h-1zM88 37h1v1h-1zM93 37h1v1h-1zM95 37h2v1h-2zM99 37h1v1h-1zM101 37h3v1h-3zM122 37h2v1h-2zM126 37h2v1h-2zM130 37h1v1h-1zM133 37h2v1h-2zM139 37h3v1h-3zM146 37h1v1h-1zM151 37h2v1h-2zM156 37h1v1h-1zM159 37h1v1h-1zM162 37h2v1h-2zM170 37h1v1h-1zM172 37h1v1h-1zM179 37h2v1h-2zM187 37h1v1h-1zM193 37h1v1h-1zM20 38h2v1h-2zM29 38h2v1h-2zM43 38h1v1h-1zM47 38h2v1h-2zM54 38h1v1h-1zM60 38h2v1h-2zM63 38h1v1h-1zM69 38h2v1h-2zM76 38h1v1h-1zM83 38h2v1h-2zM86 38h4v1h-4zM93 38h1v1h-1zM99 38h3v1h-3zM104 38h1v1h-1zM107 38h1v1h-1zM110 38h1v1h-1zM114 38h3v1h-3zM122 38h3v1h-3zM126 38h2v1h-2zM129 38h2v1h-2zM132 38h4v1h-4zM151 38h2v1h-2zM159 38h1v1h-1zM162 38h2v1h-2zM167 38h1v1h-1zM171 38h2v1h-2zM179 38h1v1h-1zM184 38h2v1h-2zM187 38h1v1h-1zM192 38h2v1h-2zM0 39h1v1h-1zM13 39h1v1h-1zM15 39h1v1h-1zM20 39h2v1h-2zM26 39h1v1h-1zM32 39h1v1h-1zM42 39h2v1h-2zM47 39h2v1h-2zM53 39h4v1h-4zM60 39h1v1h-1zM65 39h1v1h-1zM67 39h2v1h-2zM74 39h2v1h-2zM77 39h4v1h-4zM83 39h2v1h-2zM87 39h2v1h-2zM90 39h1v1h-1zM93 39h2v1h-2zM104 39h2v1h-2zM113 39h4v1h-4zM122 39h3v1h-3zM127 39h3v1h-3zM134 39h3v1h-3zM152 39h1v1h-1zM162 39h2v1h-2zM167 39h1v1h-1zM186 39h1v1h-1zM192 39h1v1h-1zM194 39h1v1h-1zM198 39h1v1h-1zM2 40h1v1h-1zM7 40h1v1h-1zM12 40h1v1h-1zM22 40h1v1h-1zM28 40h2v1h-2zM33 40h1v1h-1zM37 40h1v1h-1zM43 40h1v1h-1zM46 40h1v1h-1zM53 40h2v1h-2zM56 40h1v1h-1zM60 40h2v1h-2zM64 40h1v1h-1zM67 40h2v1h-2zM75 40h1v1h-1zM77 40h1v1h-1zM79 40h1v1h-1zM81 40h4v1h-4zM87 40h4v1h-4zM105 40h2v1h-2zM113 40h2v1h-2zM123 40h2v1h-2zM127 40h1v1h-1zM129 40h1v1h-1zM133 40h4v1h-4zM144 40h1v1h-1zM154 40h1v1h-1zM172 40h1v1h-1zM188 40h1v1h-1zM198 40h1v1h-1zM6 41h1v1h-1zM24 41h1v1h-1zM29 41h1v1h-1zM37 41h1v1h-1zM39 41h1v1h-1zM43 41h1v1h-1zM48 41h2v1h-2zM55 41h1v1h-1zM65 41h1v1h-1zM70 41h1v1h-1zM80 41h3v1h-3zM84 41h1v1h-1zM95 41h1v1h-1zM104 41h2v1h-2zM122 41h1v1h-1zM127 41h1v1h-1zM129 41h1v1h-1zM133 41h3v1h-3zM152 41h1v1h-1zM162 41h1v1h-1zM169 41h1v1h-1zM171 41h3v1h-3zM179 41h3v1h-3zM187 41h2v1h-2z"/>
<path fill="#a3ff5c" d="M1 0h1v1h-1zM17 0h1v1h-1zM22 0h1v1h-1zM27 0h2v1h-2zM41 0h1v1h-1zM46 0h1v1h-1zM65 0h1v1h-1zM70 0h1v1h-1zM73 0h1v1h-1zM81 0h1v1h-1zM83 0h1v1h-1zM126 0h1v1h-1zM130 0h1v1h-1zM0 1h2v1h-2zM5 1h1v1h-1zM24 1h1v1h-1zM28 1h1v1h-1zM32 1h1v1h-1zM40 1h1v1h-1zM59 1h2v1h-2zM66 1h2v1h-2zM70 1h1v1h-1zM81 1h1v1h-1zM89 1h1v1h-1zM91 1h1v1h-1zM130 1h1v1h-1zM2 2h1v1h-1zM6 2h1v1h-1zM28 2h1v1h-1zM32 2h2v1h-2zM49 2h1v1h-1zM60 2h1v1h-1zM70 2h1v1h-1zM80 2h2v1h-2zM89 2h3v1h-3zM1 3h2v1h-2zM13 3h1v1h-1zM28 3h1v1h-1zM30 3h1v1h-1zM33 3h2v1h-2zM37 3h1v1h-1zM58 3h1v1h-1zM69 3h2v1h-2zM75 3h1v1h-1zM0 4h1v1h-1zM37 4h1v1h-1zM58 4h3v1h-3zM62 4h1v1h-1zM69 4h1v1h-1zM73 4h1v1h-1zM75 4h2v1h-2zM84 4h1v1h-1zM92 4h1v1h-1zM2 5h1v1h-1zM4 5h1v1h-1zM32 5h2v1h-2zM37 5h1v1h-1zM59 5h1v1h-1zM69 5h1v1h-1zM76 5h1v1h-1zM92 5h1v1h-1zM14 6h1v1h-1zM19 6h1v1h-1zM32 6h1v1h-1zM89 6h1v1h-1zM92 6h2v1h-2zM124 6h1v1h-1zM3 7h1v1h-1zM15 7h1v1h-1zM18 7h1v1h-1zM21 7h2v1h-2zM31 7h2v1h-2zM39 7h1v1h-1zM59 7h2v1h-2zM93 7h1v1h-1zM176 7h1v1h-1zM2 8h1v1h-1zM16 8h1v1h-1zM28 8h1v1h-1zM31 8h2v1h-2zM42 8h1v1h-1zM45 8h1v1h-1zM48 8h1v1h-1zM51 8h2v1h-2zM59 8h1v1h-1zM89 8h1v1h-1zM117 8h1v1h-1zM128 8h1v1h-1zM7 9h1v1h-1zM25 9h1v1h-1zM27 9h1v1h-1zM29 9h1v1h-1zM39 9h1v1h-1zM41 9h2v1h-2zM44 9h2v1h-2zM50 9h3v1h-3zM56 9h4v1h-4zM76 9h1v1h-1zM89 9h1v1h-1zM130 9h1v1h-1zM137 9h1v1h-1zM8 10h1v1h-1zM10 10h1v1h-1zM13 10h1v1h-1zM16 10h2v1h-2zM19 10h1v1h-1zM21 10h1v1h-1zM24 10h1v1h-1zM27 10h1v1h-1zM29 10h1v1h-1zM32 10h1v1h-1zM44 10h2v1h-2zM49 10h1v1h-1zM57 10h1v1h-1zM64 10h1v1h-1zM78 10h1v1h-1zM137 10h1v1h-1zM2 11h1v1h-1zM4 11h1v1h-1zM16 11h1v1h-1zM19 11h1v1h-1zM26 11h1v1h-1zM29 11h1v1h-1zM36 11h1v1h-1zM41 11h1v1h-1zM43 11h1v1h-1zM55 11h2v1h-2zM79 11h1v1h-1zM90 11h1v1h-1zM4 12h1v1h-1zM15 12h2v1h-2zM19 12h1v1h-1zM26 12h1v1h-1zM35 12h1v1h-1zM40 12h1v1h-1zM43 12h1v1h-1zM78 12h1v1h-1zM178 12h1v1h-1zM4 13h1v1h-1zM15 13h1v1h-1zM24 13h1v1h-1zM27 13h1v1h-1zM29 13h1v1h-1zM40 13h1v1h-1zM42 13h1v1h-1zM45 13h1v1h-1zM58 13h1v1h-1zM2 14h1v1h-1zM7 14h3v1h-3zM19 14h1v1h-1zM23 14h2v1h-2zM26 14h1v1h-1zM74 14h1v1h-1zM82 14h1v1h-1zM8 15h2v1h-2zM17 15h1v1h-1zM24 15h1v1h-1zM27 15h1v1h-1zM29 15h1v1h-1zM32 15h1v1h-1zM59 15h1v1h-1zM61 15h1v1h-1zM72 15h2v1h-2zM76 15h1v1h-1zM134 15h1v1h-1zM17 16h2v1h-2zM24 16h1v1h-1zM29 16h1v1h-1zM31 16h1v1h-1zM36 16h1v1h-1zM39 16h1v1h-1zM42 16h1v1h-1zM47 16h1v1h-1zM58 16h1v1h-1zM73 16h1v1h-1zM102 16h1v1h-1zM0 17h1v1h-1zM6 17h2v1h-2zM12 17h1v1h-1zM14 17h1v1h-1zM18 17h1v1h-1zM23 17h1v1h-1zM29 17h1v1h-1zM33 17h1v1h-1zM41 17h1v1h-1zM43 17h1v1h-1zM58 17h3v1h-3zM102 17h2v1h-2zM126 17h1v1h-1zM11 18h2v1h-2zM18 18h1v1h-1zM38 18h1v1h-1zM52 18h1v1h-1zM58 18h1v1h-1zM60 18h1v1h-1zM65 18h1v1h-1zM103 18h1v1h-1zM1 19h1v1h-1zM8 19h1v1h-1zM17 19h2v1h-2zM33 19h1v1h-1zM42 19h1v1h-1zM44 19h1v1h-1zM48 19h1v1h-1zM58 19h2v1h-2zM67 19h2v1h-2zM84 19h1v1h-1zM90 19h1v1h-1zM2 20h1v1h-1zM7 20h1v1h-1zM13 20h1v1h-1zM29 20h2v1h-2zM37 20h1v1h-1zM39 20h1v1h-1zM42 20h1v1h-1zM48 20h1v1h-1zM53 20h1v1h-1zM57 20h1v1h-1zM67 20h1v1h-1zM79 20h1v1h-1zM88 20h1v1h-1zM96 20h1v1h-1zM29 21h1v1h-1zM42 21h1v1h-1zM48 21h1v1h-1zM50 21h1v1h-1zM52 21h3v1h-3zM65 21h1v1h-1zM72 21h1v1h-1zM76 21h1v1h-1zM79 21h1v1h-1zM87 21h1v1h-1zM1 22h1v1h-1zM4 22h1v1h-1zM13 22h1v1h-1zM15 22h1v1h-1zM18 22h2v1h-2zM21 22h1v1h-1zM69 22h1v1h-1zM82 22h2v1h-2zM1 23h1v1h-1zM6 23h2v1h-2zM12 23h1v1h-1zM15 23h1v1h-1zM17 23h1v1h-1zM20 23h1v1h-1zM4 24h1v1h-1zM7 24h1v1h-1zM10 24h2v1h-2zM79 24h1v1h-1zM144 24h1v1h-1zM6 25h1v1h-1zM11 25h1v1h-1zM16 25h1v1h-1zM20 25h1v1h-1zM22 25h1v1h-1zM49 25h1v1h-1zM54 25h1v1h-1zM67 25h3v1h-3zM74 25h1v1h-1zM87 25h1v1h-1zM144 25h1v1h-1zM3 26h1v1h-1zM12 26h1v1h-1zM19 26h3v1h-3zM25 26h1v1h-1zM27 26h1v1h-1zM36 26h1v1h-1zM38 26h1v1h-1zM47 26h1v1h-1zM49 26h1v1h-1zM51 26h1v1h-1zM53 26h1v1h-1zM57 26h2v1h-2zM73 26h1v1h-1zM82 26h1v1h-1zM86 26h1v1h-1zM1 27h1v1h-1zM12 27h1v1h-1zM19 27h1v1h-1zM21 27h2v1h-2zM27 27h1v1h-1zM37 27h1v1h-1zM39 27h1v1h-1zM53 27h1v1h-1zM56 27h1v1h-1zM64 27h1v1h-1zM70 27h1v1h-1zM76 27h2v1h-2zM82 27h1v1h-1zM86 27h1v1h-1zM100 27h1v1h-1zM125 27h1v1h-1zM1 28h1v1h-1zM15 28h1v1h-1zM21 28h2v1h-2zM26 28h1v1h-1zM29 28h1v1h-1zM31 28h2v1h-2zM36 28h1v1h-1zM38 28h1v1h-1zM46 28h1v1h-1zM56 28h1v1h-1zM67 28h1v1h-1zM72 28h2v1h-2zM75 28h4v1h-4zM100 28h1v1h-1zM6 29h1v1h-1zM12 29h1v1h-1zM14 29h1v1h-1zM20 29h1v1h-1zM23 29h2v1h-2zM30 29h1v1h-1zM43 29h2v1h-2zM55 29h1v1h-1zM70 29h1v1h-1zM73 29h1v1h-1zM75 29h1v1h-1zM79 29h2v1h-2zM107 29h1v1h-1zM109 29h1v1h-1zM124 29h1v1h-1zM2 30h1v1h-1zM10 30h1v1h-1zM21 30h1v1h-1zM29 30h1v1h-1zM32 30h1v1h-1zM43 30h1v1h-1zM52 30h1v1h-1zM67 30h1v1h-1zM70 30h1v1h-1zM79 30h2v1h-2zM100 30h2v1h-2zM107 30h1v1h-1zM109 30h1v1h-1zM19 31h2v1h-2zM23 31h2v1h-2zM26 31h1v1h-1zM44 31h1v1h-1zM52 31h1v1h-1zM60 31h1v1h-1zM66 31h1v1h-1zM79 31h2v1h-2zM86 31h1v1h-1zM100 31h2v1h-2zM111 31h1v1h-1zM128 31h1v1h-1zM4 32h2v1h-2zM15 32h1v1h-1zM23 32h1v1h-1zM29 32h2v1h-2zM45 32h1v1h-1zM53 32h1v1h-1zM55 32h1v1h-1zM60 32h1v1h-1zM79 32h1v1h-1zM86 32h1v1h-1zM7 33h1v1h-1zM14 33h1v1h-1zM19 33h1v1h-1zM24 33h3v1h-3zM41 33h1v1h-1zM43 33h1v1h-1zM45 33h1v1h-1zM54 33h1v1h-1zM57 33h1v1h-1zM60 33h1v1h-1zM62 33h1v1h-1zM74 33h2v1h-2zM79 33h1v1h-1zM94 33h1v1h-1zM171 33h1v1h-1zM3 34h1v1h-1zM7 34h1v1h-1zM9 34h1v1h-1zM11 34h1v1h-1zM32 34h2v1h-2zM41 34h1v1h-1zM43 34h1v1h-1zM57 34h2v1h-2zM62 34h1v1h-1zM94 34h1v1h-1zM97 34h1v1h-1zM104 34h1v1h-1zM9 35h1v1h-1zM26 35h1v1h-1zM31 35h1v1h-1zM33 35h2v1h-2zM62 35h2v1h-2zM67 35h3v1h-3zM81 35h2v1h-2zM88 35h1v1h-1zM94 35h1v1h-1zM99 35h1v1h-1zM106 35h1v1h-1zM34 36h2v1h-2zM47 36h1v1h-1zM62 36h1v1h-1zM67 36h1v1h-1zM69 36h1v1h-1zM77 36h1v1h-1zM88 36h1v1h-1zM93 36h1v1h-1zM96 36h1v1h-1zM110 36h1v1h-1zM140 36h1v1h-1zM156 36h1v1h-1zM171 36h1v1h-1zM2 37h3v1h-3zM11 37h1v1h-1zM13 37h1v1h-1zM25 37h1v1h-1zM31 37h1v1h-1zM33 37h2v1h-2zM38 37h2v1h-2zM47 37h2v1h-2zM57 37h1v1h-1zM74 37h1v1h-1zM76 37h1v1h-1zM81 37h1v1h-1zM85 37h1v1h-1zM108 37h3v1h-3zM171 37h1v1h-1zM186 37h1v1h-1zM192 37h1v1h-1zM2 38h1v1h-1zM16 38h1v1h-1zM18 38h1v1h-1zM22 38h1v1h-1zM25 38h3v1h-3zM31 38h1v1h-1zM34 38h1v1h-1zM37 38h2v1h-2zM50 38h1v1h-1zM55 38h2v1h-2zM64 38h1v1h-1zM74 38h2v1h-2zM80 38h1v1h-1zM85 38h1v1h-1zM108 38h2v1h-2zM186 38h1v1h-1zM2 39h1v1h-1zM27 39h4v1h-4zM33 39h1v1h-1zM37 39h1v1h-1zM49 39h1v1h-1zM57 39h2v1h-2zM64 39h1v1h-1zM69 39h1v1h-1zM85 39h1v1h-1zM107 39h1v1h-1zM8 40h1v1h-1zM16 40h1v1h-1zM21 40h1v1h-1zM25 40h1v1h-1zM27 40h1v1h-1zM42 40h1v1h-1zM44 40h2v1h-2zM49 40h1v1h-1zM52 40h1v1h-1zM57 40h1v1h-1zM59 40h1v1h-1zM65 40h1v1h-1zM85 40h1v1h-1zM104 40h1v1h-1zM107 40h1v1h-1zM128 40h1v1h-1zM18 41h1v1h-1zM21 41h1v1h-1zM25 41h1v1h-1zM38 41h1v1h-1zM46 41h1v1h-1zM53 41h2v1h-2zM56 41h1v1h-1zM61 41h1v1h-1zM68 41h2v1h-2zM87 41h3v1h-3zM106 41h2v1h-2zM128 41h1v1h-1zM154 41h1v1h-1z"/>
<path fill="#afff50" d="M16 0h1v1h-1zM21 0h1v1h-1zM23 0h1v1h-1zM30 0h2v1h-2zM59 0h1v1h-1zM66 0h1v1h-1zM86 0h1v1h-1zM4 1h1v1h-1zM9 1h1v1h-1zM16 1h1v1h-1zM3 2h1v1h-1zM5 2h1v1h-1zM16 2h2v1h-2zM17 3h1v1h-1zM29 3h1v1h-1zM60 3h1v1h-1zM1 4h1v1h-1zM6 4h1v1h-1zM12 4h1v1h-1zM17 4h1v1h-1zM32 4h1v1h-1zM15 5h1v1h-1zM18 5h1v1h-1zM62 5h1v1h-1zM0 6h1v1h-1zM5 6h1v1h-1zM13 6h1v1h-1zM18 6h1v1h-1zM20 6h1v1h-1zM33 6h1v1h-1zM59 6h1v1h-1zM0 7h1v1h-1zM5 7h1v1h-1zM7 7h1v1h-1zM16 7h1v1h-1zM33 7h1v1h-1zM41 7h1v1h-1zM89 7h1v1h-1zM4 8h1v1h-1zM17 8h1v1h-1zM21 8h2v1h-2zM25 8h1v1h-1zM39 8h1v1h-1zM41 8h1v1h-1zM50 8h1v1h-1zM3 9h3v1h-3zM14 9h1v1h-1zM17 9h1v1h-1zM24 9h1v1h-1zM32 9h1v1h-1zM3 10h2v1h-2zM6 10h1v1h-1zM35 10h1v1h-1zM56 10h1v1h-1zM89 10h1v1h-1zM3 11h1v1h-1zM31 11h1v1h-1zM35 11h1v1h-1zM49 11h1v1h-1zM78 11h1v1h-1zM3 12h1v1h-1zM9 12h1v1h-1zM25 12h1v1h-1zM29 12h3v1h-3zM41 12h2v1h-2zM46 12h1v1h-1zM49 12h1v1h-1zM25 13h1v1h-1zM31 13h1v1h-1zM29 14h1v1h-1zM32 14h1v1h-1zM45 14h1v1h-1zM83 14h1v1h-1zM7 15h1v1h-1zM36 15h1v1h-1zM46 15h1v1h-1zM9 16h1v1h-1zM4 17h1v1h-1zM42 17h1v1h-1zM47 17h1v1h-1zM0 18h1v1h-1zM8 18h1v1h-1zM41 18h3v1h-3zM59 18h1v1h-1zM2 19h1v1h-1zM41 19h1v1h-1zM43 19h1v1h-1zM1 20h1v1h-1zM3 20h2v1h-2zM52 20h1v1h-1zM1 21h1v1h-1zM13 21h2v1h-2zM23 21h1v1h-1zM37 21h1v1h-1zM43 21h1v1h-1zM88 21h1v1h-1zM10 22h1v1h-1zM41 22h3v1h-3zM50 22h1v1h-1zM57 22h1v1h-1zM72 22h1v1h-1zM79 22h1v1h-1zM89 22h1v1h-1zM105 22h1v1h-1zM8 23h1v1h-1zM10 23h1v1h-1zM18 23h1v1h-1zM81 23h1v1h-1zM90 23h1v1h-1zM105 23h1v1h-1zM6 24h1v1h-1zM8 24h2v1h-2zM15 24h3v1h-3zM21 24h1v1h-1zM64 24h1v1h-1zM72 24h1v1h-1zM89 24h1v1h-1zM3 25h1v1h-1zM5 25h1v1h-1zM10 25h1v1h-1zM13 25h1v1h-1zM17 25h1v1h-1zM39 25h1v1h-1zM48 25h1v1h-1zM50 25h1v1h-1zM58 25h2v1h-2zM73 25h1v1h-1zM82 25h1v1h-1zM86 25h1v1h-1zM4 26h2v1h-2zM26 26h1v1h-1zM42 26h1v1h-1zM48 26h1v1h-1zM50 26h1v1h-1zM3 27h1v1h-1zM5 27h1v1h-1zM23 27h1v1h-1zM25 27h2v1h-2zM36 27h1v1h-1zM38 27h1v1h-1zM46 27h1v1h-1zM48 27h1v1h-1zM50 27h1v1h-1zM72 27h1v1h-1zM5 28h1v1h-1zM12 28h1v1h-1zM23 28h2v1h-2zM39 28h1v1h-1zM47 28h1v1h-1zM57 28h1v1h-1zM1 29h1v1h-1zM5 29h1v1h-1zM19 29h1v1h-1zM21 29h2v1h-2zM67 29h1v1h-1zM0 30h1v1h-1zM5 30h1v1h-1zM20 30h1v1h-1zM22 30h1v1h-1zM28 30h1v1h-1zM30 30h1v1h-1zM51 30h1v1h-1zM55 30h1v1h-1zM2 31h1v1h-1zM4 31h2v1h-2zM18 31h1v1h-1zM21 31h1v1h-1zM30 31h1v1h-1zM54 31h2v1h-2zM9 32h1v1h-1zM18 32h1v1h-1zM22 32h1v1h-1zM24 32h2v1h-2zM54 32h1v1h-1zM1 33h1v1h-1zM3 33h1v1h-1zM5 33h1v1h-1zM9 33h1v1h-1zM18 33h1v1h-1zM12 34h1v1h-1zM26 34h1v1h-1zM30 34h1v1h-1zM44 34h1v1h-1zM15 36h2v1h-2zM31 36h1v1h-1zM33 36h1v1h-1zM55 36h1v1h-1zM58 36h1v1h-1zM63 36h1v1h-1zM70 36h1v1h-1zM81 36h1v1h-1zM15 37h2v1h-2zM18 37h1v1h-1zM36 37h1v1h-1zM55 37h1v1h-1zM63 37h1v1h-1zM70 37h1v1h-1zM5 38h1v1h-1zM14 38h2v1h-2zM33 38h1v1h-1zM35 38h1v1h-1zM57 38h2v1h-2zM14 39h1v1h-1zM22 39h1v1h-1zM31 39h1v1h-1zM1 40h1v1h-1zM3 40h2v1h-2zM11 40h1v1h-1zM13 40h1v1h-1zM26 40h1v1h-1zM30 40h1v1h-1zM36 40h1v1h-1zM58 40h1v1h-1zM69 40h1v1h-1zM20 41h1v1h-1zM27 41h1v1h-1zM30 41h1v1h-1zM42 41h1v1h-1zM44 41h2v1h-2zM52 41h1v1h-1zM58 41h2v1h-2zM85 41h1v1h-1z"/>
<path fill="#bbff44" d="M0 0h1v1h-1zM11 0h2v1h-2zM32 0h1v1h-1zM67 0h1v1h-1zM11 1h2v1h-2zM33 1h1v1h-1zM6 3h1v1h-1zM32 3h1v1h-1zM5 4h1v1h-1zM1 5h1v1h-1zM17 5h1v1h-1zM20 5h1v1h-1zM7 6h1v1h-1zM12 6h1v1h-1zM15 6h2v1h-2zM17 7h1v1h-1zM2 9h1v1h-1zM16 9h1v1h-1zM21 9h1v1h-1zM30 9h2v1h-2zM7 10h1v1h-1zM14 10h1v1h-1zM30 10h2v1h-2zM6 11h1v1h-1zM14 11h1v1h-1zM30 11h1v1h-1zM6 12h1v1h-1zM7 13h1v1h-1zM19 13h1v1h-1zM46 13h1v1h-1zM27 14h1v1h-1zM39 14h1v1h-1zM46 14h1v1h-1zM39 15h1v1h-1zM83 15h1v1h-1zM7 16h2v1h-2zM10 17h1v1h-1zM14 18h1v1h-1zM33 18h1v1h-1zM4 19h1v1h-1zM9 19h1v1h-1zM14 19h1v1h-1zM52 19h1v1h-1zM43 20h1v1h-1zM30 21h1v1h-1zM39 21h1v1h-1zM9 22h1v1h-1zM49 22h1v1h-1zM62 22h1v1h-1zM73 22h1v1h-1zM4 23h1v1h-1zM79 23h2v1h-2zM83 23h1v1h-1zM14 24h1v1h-1zM22 24h1v1h-1zM57 24h1v1h-1zM62 24h2v1h-2zM70 24h2v1h-2zM82 24h2v1h-2zM23 25h1v1h-1zM38 25h1v1h-1zM40 25h3v1h-3zM51 25h2v1h-2zM13 26h2v1h-2zM47 27h1v1h-1zM57 27h1v1h-1zM3 28h1v1h-1zM25 28h1v1h-1zM2 29h2v1h-2zM31 29h2v1h-2zM19 30h1v1h-1zM31 30h1v1h-1zM8 31h1v1h-1zM22 31h1v1h-1zM28 31h2v1h-2zM3 32h1v1h-1zM8 32h1v1h-1zM2 33h1v1h-1zM8 33h1v1h-1zM12 33h1v1h-1zM10 34h1v1h-1zM11 35h2v1h-2zM30 35h1v1h-1zM2 36h1v1h-1zM11 36h1v1h-1zM17 36h1v1h-1zM8 37h1v1h-1zM12 37h1v1h-1zM35 37h1v1h-1zM3 38h1v1h-1zM6 38h1v1h-1zM8 38h1v1h-1zM23 38h1v1h-1zM5 39h1v1h-1zM16 39h1v1h-1zM36 39h1v1h-1zM14 40h1v1h-1zM17 40h1v1h-1zM20 40h1v1h-1zM23 40h1v1h-1zM31 40h1v1h-1zM23 41h1v1h-1zM31 41h1v1h-1zM57 41h1v1h-1z"/>
<path fill="#c7ff38" d="M4 0h1v1h-1zM13 4h2v1h-2zM12 5h1v1h-1zM14 5h1v1h-1zM3 6h1v1h-1zM1 7h1v1h-1zM5 8h1v1h-1zM2 10h1v1h-1zM8 11h1v1h-1zM9 13h1v1h-1zM31 14h1v1h-1zM31 15h1v1h-1zM8 17h2v1h-2zM10 18h1v1h-1zM2 21h1v1h-1zM2 22h1v1h-1zM63 22h2v1h-2zM78 22h1v1h-1zM84 22h1v1h-1zM5 23h1v1h-1zM21 23h2v1h-2zM70 23h3v1h-3zM82 23h1v1h-1zM5 24h1v1h-1zM12 24h1v1h-1zM55 24h2v1h-2zM78 24h1v1h-1zM0 25h1v1h-1zM12 25h1v1h-1zM14 25h1v1h-1zM37 25h1v1h-1zM53 25h1v1h-1zM2 27h1v1h-1zM4 28h1v1h-1zM4 29h1v1h-1zM8 29h1v1h-1zM25 29h2v1h-2zM3 30h1v1h-1zM26 30h1v1h-1zM0 31h1v1h-1zM25 31h1v1h-1zM2 32h1v1h-1zM12 32h1v1h-1zM44 32h1v1h-1zM13 34h1v1h-1zM10 35h1v1h-1zM14 36h1v1h-1zM58 37h1v1h-1zM4 38h1v1h-1zM36 38h1v1h-1zM17 39h2v1h-2zM23 39h1v1h-1zM0 40h1v1h-1zM7 41h2v1h-2zM12 41h1v1h-1zM14 41h1v1h-1z"/>
<path fill="#d3ff2c" d="M3 0h1v1h-1zM9 0h1v1h-1zM33 0h1v1h-1zM3 1h1v1h-1zM3 5h1v1h-1zM5 5h1v1h-1zM1 6h1v1h-1zM6 6h1v1h-1zM17 6h1v1h-1zM6 9h1v1h-1zM8 13h1v1h-1zM4 18h1v1h-1zM40 22h1v1h-1zM61 22h1v1h-1zM9 23h1v1h-1zM14 23h1v1h-1zM64 23h1v1h-1zM69 23h1v1h-1zM1 24h1v1h-1zM45 24h1v1h-1zM69 24h1v1h-1zM73 24h1v1h-1zM84 24h1v1h-1zM88 24h1v1h-1zM0 26h1v1h-1zM4 27h1v1h-1zM2 28h1v1h-1zM1 30h1v1h-1zM4 30h1v1h-1zM8 30h1v1h-1zM25 30h1v1h-1zM3 31h1v1h-1zM1 32h1v1h-1zM44 33h1v1h-1zM14 34h1v1h-1zM12 36h2v1h-2zM17 38h1v1h-1zM3 39h1v1h-1zM18 40h1v1h-1zM11 41h1v1h-1zM13 41h1v1h-1zM26 41h1v1h-1z"/>
<path fill="#dfff20" d="M13 5h1v1h-1zM9 18h1v1h-1zM14 22h1v1h-1zM46 22h1v1h-1zM65 22h1v1h-1zM88 22h1v1h-1zM57 23h1v1h-1zM62 23h2v1h-2zM73 23h1v1h-1zM44 24h1v1h-1zM65 24h1v1h-1zM24 25h1v1h-1zM1 31h1v1h-1zM0 32h1v1h-1zM2 34h1v1h-1zM0 35h1v1h-1zM2 35h1v1h-1zM13 35h1v1h-1zM6 37h1v1h-1zM4 39h1v1h-1z"/>
<path fill="#ebff14" d="M7 11h1v1h-1zM8 12h1v1h-1zM3 19h1v1h-1zM23 22h1v1h-1zM39 22h1v1h-1zM47 22h1v1h-1zM58 22h1v1h-1zM56 23h1v1h-1zM78 23h1v1h-1zM61 24h1v1h-1zM14 35h1v1h-1zM17 37h1v1h-1zM5 40h1v1h-1z"/>
<path fill="#f7ff08" d="M6 8h1v1h-1zM7 12h1v1h-1zM3 17h1v1h-1zM48 22h1v1h-1zM51 22h1v1h-1zM54 22h1v1h-1zM68 22h1v1h-1zM74 22h1v1h-1zM77 22h1v1h-1zM45 23h1v1h-1zM55 23h1v1h-1zM84 23h1v1h-1zM89 23h1v1h-1zM50 24h1v1h-1zM87 24h1v1h-1zM25 25h1v1h-1zM1 26h1v1h-1zM5 41h1v1h-1z"/>
<path fill="#fffc00" d="M6 7h1v1h-1zM38 22h1v1h-1zM44 23h1v1h-1zM61 23h1v1h-1zM65 23h1v1h-1zM43 24h1v1h-1zM49 24h1v1h-1zM74 24h1v1h-1zM77 24h1v1h-1zM32 25h1v1h-1zM35 25h1v1h-1z"/>
<path fill="#fff000" d="M87 22h1v1h-1zM23 24h1v1h-1zM58 24h1v1h-1zM68 24h1v1h-1zM75 24h1v1h-1zM1 25h1v1h-1zM28 25h1v1h-1zM31 25h1v1h-1zM33 25h1v1h-1zM36 25h1v1h-1z"/>
<path fill="#ffe400" d="M3 18h1v1h-1zM66 22h2v1h-2zM75 22h2v1h-2zM23 23h1v1h-1zM50 23h1v1h-1zM88 23h1v1h-1zM66 24h1v1h-1zM76 24h1v1h-1zM26 25h1v1h-1zM29 25h1v1h-1zM34 25h1v1h-1zM0 33h1v1h-1z"/>
<path fill="#ffd800" d="M59 22h1v1h-1zM85 22h2v1h-2zM42 23h2v1h-2zM49 23h1v1h-1zM77 23h1v1h-1zM38 24h1v1h-1zM54 24h1v1h-1zM27 25h1v1h-1z"/>
<path fill="#ffcc00" d="M25 22h1v1h-1zM60 22h1v1h-1zM38 23h1v1h-1zM58 23h1v1h-1zM68 23h1v1h-1zM74 23h1v1h-1zM39 24h1v1h-1zM42 24h1v1h-1zM67 24h1v1h-1zM85 24h1v1h-1zM30 25h1v1h-1zM0 34h1v1h-1z"/>
<path fill="#ffc000" d="M24 22h1v1h-1zM52 22h1v1h-1zM39 23h1v1h-1zM87 23h1v1h-1zM46 24h1v1h-1zM86 24h1v1h-1z"/>
<path fill="#ffb400" d="M53 22h1v1h-1z"/>
<path fill="#ffa800" d="M54 23h1v1h-1zM75 23h2v1h-2zM40 24h1v1h-1z"/>
<path fill="#ff9c00" d="M40 23h1v1h-1zM66 23h1v1h-1zM60 24h1v1h-1z"/>
<path fill="#ff9100" d="M41 23h1v1h-1zM46 23h1v1h-1zM67 23h1v1h-1zM41 24h1v1h-1zM47 24h2v1h-2z"/>
<path fill="#ff8500" d="M37 22h1v1h-1zM85 23h2v1h-2zM59 24h1v1h-1z"/>
<path fill="#ff7900" d="M36 22h1v1h-1zM24 24h1v1h-1zM37 24h1v1h-1zM51 24h1v1h-1z"/>
<path fill="#ff6d00" d="M26 22h1v1h-1zM48 23h1v1h-1z"/>
<path fill="#ff6100" d="M27 22h1v1h-1zM34 22h2v1h-2zM24 23h1v1h-1zM47 23h1v1h-1zM60 23h1v1h-1z"/>
<path fill="#ff5500" d="M51 23h1v1h-1z"/>
<path fill="#ff4900" d="M37 23h1v1h-1zM59 23h1v1h-1z"/>
<path fill="#ff3d00" d="M28 22h1v1h-1zM32 22h1v1h-1zM52 24h2v1h-2z"/>
<path fill="#ff3100" d="M29 22h1v1h-1zM31 22h1v1h-1zM33 22h1v1h-1zM25 23h1v1h-1zM25 24h1v1h-1z"/>
<path fill="#ff2500" d="M36 23h1v1h-1zM36 24h1v1h-1z"/>
<path fill="#ff1a00" d="M30 22h1v1h-1z"/>
<path fill="#ff0e00" d="M52 23h1v1h-1z"/>
<path fill="#ff0200" d="M53 23h1v1h-1z"/>
<path fill="#f50000" d="M35 24h1v1h-1z"/>
<path fill="#e90000" d="M35 23h1v1h-1z"/>
<path fill="#dd0000" d="M26 24h1v1h-1z"/>
<path fill="#c50000" d="M26 23h1v1h-1zM34 23h1v1h-1zM34 24h1v1h-1z"/>
<path fill="#ad0000" d="M27 23h1v1h-1zM27 24h1v1h-1z"/>
<path fill="#960000" d="M28 24h1v1h-1z"/>
<path fill="#8a0000" d="M28 23h1v1h-1zM33 24h1v1h-1z"/>
<path fill="#800000" d="M29 23h5v1h-5zM29 24h4v1h-4z"/>
</g></g></g>
<rect x="883.7" y="79.0" width="3" height="203.0" fill="#f4fff0" stroke="none"/>
<g clip-path="url(#cC)" fill="none" stroke-width="3.8" stroke-linejoin="round" stroke-linecap="round">
<path stroke="#0000ff" d="M100.2 610.7C101.1 609.8 103.8 607.0 105.5 605.5C107.2 604.0 108.5 602.7 110.7 601.6C112.9 600.5 116.1 599.9 118.5 599.0C120.9 598.1 123.3 596.5 125.1 596.3C126.8 596.1 127.6 595.9 129.0 597.6C130.4 599.4 132.4 606.6 133.7 606.8C135.0 607.0 135.4 601.6 136.8 599.0C138.2 596.4 140.3 592.1 142.1 591.1C143.8 590.1 145.4 591.4 147.3 592.9C149.2 594.4 151.6 599.5 153.8 600.3C156.0 601.1 158.2 598.5 160.4 597.6C162.6 596.7 165.2 595.0 166.9 595.0C168.6 595.0 169.3 595.9 170.8 597.6C172.3 599.3 174.2 604.1 176.0 605.0C177.8 605.9 179.8 602.4 181.3 602.9C182.8 603.4 183.9 604.6 185.2 608.1C186.5 611.6 187.8 618.1 189.1 623.8C190.4 629.5 191.8 637.5 193.0 642.1C194.2 646.7 195.3 651.6 196.4 651.2C197.5 650.8 198.2 644.3 199.6 639.5C201.0 634.7 203.1 624.7 204.8 622.5C206.5 620.3 208.5 625.1 210.0 626.4C211.5 627.7 212.7 629.9 214.0 630.3C215.3 630.7 216.6 627.9 217.9 629.0C219.2 630.1 220.6 634.6 221.8 636.9C223.0 639.2 224.1 642.6 225.2 642.6C226.3 642.6 227.1 639.4 228.3 636.9C229.5 634.4 231.2 629.5 232.3 627.7C233.4 625.9 233.8 625.2 234.9 625.9C236.0 626.5 237.5 631.0 238.8 631.6C240.1 632.2 241.7 629.9 242.7 629.5C243.7 629.1 244.0 630.0 245.0 629.0C246.0 628.0 247.6 626.2 248.9 623.8C250.2 621.4 251.7 616.9 252.8 614.6C253.9 612.3 254.4 610.9 255.5 610.2C256.6 609.6 258.1 610.8 259.4 610.7C260.7 610.6 262.0 610.5 263.3 609.4C264.6 608.3 266.0 605.4 267.2 604.2C268.4 603.0 269.5 602.0 270.6 602.4C271.7 602.8 272.6 604.3 273.8 606.8C275.0 609.3 276.4 614.4 277.7 617.3C279.0 620.2 280.5 623.2 281.6 624.3C282.7 625.4 283.1 625.2 284.2 623.8C285.3 622.4 286.8 617.7 288.1 615.9C289.4 614.1 290.8 612.8 292.1 612.8C293.4 612.8 294.7 613.8 296.0 615.9C297.3 618.0 298.6 621.8 299.9 625.1C301.2 628.4 302.6 633.0 303.8 635.6C305.0 638.2 306.1 640.6 307.2 640.8C308.3 641.0 309.2 639.9 310.4 636.9C311.6 633.9 313.0 627.3 314.3 622.5C315.6 617.7 316.9 611.9 318.2 608.1C319.5 604.3 320.8 601.2 322.1 599.7C323.4 598.2 324.7 598.0 326.0 599.0C327.3 600.0 328.7 603.1 330.0 605.5C331.3 607.9 332.8 612.1 333.9 613.3C335.0 614.5 335.4 614.3 336.5 612.8C337.6 611.3 339.1 607.0 340.4 604.2C341.7 601.5 343.0 598.3 344.3 596.3C345.6 594.2 347.2 592.7 348.3 591.9C349.4 591.1 349.8 590.9 350.9 591.6C352.0 592.3 353.5 594.5 354.8 596.3C356.1 598.1 357.4 600.9 358.7 602.4C360.0 603.9 361.3 604.0 362.6 605.0C363.9 606.0 365.3 607.8 366.6 608.1C367.9 608.4 369.2 608.3 370.5 606.8C371.8 605.3 373.1 601.6 374.4 599.0C375.7 596.4 377.0 593.0 378.3 591.1C379.6 589.2 381.2 588.4 382.3 587.7C383.4 587.0 383.8 586.4 384.9 586.7C386.0 587.1 387.5 588.4 388.8 589.8C390.1 591.2 391.4 593.9 392.7 595.0C394.0 596.1 395.4 596.1 396.6 596.3C397.9 596.5 398.7 596.7 400.2 596.3C401.7 595.9 403.5 594.8 405.5 593.7C407.5 592.6 410.1 590.0 412.0 589.8C413.9 589.6 415.2 591.9 417.2 592.4C419.2 592.9 421.8 592.2 423.8 592.9C425.8 593.5 427.3 594.6 429.0 596.3C430.7 598.0 432.5 600.9 434.2 602.9C435.9 604.9 438.0 607.0 439.4 608.1C440.8 609.2 441.3 609.8 442.6 609.4C443.9 609.0 445.9 607.5 447.3 605.5C448.7 603.5 449.9 599.5 451.2 597.6C452.5 595.7 453.6 595.1 455.1 594.2C456.6 593.3 458.6 593.1 460.4 592.4C462.1 591.7 463.9 590.4 465.6 589.8C467.3 589.1 469.1 588.9 470.8 588.5C472.5 588.1 474.5 587.5 476.0 587.7C477.5 587.9 478.7 589.1 480.0 589.8C481.3 590.5 482.6 591.7 483.9 591.9C485.2 592.1 486.3 591.8 487.8 591.1C489.3 590.4 491.0 588.6 493.0 587.7C495.0 586.8 497.2 586.1 499.6 585.9C502.0 585.7 504.8 586.5 507.4 586.7C510.0 586.9 512.7 586.7 515.3 587.2C517.9 587.7 520.9 588.5 523.1 589.8C525.3 591.1 526.5 593.2 528.3 595.0C530.0 596.8 531.9 599.0 533.6 600.8C535.4 602.5 537.1 605.1 538.8 605.5C540.5 605.9 543.0 603.8 544.0 603.4C545.0 603.0 544.3 603.6 545.0 603.4C545.7 603.1 547.1 602.4 548.1 601.9C549.1 601.4 550.3 601.2 551.2 600.3C552.1 599.4 552.6 597.7 553.6 596.4C554.6 595.1 556.1 593.7 557.5 592.5C558.9 591.3 560.4 590.2 562.2 589.4C564.0 588.6 566.3 588.1 568.4 587.8C570.5 587.5 572.6 587.5 574.7 587.5C576.8 587.5 579.1 587.7 580.9 588.1C582.7 588.5 584.0 589.5 585.6 589.7C587.2 589.9 588.7 589.2 590.3 589.1C591.9 589.0 593.4 589.0 595.0 589.4C596.6 589.8 597.9 591.1 599.7 591.7C601.5 592.4 603.8 592.9 605.9 593.3C608.0 593.7 610.4 594.2 612.2 594.1C614.0 594.0 615.3 593.3 616.9 592.5C618.5 591.7 620.3 590.1 621.6 589.1C622.9 588.1 623.4 587.0 624.7 586.6C626.0 586.2 627.6 586.8 629.4 587.0C631.2 587.2 633.5 587.4 635.6 587.8C637.7 588.1 640.1 588.9 641.9 589.1C643.7 589.3 645.0 589.5 646.6 589.1C648.2 588.8 649.9 587.4 651.2 587.0C652.5 586.6 653.4 586.4 654.4 586.6C655.4 586.8 656.2 587.6 657.5 588.1C658.8 588.6 660.4 589.2 662.2 589.4C664.0 589.6 666.6 589.5 668.4 589.1C670.2 588.7 671.3 587.4 673.1 587.0C674.9 586.6 677.6 587.1 679.4 587.0C681.2 586.9 682.5 586.6 684.1 586.2C685.7 585.8 687.0 584.9 688.8 584.4C690.6 583.9 692.3 583.2 695.0 583.1C697.7 583.0 701.5 583.4 704.8 583.7C708.0 584.0 711.6 584.4 714.5 584.7C717.4 585.0 719.7 585.7 722.3 585.7C724.9 585.7 727.6 585.3 730.2 584.7C732.8 584.1 735.6 583.0 738.0 582.3C740.4 581.6 742.8 580.4 744.8 580.4C746.8 580.4 747.6 581.8 749.7 582.3C751.8 582.8 754.2 583.3 757.5 583.7C760.8 584.1 766.0 584.3 769.2 584.7C772.5 585.1 775.0 585.9 777.0 586.2C779.0 586.5 779.3 586.9 780.9 586.6C782.5 586.4 784.5 585.0 786.8 584.7C789.1 584.5 792.0 584.9 794.6 585.1C797.2 585.4 799.8 586.1 802.4 586.2C805.0 586.3 807.9 586.0 810.2 585.7C812.5 585.4 813.8 584.3 816.1 584.3C818.4 584.3 821.3 585.4 823.9 585.7C826.5 586.0 829.1 586.2 831.7 586.1C834.3 586.0 836.9 585.5 839.5 585.3C842.1 585.1 845.0 585.1 847.3 584.7C849.6 584.3 850.9 583.4 853.2 583.1C855.5 582.8 858.1 583.0 861.0 583.1C863.9 583.2 867.5 583.6 870.8 583.7C874.0 583.8 877.7 583.7 880.5 583.7C883.3 583.7 886.2 583.7 887.4 583.7"/>
<path stroke="#ff0000" d="M100.2 570.2C101.1 570.0 104.0 568.0 105.5 568.9C107.0 569.8 107.9 573.8 109.4 575.4C110.9 577.0 112.9 577.7 114.6 578.8C116.3 579.9 118.3 582.4 119.8 582.0C121.3 581.6 122.5 577.2 123.8 576.7C125.1 576.2 126.4 577.7 127.7 578.8C129.0 579.9 130.1 582.6 131.6 583.3C133.1 583.9 135.1 583.1 136.8 582.7C138.6 582.3 140.3 581.5 142.1 580.7C143.8 579.9 145.8 578.1 147.3 578.0C148.8 577.9 149.5 579.4 151.2 580.1C152.9 580.8 155.3 581.8 157.7 582.0C160.1 582.2 163.0 581.6 165.6 581.4C168.2 581.2 170.8 580.9 173.4 580.7C176.0 580.5 179.3 581.2 181.3 580.1C183.3 579.0 183.9 578.2 185.2 574.1C186.5 570.0 187.8 561.9 189.1 555.8C190.4 549.7 191.7 541.6 193.0 537.5C194.3 533.4 195.9 531.4 197.0 531.0C198.1 530.6 198.7 532.9 199.6 534.9C200.5 536.9 201.1 543.1 202.2 542.7C203.3 542.3 204.8 537.9 206.1 532.3C207.4 526.6 208.9 513.5 210.0 508.8C211.1 504.1 211.7 504.1 212.6 504.1C213.5 504.1 214.4 506.1 215.3 508.8C216.2 511.5 217.0 519.2 217.9 520.5C218.8 521.8 219.6 519.4 220.5 516.6C221.4 513.8 222.2 507.6 223.1 503.5C224.0 499.4 224.9 494.0 225.7 491.8C226.5 489.6 227.2 489.9 227.8 490.5C228.5 491.1 228.8 491.3 229.6 495.7C230.3 500.1 231.4 510.5 232.3 516.6C233.2 522.7 233.9 527.5 234.9 532.3C235.9 537.1 237.2 544.3 238.3 545.4C239.4 546.5 240.5 540.5 241.4 538.8C242.3 537.1 243.1 535.2 244.0 535.4C244.9 535.6 245.5 536.3 246.6 540.1C247.7 543.9 249.8 554.0 250.6 558.4C251.4 562.8 250.9 564.5 251.5 566.3C252.1 568.0 253.1 569.8 254.2 568.9C255.3 568.0 256.9 563.0 258.1 561.0C259.3 559.0 260.1 557.3 261.2 557.1C262.3 556.9 263.4 558.2 264.6 559.7C265.8 561.2 267.2 564.2 268.5 566.3C269.8 568.3 271.4 571.4 272.5 572.0C273.6 572.6 274.0 571.8 275.1 570.2C276.2 568.6 277.7 565.0 279.0 562.4C280.3 559.8 281.6 556.4 282.9 554.5C284.2 552.6 285.7 551.1 286.8 551.1C287.9 551.1 288.4 553.1 289.4 554.5C290.4 555.9 291.5 559.9 292.6 559.7C293.7 559.5 294.8 555.8 296.0 553.2C297.2 550.6 298.6 546.3 299.9 544.1C301.2 541.9 302.6 540.9 303.8 540.1C305.0 539.4 306.1 538.3 307.2 539.6C308.3 540.9 309.2 544.0 310.4 548.0C311.6 552.0 313.0 559.4 314.3 563.7C315.6 568.1 317.1 572.2 318.2 574.1C319.3 576.0 319.7 576.0 320.8 575.4C321.9 574.8 323.4 572.4 324.7 570.2C326.0 568.0 327.4 564.6 328.7 562.4C330.0 560.2 331.5 557.9 332.6 557.1C333.7 556.3 334.1 556.3 335.2 557.6C336.3 558.9 337.8 562.7 339.1 565.0C340.4 567.3 341.5 569.9 343.0 571.5C344.5 573.1 346.6 573.5 348.3 574.6C350.1 575.7 352.0 577.9 353.5 578.0C355.0 578.1 356.1 577.4 357.4 575.4C358.7 573.4 360.0 568.9 361.3 566.3C362.6 563.7 364.2 560.6 365.3 559.7C366.4 558.8 366.8 559.5 367.9 561.0C369.0 562.5 370.5 566.5 371.8 568.9C373.1 571.3 374.4 573.7 375.7 575.4C377.0 577.1 378.3 578.7 379.6 579.3C380.9 579.9 382.3 579.7 383.6 578.8C384.9 577.9 386.2 575.8 387.5 574.1C388.8 572.5 390.1 570.4 391.4 568.9C392.7 567.4 394.0 565.2 395.3 565.0C396.6 564.8 397.9 566.6 399.2 567.6C400.4 568.6 401.5 570.6 402.8 571.0C404.1 571.4 405.5 569.5 406.8 570.2C408.1 570.9 409.2 573.5 410.7 575.4C412.2 577.3 414.2 579.6 415.9 581.4C417.6 583.1 419.6 585.1 421.1 585.9C422.6 586.6 423.8 587.4 425.1 585.9C426.4 584.4 427.5 579.8 429.0 576.7C430.5 573.7 432.7 569.8 434.2 567.6C435.7 565.4 436.8 563.5 438.1 563.7C439.4 563.9 440.6 566.7 442.1 568.9C443.6 571.1 445.6 574.8 447.3 576.7C449.0 578.6 450.3 579.4 452.5 580.1C454.7 580.8 457.8 580.0 460.4 580.7C463.0 581.5 466.0 584.0 468.2 584.6C470.4 585.2 471.6 585.2 473.4 584.6C475.1 584.0 476.5 581.0 478.7 580.7C480.9 580.4 483.9 582.3 486.5 582.7C489.1 583.1 492.1 582.5 494.3 583.3C496.5 584.0 497.9 587.0 499.6 587.2C501.4 587.4 502.6 585.5 504.8 584.6C507.0 583.7 510.0 582.6 512.6 582.0C515.2 581.4 517.9 581.0 520.5 581.2C523.1 581.4 525.7 583.1 528.3 583.3C530.9 583.5 533.6 582.4 536.2 582.5C538.8 582.6 542.5 584.1 544.0 584.1C545.5 584.1 544.2 582.8 545.0 582.3C545.8 581.8 547.6 581.2 548.9 580.8C550.2 580.4 551.5 579.9 552.8 580.0C554.1 580.1 555.4 581.0 556.7 581.6C558.0 582.2 559.2 583.6 560.6 583.9C562.0 584.1 563.5 582.7 565.3 583.1C567.1 583.5 569.8 585.4 571.6 586.2C573.4 587.0 574.7 587.7 576.2 587.8C577.8 587.9 579.1 587.5 580.9 587.0C582.7 586.5 585.1 585.5 587.2 584.7C589.3 583.9 591.3 582.9 593.4 582.3C595.5 581.6 597.6 581.0 599.7 580.8C601.8 580.6 604.1 581.3 605.9 581.2C607.7 581.1 609.0 580.4 610.6 580.3C612.2 580.2 613.7 580.8 615.3 580.8C616.9 580.8 618.4 580.5 620.0 580.3C621.6 580.1 623.1 579.6 624.7 579.7C626.3 579.8 627.6 580.5 629.4 580.8C631.2 581.1 633.3 581.6 635.6 581.6C637.9 581.6 640.8 580.7 643.4 580.8C646.0 580.9 648.6 581.9 651.2 582.3C653.8 582.7 656.5 582.8 659.1 583.1C661.7 583.4 664.3 583.9 666.9 583.9C669.5 583.9 672.1 583.4 674.7 583.1C677.3 582.8 679.9 582.3 682.5 582.3C685.1 582.3 688.2 582.9 690.3 583.1C692.4 583.3 692.9 583.4 695.0 583.7C697.1 584.0 700.2 584.9 702.8 585.1C705.4 585.3 708.0 584.4 710.6 584.7C713.2 585.0 716.1 586.8 718.4 587.0C720.7 587.2 722.3 586.7 724.3 585.7C726.3 584.7 728.2 581.8 730.2 581.2C732.2 580.6 733.7 581.9 736.0 582.3C738.3 582.7 740.9 583.3 743.8 583.7C746.7 584.1 750.3 584.3 753.6 584.7C756.9 585.1 760.1 586.0 763.4 586.2C766.6 586.4 770.2 586.1 773.1 585.7C776.0 585.3 778.3 583.7 780.9 583.7C783.5 583.7 786.5 585.2 788.8 585.7C791.1 586.2 792.6 586.9 794.6 586.6C796.6 586.3 798.5 584.4 800.5 583.7C802.5 583.1 804.0 582.7 806.3 582.7C808.6 582.7 811.5 583.5 814.1 583.7C816.7 583.9 819.1 584.0 822.0 583.7C824.9 583.4 828.5 582.2 831.7 581.8C835.0 581.4 838.6 581.1 841.5 581.2C844.4 581.4 846.7 582.3 849.3 582.7C851.9 583.1 854.5 583.2 857.1 583.7C859.7 584.2 862.6 585.5 864.9 585.7C867.2 585.9 868.8 585.5 870.8 585.1C872.8 584.7 874.6 583.5 876.6 583.1C878.6 582.7 880.7 582.7 882.5 582.7C884.3 582.7 886.6 583.0 887.4 583.1"/>
<path stroke="#000" d="M100.2 587.2C101.1 586.3 103.8 583.2 105.5 582.0C107.2 580.8 109.0 579.9 110.7 580.1C112.4 580.3 114.4 582.1 115.9 583.3C117.4 584.5 118.5 587.2 119.8 587.2C121.1 587.2 122.5 584.4 123.8 583.3C125.1 582.2 126.4 580.5 127.7 580.7C129.0 580.9 130.1 583.1 131.6 584.6C133.1 586.1 135.1 590.0 136.8 589.8C138.6 589.6 140.3 585.1 142.1 583.3C143.8 581.5 145.1 579.6 147.3 578.8C149.5 578.0 152.7 578.3 155.1 578.6C157.5 578.9 159.5 579.4 161.7 580.7C163.9 582.1 166.2 586.4 168.2 586.7C170.1 587.0 171.2 583.5 173.4 582.5C175.6 581.5 179.1 581.7 181.3 580.7C183.5 579.7 184.6 578.2 186.5 576.7C188.4 575.2 191.0 571.9 193.0 571.5C195.0 571.1 196.6 573.3 198.3 574.6C200.1 575.9 201.6 579.6 203.5 579.3C205.4 579.0 208.0 574.4 210.0 572.8C212.0 571.1 213.6 569.2 215.3 569.4C217.1 569.6 218.8 572.5 220.5 574.1C222.2 575.8 224.0 578.2 225.7 579.3C227.4 580.4 228.9 581.1 230.9 580.7C232.9 580.3 235.8 577.7 237.5 576.7C239.2 575.7 239.9 574.6 241.4 574.6C242.9 574.6 245.1 575.7 246.6 576.7C248.1 577.7 248.7 579.6 250.2 580.7C251.7 581.8 254.0 582.4 255.5 583.3C257.0 584.2 258.3 585.8 259.4 585.9C260.5 586.0 260.9 584.5 262.0 584.1C263.1 583.7 264.5 582.9 265.9 583.3C267.3 583.7 269.1 586.4 270.6 586.4C272.1 586.4 273.3 583.9 275.1 583.3C276.9 582.7 279.7 582.9 281.6 582.7C283.6 582.5 285.1 582.6 286.8 582.0C288.6 581.4 290.4 579.7 292.1 578.8C293.9 577.9 295.6 577.1 297.3 576.7C299.0 576.3 300.8 576.0 302.5 576.2C304.2 576.4 305.7 577.1 307.7 578.0C309.7 578.9 312.1 580.7 314.3 581.4C316.5 582.1 318.9 582.4 320.8 582.0C322.8 581.6 324.2 580.0 326.0 579.3C327.8 578.6 329.6 578.0 331.3 578.0C333.1 578.0 334.6 578.5 336.5 579.3C338.4 580.0 340.8 581.5 343.0 582.5C345.2 583.5 347.6 584.9 349.6 585.4C351.6 585.9 353.1 586.0 354.8 585.4C356.5 584.8 358.2 583.2 360.0 582.0C361.8 580.8 363.8 578.9 365.3 578.0C366.8 577.1 367.9 576.5 369.2 576.7C370.5 576.9 371.6 578.6 373.1 579.3C374.6 580.0 376.6 580.6 378.3 580.7C380.1 580.8 381.9 579.7 383.6 580.1C385.4 580.5 387.1 582.1 388.8 583.3C390.5 584.5 392.3 586.6 394.0 587.2C395.7 587.8 397.7 587.1 399.2 586.7C400.7 586.4 400.9 585.6 402.8 585.1C404.7 584.6 408.1 583.9 410.7 583.8C413.3 583.7 416.1 584.2 418.5 584.6C420.9 585.0 422.7 586.2 425.1 585.9C427.5 585.5 430.3 582.6 432.9 582.5C435.5 582.4 438.4 584.8 440.8 585.4C443.2 586.0 444.9 586.8 447.3 586.4C449.7 586.0 452.5 583.9 455.1 583.3C457.7 582.7 460.4 582.6 463.0 582.7C465.6 582.8 468.2 583.7 470.8 583.8C473.4 583.9 476.1 583.2 478.7 583.3C481.3 583.4 483.9 584.7 486.5 584.6C489.1 584.5 492.1 583.1 494.3 582.5C496.5 581.9 497.9 580.7 499.6 580.7C501.4 580.7 502.6 582.1 504.8 582.7C507.0 583.3 510.0 584.1 512.6 584.1C515.2 584.1 517.9 582.8 520.5 582.7C523.1 582.6 525.7 583.1 528.3 583.3C530.9 583.5 533.6 584.1 536.2 584.1C538.8 584.1 542.5 583.5 544.0 583.3C545.5 583.1 544.0 583.0 545.0 583.1C546.0 583.2 548.1 583.6 549.7 583.9C551.3 584.2 552.8 585.0 554.4 584.7C556.0 584.4 557.5 582.9 559.1 582.3C560.7 581.6 562.2 580.7 563.8 580.8C565.3 580.9 566.8 582.5 568.4 583.1C570.0 583.8 571.3 584.4 573.1 584.7C574.9 585.0 577.3 584.9 579.4 585.0C581.5 585.1 583.5 585.6 585.6 585.5C587.7 585.4 589.8 584.7 591.9 584.4C594.0 584.1 596.0 583.8 598.1 583.9C600.2 584.0 602.3 584.4 604.4 584.7C606.5 585.0 608.5 585.6 610.6 585.5C612.7 585.4 614.8 584.4 616.9 583.9C619.0 583.4 621.0 582.9 623.1 582.8C625.2 582.7 626.8 583.2 629.4 583.4C632.0 583.6 635.9 583.9 638.8 583.9C641.7 583.9 644.0 583.4 646.6 583.1C649.2 582.8 651.8 582.3 654.4 582.3C657.0 582.3 659.6 582.8 662.2 583.1C664.8 583.5 667.4 584.0 670.0 584.4C672.6 584.8 675.2 585.4 677.8 585.5C680.4 585.6 683.0 585.3 685.6 585.0C688.2 584.7 691.8 584.3 693.4 583.9C695.0 583.5 693.1 583.0 695.0 582.7C696.9 582.4 701.5 582.1 704.8 582.3C708.0 582.5 711.2 583.4 714.5 583.7C717.8 584.0 721.0 584.3 724.3 584.3C727.6 584.3 730.9 584.0 734.1 583.7C737.4 583.4 740.5 582.7 743.8 582.7C747.0 582.7 750.3 583.4 753.6 583.7C756.9 584.0 760.1 584.4 763.4 584.3C766.6 584.2 769.9 583.5 773.1 583.1C776.4 582.7 780.3 581.9 782.9 581.8C785.5 581.7 786.5 582.1 788.8 582.7C791.1 583.4 794.0 585.4 796.6 585.7C799.2 586.0 801.8 584.9 804.4 584.7C807.0 584.5 809.3 584.6 812.2 584.3C815.1 584.0 818.8 583.4 822.0 583.1C825.2 582.8 828.5 582.4 831.7 582.3C835.0 582.2 838.6 582.7 841.5 582.7C844.4 582.7 847.0 582.5 849.3 582.3C851.6 582.0 853.2 581.1 855.2 581.2C857.2 581.3 859.0 582.5 861.0 582.7C863.0 582.9 864.6 582.1 866.9 582.3C869.2 582.5 872.1 583.4 874.7 583.7C877.3 584.0 880.4 584.2 882.5 584.3C884.6 584.4 886.6 584.3 887.4 584.3"/>
</g>
<g stroke="#000" stroke-width="2.3" fill="none" stroke-linejoin="round">
<rect x="99.5" y="79.0" width="787.9" height="607.7"/>
<path d="M99.5 282.0H887.4M99.5 484.2H887.4"/>
</g>
<path stroke="#000" stroke-width="2.4" fill="none" d="M139.4 79.0v7.5M195.7 79.0v7.5M237.9 79.0v7.5M297.3 79.0v7.5M386.2 79.0v7.5M534.2 79.0v7.5M832.0 79.0v7.5M229.1 274.5v15.0M229.1 476.7v15.0M229.1 679.2v7.5M372.7 274.5v15.0M372.7 476.7v15.0M372.7 679.2v7.5M516.3 274.5v15.0M516.3 476.7v15.0M516.3 679.2v7.5M659.9 274.5v15.0M659.9 476.7v15.0M659.9 679.2v7.5M803.5 274.5v15.0M803.5 476.7v15.0M803.5 679.2v7.5M99.5 129.8h7.5M99.5 332.6h7.5M879.9 332.6h7.5M99.5 180.5h7.5M99.5 383.1h7.5M879.9 383.1h7.5M99.5 231.2h7.5M99.5 433.6h7.5M879.9 433.6h7.5M99.5 518.0h7.5M879.9 518.0h7.5M99.5 585.5h7.5M879.9 585.5h7.5M99.5 653.0h7.5M879.9 653.0h7.5"/>
<text x="493.3" y="34.3" text-anchor="middle">photon energy [eV]</text>
<text x="139.4" y="73.5" text-anchor="middle">90</text>
<text x="195.7" y="73.5" text-anchor="middle">70</text>
<text x="237.9" y="73.5" text-anchor="middle">60</text>
<text x="297.3" y="73.5" text-anchor="middle">50</text>
<text x="386.2" y="73.5" text-anchor="middle">40</text>
<text x="534.2" y="73.5" text-anchor="middle">30</text>
<text x="832.0" y="73.5" text-anchor="middle">20</text>
<text x="229.1" y="716.8" text-anchor="middle">20</text>
<text x="372.7" y="716.8" text-anchor="middle">30</text>
<text x="516.3" y="716.8" text-anchor="middle">40</text>
<text x="659.9" y="716.8" text-anchor="middle">50</text>
<text x="803.5" y="716.8" text-anchor="middle">60</text>
<text x="492.7" y="745.5" text-anchor="middle">wavelength [nm]</text>
<text x="93.5" y="88.8" text-anchor="end">50</text>
<text x="93.5" y="139.6" text-anchor="end">60</text>
<text x="93.5" y="190.3" text-anchor="end">70</text>
<text x="93.5" y="241.1" text-anchor="end">80</text>
<text x="93.5" y="291.8" text-anchor="end">50</text>
<text x="93.5" y="342.4" text-anchor="end">60</text>
<text x="93.5" y="392.9" text-anchor="end">70</text>
<text x="93.5" y="443.4" text-anchor="end">80</text>
<text x="93.5" y="494.0" text-anchor="end">90</text>
<text x="93.5" y="527.8" text-anchor="end">0.2</text>
<text x="93.5" y="595.2" text-anchor="end">0</text>
<text x="93.5" y="662.8" text-anchor="end">-0.2</text>
<text transform="translate(49.2 180) rotate(-90)" text-anchor="middle">Y [arb.]</text>
<text transform="translate(49.2 383) rotate(-90)" text-anchor="middle">Y [arb.]</text>
<text transform="translate(31.6 585.8) rotate(-90)" text-anchor="middle">sig-bkg. [arb.]</text>
<text x="114.3" y="138.9" text-anchor="start" style="stroke-width:1.1px">a)</text>
<text x="114.0" y="341.6" text-anchor="start" style="stroke-width:0">b)</text>
<text x="113.6" y="527.4" text-anchor="start" style="stroke-width:1.1px">c)</text>
<rect x="898.0" y="119.4" width="54.4" height="324.0" fill="url(#jet)" stroke="#000" stroke-opacity="0.45" stroke-width="1"/>
<text x="958.0" y="130.2" text-anchor="start">600</text>
<text x="958.0" y="184.2" text-anchor="start">400</text>
<text x="958.0" y="238.2" text-anchor="start">200</text>
<text x="958.0" y="292.2" text-anchor="start">0</text>
<text x="958.0" y="346.2" text-anchor="start">-200</text>
<text x="958.0" y="400.2" text-anchor="start">-400</text>
<text x="958.0" y="454.2" text-anchor="start">-600</text>
<path d="M898.0 173.4h2.5M952.4 173.4h-2.5M898.0 227.4h2.5M952.4 227.4h-2.5M898.0 281.4h2.5M952.4 281.4h-2.5M898.0 335.4h2.5M952.4 335.4h-2.5M898.0 389.4h2.5M952.4 389.4h-2.5" stroke="#000" stroke-opacity=".6" stroke-width="1" fill="none"/>
<rect x="671.7" y="494" width="207.4" height="68.6" fill="#fff" stroke="#000" stroke-width="2.2" stroke-linejoin="round"/>
<path d="M683 507.7H737.3" stroke="#0000ff" stroke-width="3" fill="none"/>
<text x="744.8" y="513.5" font-size="17.5" style="stroke-width:.4px">heterodyne min</text>
<path d="M683 528.7H737.3" stroke="#ff0000" stroke-width="3" fill="none"/>
<text x="744.8" y="534.5" font-size="17.5" style="stroke-width:.4px">heterodyne max</text>
<path d="M683 549.6H737.3" stroke="#000" stroke-width="3" fill="none"/>
<text x="744.8" y="555.4" font-size="17.5" style="stroke-width:.4px">no heterodyne</text>
</svg>
</body></html>
